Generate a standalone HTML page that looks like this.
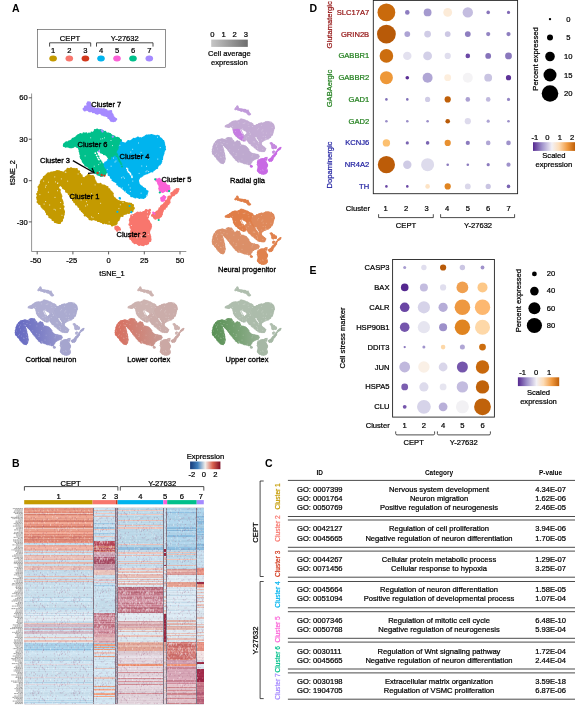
<!DOCTYPE html>
<html lang="en"><head><meta charset="utf-8"><title>Figure</title>
<style>html,body{margin:0;padding:0;background:#fff}svg{display:block}text{font-family:'Liberation Sans', Arial, Helvetica, sans-serif}</style>
</head><body>
<svg width="575" height="712" viewBox="0 0 575 712">
<rect width="575" height="712" fill="#fff"/>
<defs>
<g id="k1"><path d="M37.0 199.8L37.6 192.8L39.0 185.9L41.1 180.3L44.6 176.1L48.8 173.3L53.6 171.7L58.5 170.8L62.7 172.6L65.5 170.6L68.2 168.5L71.7 168.1L75.9 168.5L78.7 171.3L80.8 174.7L83.5 178.2L85.6 176.1L89.1 174.7L92.6 176.1L94.7 178.9L95.4 182.4L99.5 183.8L105.3 185.7L109.5 189.2L112.3 193.4L114.3 197.6L117.8 200.3L123.4 201.7L128.9 203.1L133.1 205.2L134.5 208.7L131.7 212.2L127.6 213.5L123.4 214.9L119.9 217.0L117.8 221.2L116.4 224.7L112.9 225.4L108.1 224.0L103.9 223.3L98.3 221.2L94.2 219.8L90.0 219.1L87.0 217.2L82.9 213.0L78.7 207.4L74.5 201.9L70.3 196.3L65.5 190.7L61.3 185.9L58.5 185.2L59.5 190.0L60.9 195.6L62.7 201.2L63.4 206.7L64.1 212.3L63.4 218.5L61.3 222.0L58.5 223.4L54.3 221.3L50.9 218.5L47.4 214.4L43.9 209.5L40.4 205.3L37.6 202.6Z" stroke-width="0.3"/><path d="M37.6 198.8h.01M37.3 197.4h.01M37.9 195.8h.01M37.4 193.9h.01M38.4 191.9h.01M39.1 190.9h.01M39.0 188.9h.01M38.7 186.9h.01M39.7 185.4h.01M41.2 183.4h.01M41.0 182.0h.01M41.6 180.5h.01M43.7 179.0h.01M44.0 177.3h.01M45.2 176.6h.01M46.8 174.7h.01M47.9 173.7h.01M49.0 173.4h.01M51.2 172.8h.01M52.6 172.8h.01M53.9 172.5h.01M55.5 171.9h.01M57.1 171.2h.01M58.8 171.5h.01M60.0 172.0h.01M61.7 172.3h.01M63.3 173.1h.01M65.0 171.7h.01M66.6 170.6h.01M67.7 169.1h.01M69.1 169.4h.01M71.0 168.4h.01M72.0 169.3h.01M74.0 169.6h.01M76.6 169.2h.01M76.9 170.7h.01M78.9 171.5h.01M79.9 174.1h.01M81.4 175.6h.01M81.8 177.4h.01M83.6 178.3h.01M86.8 176.9h.01M88.4 175.0h.01M89.3 175.8h.01M91.1 176.4h.01M92.8 176.2h.01M93.8 177.5h.01M94.2 179.6h.01M95.1 181.2h.01M95.6 182.6h.01M98.1 184.7h.01M100.4 184.0h.01M100.6 185.4h.01M102.5 185.8h.01M104.0 185.8h.01M105.4 186.4h.01M107.3 187.2h.01M108.0 189.4h.01M109.2 189.6h.01M110.5 191.4h.01M111.4 192.2h.01M112.6 193.7h.01M112.4 196.0h.01M113.0 197.2h.01M114.7 198.4h.01M116.4 199.9h.01M118.7 201.6h.01M119.7 202.0h.01M122.1 202.4h.01M124.2 202.3h.01M126.0 203.5h.01M127.6 203.8h.01M129.4 203.8h.01M131.0 204.0h.01M131.8 205.1h.01M132.8 205.3h.01M133.4 207.9h.01M133.4 208.2h.01M132.3 210.9h.01M130.7 211.8h.01M128.8 212.7h.01M126.1 213.2h.01M124.3 213.6h.01M122.4 215.7h.01M120.5 215.6h.01M119.4 217.1h.01M119.1 218.4h.01M118.4 220.1h.01M116.6 221.0h.01M116.4 223.3h.01M115.3 224.2h.01M113.5 224.5h.01M112.1 225.2h.01M111.0 223.8h.01M110.0 223.3h.01M108.0 223.4h.01M105.9 223.1h.01M103.2 223.1h.01M101.2 221.8h.01M99.9 221.0h.01M98.0 220.8h.01M95.6 219.6h.01M94.0 218.9h.01M91.7 219.6h.01M89.7 219.1h.01M88.9 217.3h.01M87.5 216.0h.01M84.9 215.2h.01M84.3 212.7h.01M83.7 212.2h.01M82.0 210.9h.01M80.3 209.3h.01M80.4 207.7h.01M78.6 206.5h.01M77.8 204.6h.01M76.2 204.2h.01M75.5 202.4h.01M74.3 201.8h.01M73.1 200.0h.01M72.8 198.2h.01M71.2 197.2h.01M70.2 195.5h.01M69.0 193.9h.01M68.1 191.9h.01M66.3 191.4h.01M66.3 189.9h.01M64.5 188.5h.01M63.3 187.9h.01M62.4 186.2h.01M60.5 184.9h.01M58.6 185.9h.01M57.6 187.3h.01M58.2 189.5h.01M59.6 190.1h.01M59.6 192.3h.01M60.6 194.4h.01M61.2 196.2h.01M60.7 197.8h.01M61.6 200.2h.01M62.2 201.6h.01M62.6 203.3h.01M62.2 205.8h.01M63.4 206.8h.01M63.0 209.6h.01M63.8 211.3h.01M63.8 212.7h.01M63.5 214.6h.01M62.4 215.9h.01M62.9 217.2h.01M61.9 218.7h.01M61.8 220.5h.01M60.7 221.1h.01M59.9 222.8h.01M58.3 222.7h.01M56.7 222.2h.01M55.0 221.8h.01M54.6 220.5h.01M52.7 219.7h.01M51.0 217.4h.01M49.5 216.9h.01M49.0 214.9h.01M47.1 214.0h.01M46.3 211.7h.01M45.4 209.5h.01M43.6 208.5h.01M42.4 207.3h.01M41.7 206.2h.01M40.5 203.7h.01M39.1 203.5h.01M37.8 201.9h.01" fill="none" stroke-linecap="round" stroke-width="2.5"/></g>
<g id="k2"><path d="M130.9 215.5L134.3 214.1L137.8 212.0L141.3 212.7L144.1 211.3L146.9 209.9L149.6 209.9L150.6 212.7L148.9 215.5L147.6 218.2L148.9 221.0L151.0 223.8L151.7 226.6L150.3 229.4L149.6 232.2L150.6 235.6L151.0 239.1L149.6 241.9L146.9 244.3L143.4 245.4L139.9 245.1L136.4 244.0L132.9 241.9L130.2 239.1L129.5 235.6L130.9 232.2L130.9 228.7L129.5 225.2L129.5 221.0L130.2 217.6ZM114.9 227.3L117.6 225.9L119.7 227.3L120.0 229.4L117.6 230.8L115.3 230.1ZM151.7 214.8L154.5 212.7L158.0 209.9L160.8 207.1L162.9 204.3L164.9 202.3L166.3 200.2L168.4 199.5L169.8 200.9L169.1 203.6L167.0 206.4L164.9 208.5L163.5 210.6L162.2 214.1L161.5 216.9L158.7 218.2L155.9 218.9L153.1 217.6ZM167.7 197.4L169.8 196.0L171.2 197.4L170.1 199.5L168.1 199.5ZM170.5 193.9L172.6 191.8L175.4 189.7L178.2 189.0L178.8 191.1L176.8 193.2L174.0 195.0L171.9 196.0Z" stroke-width="0.3"/><path d="M131.4 215.7h.01M133.0 215.3h.01M135.5 214.1h.01M137.3 213.1h.01M137.8 212.9h.01M140.4 212.7h.01M141.6 213.2h.01M143.4 212.3h.01M145.2 211.6h.01M146.1 210.2h.01M147.8 210.9h.01M149.8 210.0h.01M149.3 212.7h.01M149.1 213.8h.01M148.1 215.2h.01M147.8 217.3h.01M146.8 218.9h.01M147.6 220.5h.01M148.9 221.5h.01M149.9 223.7h.01M150.6 224.8h.01M150.7 226.8h.01M150.3 228.6h.01M149.2 230.6h.01M148.9 233.3h.01M149.3 235.1h.01M150.0 236.7h.01M150.0 238.0h.01M150.3 239.6h.01M150.1 240.8h.01M148.2 241.4h.01M147.9 243.3h.01M146.5 243.9h.01M144.4 243.7h.01M143.3 245.1h.01M141.6 244.5h.01M139.1 244.8h.01M138.2 244.0h.01M136.4 242.6h.01M134.6 242.9h.01M132.9 241.6h.01M132.0 239.7h.01M130.2 238.5h.01M130.0 237.1h.01M130.4 235.8h.01M130.9 233.8h.01M131.4 231.3h.01M132.0 230.1h.01M130.8 227.6h.01M131.1 225.9h.01M129.6 224.6h.01M130.7 223.1h.01M130.0 220.3h.01M130.5 218.9h.01M131.5 217.6h.01M115.5 227.2h.01M116.5 227.0h.01M117.6 227.0h.01M119.2 228.3h.01M119.8 229.5h.01M117.2 230.4h.01M115.6 228.5h.01M153.0 215.4h.01M153.7 214.0h.01M155.3 213.3h.01M156.9 212.1h.01M159.4 209.9h.01M159.6 208.6h.01M161.2 206.5h.01M162.5 205.6h.01M164.5 203.6h.01M165.9 201.3h.01M167.5 200.2h.01M169.2 200.2h.01M169.4 202.2h.01M168.3 203.7h.01M167.1 204.5h.01M166.4 206.6h.01M164.7 208.5h.01M162.5 210.8h.01M161.9 212.4h.01M161.7 214.2h.01M160.5 215.9h.01M159.0 217.2h.01M158.6 217.9h.01M155.4 218.5h.01M154.3 217.6h.01M154.3 217.0h.01M152.2 215.4h.01M168.6 197.1h.01M169.7 196.7h.01M170.7 197.6h.01M169.6 198.7h.01M168.2 199.1h.01M171.6 193.2h.01M173.8 191.7h.01M174.8 190.6h.01M176.7 189.3h.01M178.3 189.2h.01M177.4 191.4h.01M176.4 193.0h.01M174.3 194.0h.01M173.8 194.9h.01M171.7 195.8h.01" fill="none" stroke-linecap="round" stroke-width="2.5"/></g>
<g id="k4"><path d="M120.4 140.9L121.1 142.3L125.3 142.9L129.5 140.9L133.6 138.8L137.8 137.4L142.0 137.8L146.2 135.3L150.3 134.6L154.5 135.0L158.7 136.4L162.2 138.8L164.5 142.3L165.4 146.4L164.9 150.6L163.5 154.8L162.6 158.9L160.8 162.4L158.7 165.9L156.6 168.7L153.1 170.8L149.6 172.2L146.2 173.5L142.7 174.9L139.9 177.0L138.5 179.8L139.2 183.3L141.3 186.1L144.8 188.2L146.3 189.9L147.7 192.7L147.3 195.5L144.2 197.6L140.1 198.2L135.9 197.6L131.7 196.2L128.2 194.1L124.8 191.3L121.3 187.8L117.8 184.3L114.3 181.6L110.9 178.1L108.1 173.9L105.3 169.7L102.5 165.6L103.4 164.5L105.9 161.7L109.4 158.9L111.5 156.4L114.2 155.5L116.3 152.7L117.3 149.2L117.7 145.7L119.1 142.9L120.8 140.2Z" stroke-width="0.3"/><path d="M120.7 141.2h.01M122.2 142.9h.01M123.7 143.5h.01M126.4 143.6h.01M127.1 142.4h.01M128.3 141.2h.01M130.2 141.5h.01M132.1 140.6h.01M133.1 139.8h.01M133.8 139.0h.01M136.4 138.7h.01M137.9 137.8h.01M140.4 138.6h.01M143.0 138.0h.01M144.0 137.7h.01M145.8 136.2h.01M146.7 135.8h.01M148.6 135.8h.01M151.5 135.3h.01M153.2 135.9h.01M154.4 136.3h.01M157.3 136.1h.01M158.7 136.6h.01M160.5 138.7h.01M161.4 139.8h.01M163.2 141.2h.01M163.3 142.7h.01M163.8 144.7h.01M164.6 147.0h.01M164.9 149.2h.01M163.3 151.3h.01M163.2 153.5h.01M162.5 154.7h.01M161.9 157.0h.01M161.9 158.9h.01M161.1 161.5h.01M160.5 163.0h.01M159.6 164.2h.01M157.1 166.0h.01M157.0 167.7h.01M155.4 168.3h.01M154.1 169.4h.01M152.3 171.3h.01M151.0 171.1h.01M149.3 171.9h.01M147.3 173.0h.01M145.5 173.6h.01M143.7 174.2h.01M142.2 175.5h.01M140.7 176.4h.01M138.9 177.5h.01M138.6 178.6h.01M137.8 180.6h.01M138.1 182.5h.01M138.5 184.5h.01M139.9 186.0h.01M141.5 186.7h.01M143.0 188.5h.01M144.8 189.1h.01M145.5 190.8h.01M147.3 191.5h.01M146.4 193.7h.01M146.2 195.3h.01M144.9 196.8h.01M143.5 197.8h.01M141.9 197.5h.01M139.5 197.8h.01M138.1 197.1h.01M135.3 197.2h.01M133.6 196.4h.01M131.4 196.1h.01M129.7 193.5h.01M128.2 192.7h.01M126.7 191.5h.01M125.3 190.5h.01M124.0 188.9h.01M123.1 188.2h.01M121.6 187.3h.01M119.3 186.1h.01M119.0 185.2h.01M117.4 184.2h.01M115.8 181.4h.01M114.3 181.0h.01M112.7 180.1h.01M112.8 178.4h.01M111.1 177.5h.01M110.5 175.2h.01M108.8 174.8h.01M108.9 173.0h.01M106.7 171.7h.01M106.0 170.2h.01M105.1 169.3h.01M105.0 166.9h.01M104.0 166.4h.01M103.5 166.2h.01M103.4 164.4h.01M105.4 162.7h.01M107.5 161.8h.01M108.4 159.7h.01M110.7 159.2h.01M110.6 157.3h.01M111.9 156.6h.01M114.8 154.9h.01M115.5 154.0h.01M117.5 152.3h.01M117.7 150.8h.01M118.1 148.4h.01M117.8 147.3h.01M118.8 145.3h.01M119.2 144.4h.01M120.2 143.5h.01M120.7 141.5h.01M120.8 140.4h.01" fill="none" stroke-linecap="round" stroke-width="2.5"/></g>
<g id="k5"><path d="M155.9 179.3L159.4 178.9L162.9 182.1L167.0 184.5L169.8 187.0L170.1 189.7L168.4 191.8L165.6 191.1L163.5 192.5L160.8 191.8L159.4 189.0L158.7 185.6L157.3 182.1ZM160.8 197.4L163.5 196.0L165.6 197.4L164.9 200.2L162.9 201.6L160.8 200.6Z" stroke-width="0.3"/><path d="M156.5 179.5h.01M158.0 180.1h.01M159.3 179.1h.01M160.9 180.6h.01M161.5 181.7h.01M162.4 183.2h.01M165.1 183.2h.01M165.6 184.7h.01M166.5 185.6h.01M168.8 186.1h.01M169.1 188.0h.01M169.1 189.7h.01M167.2 190.9h.01M164.4 190.7h.01M162.5 191.7h.01M160.4 191.0h.01M159.8 189.8h.01M159.4 188.4h.01M159.9 186.7h.01M159.3 184.4h.01M158.4 183.4h.01M157.8 181.6h.01M156.3 180.3h.01M161.7 197.9h.01M163.1 197.4h.01M163.8 196.2h.01M165.1 197.3h.01M164.1 200.1h.01M162.9 200.5h.01M161.9 200.5h.01M161.4 198.4h.01" fill="none" stroke-linecap="round" stroke-width="2.5"/></g>
<g id="k6"><path d="M63.5 144.8L66.3 142.3L69.7 140.9L73.9 137.8L79.5 134.6L84.3 133.2L89.9 133.9L92.7 132.2L94.8 130.0L98.2 129.5L101.7 130.4L105.9 132.5L109.4 133.2L112.9 135.3L115.6 137.4L119.1 138.1L120.8 140.2L119.1 142.9L117.7 145.7L117.3 149.2L116.3 152.7L114.2 155.5L111.5 156.4L109.4 158.9L107.3 157.3L104.8 154.1L101.0 152.3L97.8 149.9L95.9 150.9L96.4 153.4L98.2 156.4L100.3 160.3L102.4 164.5L104.8 168.7L106.6 172.6L105.6 175.1L101.7 175.9L97.6 174.5L93.4 171.7L89.5 168.7L86.1 165.6L82.5 161.7L80.4 156.9L79.5 151.7L77.8 147.5L75.0 146.7L72.2 147.8L68.3 147.3L64.9 146.7Z" stroke-width="0.3"/><path d="M64.2 144.3h.01M65.2 143.6h.01M66.4 142.5h.01M68.9 141.8h.01M70.4 141.3h.01M71.8 140.6h.01M72.8 138.9h.01M74.5 138.5h.01M76.5 137.5h.01M76.9 136.5h.01M78.4 135.3h.01M80.4 134.2h.01M81.8 134.9h.01M83.7 133.4h.01M84.7 134.2h.01M86.2 133.6h.01M89.0 133.8h.01M90.4 133.9h.01M91.6 132.8h.01M93.6 133.1h.01M94.9 131.2h.01M95.0 130.2h.01M97.1 129.8h.01M98.4 130.7h.01M100.3 130.3h.01M102.2 131.5h.01M103.0 131.5h.01M105.1 132.0h.01M106.1 133.4h.01M108.4 133.7h.01M110.0 134.2h.01M111.0 135.4h.01M112.6 136.3h.01M114.2 136.7h.01M115.7 138.0h.01M117.5 137.9h.01M118.9 138.7h.01M120.2 140.2h.01M118.7 142.0h.01M118.7 143.6h.01M118.3 144.7h.01M117.3 146.4h.01M117.6 147.8h.01M117.1 149.3h.01M115.6 151.0h.01M115.7 153.2h.01M115.0 154.4h.01M112.6 155.7h.01M110.3 156.4h.01M110.0 158.5h.01M109.2 158.3h.01M108.1 156.5h.01M106.5 154.8h.01M104.1 153.9h.01M102.5 152.8h.01M101.0 152.2h.01M98.8 150.8h.01M97.3 149.7h.01M96.1 151.7h.01M96.7 154.1h.01M97.0 156.0h.01M98.2 156.7h.01M98.7 159.1h.01M100.2 160.8h.01M101.3 162.5h.01M101.6 163.5h.01M102.6 164.6h.01M102.6 166.3h.01M103.4 168.3h.01M105.1 169.9h.01M105.0 171.9h.01M105.7 172.6h.01M104.6 174.0h.01M102.6 175.6h.01M100.9 175.7h.01M99.2 174.7h.01M97.7 174.2h.01M96.2 173.0h.01M94.6 172.5h.01M93.4 171.1h.01M92.4 170.0h.01M90.6 169.6h.01M89.6 168.2h.01M88.7 167.1h.01M87.2 165.7h.01M85.5 165.2h.01M84.9 163.8h.01M84.0 162.7h.01M83.0 161.5h.01M82.1 159.3h.01M81.2 158.1h.01M80.8 156.8h.01M80.6 154.1h.01M80.5 153.0h.01M79.8 151.3h.01M79.5 148.4h.01M77.4 146.7h.01M73.1 146.4h.01M71.6 147.0h.01M69.9 147.1h.01M68.2 146.2h.01M65.7 146.5h.01M64.0 145.7h.01" fill="none" stroke-linecap="round" stroke-width="2.5"/></g>
<g id="k7"><path d="M83.2 108.8L84.6 106.7L86.7 105.3L87.8 102.5L89.5 101.8L90.6 103.9L91.6 107.4L95.7 108.1L100.6 108.8L104.8 108.8L108.2 110.9L111.0 110.9L112.4 114.3L113.8 117.8L115.9 119.2L115.2 121.3L111.7 121.7L109.6 119.9L108.2 117.1L105.5 115.7L102.7 115.0L99.9 113.6L96.4 113.9L92.9 112.3L89.5 110.9L86.0 110.6L83.9 110.2Z" stroke-width="0.3"/><path d="M83.8 108.9h.01M85.2 106.7h.01M87.4 103.7h.01M88.1 102.6h.01M89.8 102.7h.01M90.0 104.1h.01M91.0 106.1h.01M92.0 108.3h.01M94.2 108.6h.01M96.1 109.2h.01M98.3 108.7h.01M99.2 109.7h.01M101.0 109.6h.01M103.6 109.6h.01M105.2 110.3h.01M106.3 110.5h.01M109.1 111.5h.01M111.0 111.3h.01M111.5 113.6h.01M112.4 114.7h.01M113.2 116.4h.01M114.5 118.2h.01M116.0 119.3h.01M115.0 120.5h.01M113.3 121.0h.01M111.1 120.5h.01M110.6 119.3h.01M108.5 117.8h.01M108.3 116.5h.01M106.4 115.7h.01M104.3 115.3h.01M102.2 114.5h.01M101.4 113.4h.01M98.9 112.7h.01M97.5 113.4h.01M96.0 112.9h.01M94.3 111.8h.01M93.0 111.9h.01M90.6 111.1h.01M89.3 111.0h.01M87.2 109.5h.01M84.8 110.3h.01M84.0 109.4h.01" fill="none" stroke-linecap="round" stroke-width="2.5"/></g>
<g id="kw" fill="none" stroke-linecap="round"><path d="M81.1 200.1h.01M86.5 201.7h.01M55.0 197.4h.01M98.4 213.5h.01M46.1 185.4h.01M100.7 203.3h.01M55.5 181.9h.01M39.9 194.6h.01M87.6 204.8h.01M85.7 206.0h.01M81.6 184.0h.01M118.9 208.6h.01M67.7 181.2h.01M65.2 172.1h.01M44.1 204.1h.01M45.5 187.1h.01M131.0 211.5h.01M48.5 182.2h.01M91.5 193.7h.01M55.6 210.0h.01M49.7 205.0h.01M48.3 192.2h.01M57.7 183.5h.01M57.5 190.7h.01M120.3 204.8h.01M57.8 182.9h.01M65.9 172.3h.01M45.7 201.5h.01M60.7 202.5h.01M73.2 194.0h.01M93.0 217.7h.01M54.8 176.9h.01M61.3 178.9h.01M109.1 222.0h.01M123.0 202.6h.01M78.1 174.0h.01M60.2 208.4h.01M62.0 215.3h.01M95.1 184.9h.01M54.1 209.3h.01M43.7 181.1h.01M91.5 216.9h.01M141.1 152.4h.01M160.2 147.6h.01M113.6 158.1h.01M138.5 143.0h.01M125.3 191.3h.01M146.0 171.8h.01M146.6 195.9h.01M132.8 181.1h.01M107.2 169.4h.01M124.6 178.2h.01M128.7 184.9h.01M141.8 158.9h.01M139.1 173.4h.01M148.3 159.3h.01M148.7 171.6h.01M130.2 188.0h.01M132.7 149.3h.01M146.4 166.3h.01M141.1 193.2h.01M121.4 177.8h.01M130.3 191.4h.01M123.1 177.0h.01M115.0 162.0h.01M157.8 159.1h.01M139.2 154.7h.01M111.1 166.2h.01M147.2 195.1h.01M119.9 145.4h.01M130.8 152.1h.01M116.0 161.0h.01M141.8 166.0h.01M122.3 188.0h.01M157.4 137.2h.01M147.0 170.9h.01M111.0 140.5h.01M99.5 150.2h.01M99.6 159.9h.01M102.7 138.7h.01M90.7 137.8h.01M104.4 137.8h.01M79.1 145.5h.01M98.7 164.6h.01M99.3 171.7h.01M85.1 155.9h.01M100.8 139.0h.01M100.2 162.8h.01M94.2 166.2h.01M112.5 145.6h.01M131.3 225.5h.01M141.7 237.1h.01M147.5 212.2h.01M147.3 216.0h.01M136.9 237.8h.01M132.6 215.2h.01M141.0 235.6h.01M148.2 234.4h.01" stroke="#fff"/><path d="M126.8 168.3h.01M127.6 169.0h.01M127.6 170.5h.01M128.4 171.8h.01M129.5 172.6h.01M130.4 173.7h.01M130.6 174.6h.01M131.9 176.2h.01M132.0 177.3h.01M95.3 153.2h.01M96.6 155.4h.01M97.6 157.6h.01M98.6 159.4h.01" stroke="#fff" stroke-width="1.7" stroke-opacity="1"/></g>
<path id="k6c" d="M117.0 154.3h.01M121.3 164.0h.01M118.3 158.0h.01M119.5 161.0h.01M122.0 166.5h.01M116.5 156.0h.01M120.5 162.5h.01M117.6 156.3h.01M118.9 159.6h.01" fill="none" stroke-linecap="round" stroke-width="2.2"/>
<path id="k6b" d="M79.5 151.7L80.4 156.9L82.5 161.7L86.1 165.6L89.5 168.7L93.4 171.7L96.4 173.5L99.6 172.9L101.7 168.0L100.3 161.7L98.2 156.4L96.4 153.4L93.4 151.3L89.9 150.3L84.3 150.6Z"/>
<g id="k3"><circle cx="97.6" cy="172.9" r="1.0"/><circle cx="101.7" cy="175" r="1.0"/><circle cx="104.5" cy="175.6" r="0.9"/></g>
<linearGradient id="gGrey" x1="0" x2="1" y1="0" y2="0"><stop offset="0" stop-color="#c6c6c6"/><stop offset="1" stop-color="#6e6e6e"/></linearGradient>
<linearGradient id="gPO" x1="0" x2="1" y1="0" y2="0"><stop offset="0" stop-color="#54278f"/><stop offset="0.22" stop-color="#a194cc"/><stop offset="0.45" stop-color="#f3f1f6"/><stop offset="0.62" stop-color="#fddcb6"/><stop offset="0.82" stop-color="#f09a40"/><stop offset="1" stop-color="#bf5f08"/></linearGradient>
<linearGradient id="gRB" x1="0" x2="1" y1="0" y2="0"><stop offset="0" stop-color="#163a78"/><stop offset="0.25" stop-color="#3f7fbd"/><stop offset="0.5" stop-color="#f2eeea"/><stop offset="0.75" stop-color="#d9614e"/><stop offset="1" stop-color="#7d0e24"/></linearGradient>
<linearGradient id="gCort" x1="0" x2="1" y1="0" y2="0"><stop offset="0" stop-color="#6468c2"/><stop offset="0.5" stop-color="#7c7ec6"/><stop offset="1" stop-color="#9a9acd"/></linearGradient>
<linearGradient id="gLow" x1="0" x2="1" y1="0" y2="0"><stop offset="0" stop-color="#d96e5e"/><stop offset="0.5" stop-color="#cf8478"/><stop offset="1" stop-color="#c79b95"/></linearGradient>
<linearGradient id="gUp" x1="0" x2="1" y1="0" y2="0"><stop offset="0" stop-color="#589054"/><stop offset="0.5" stop-color="#74a070"/><stop offset="1" stop-color="#96b094"/></linearGradient>
</defs>
<text x="12.0" y="11.8" font-size="10.5" text-anchor="start" fill="#000" font-weight="bold">A</text>
<rect x="37.3" y="29.5" width="128.3" height="37.8" fill="none" stroke="#444" stroke-width="0.6"/>
<text x="70.0" y="40.6" font-size="7.6" text-anchor="middle" fill="#000" stroke="#000" stroke-width="0.22">CEPT</text>
<text x="124.8" y="40.6" font-size="7.6" text-anchor="middle" fill="#000" stroke="#000" stroke-width="0.22">Y-27632</text>
<path d="M49.6 46.6V42.8H90.7V46.6M96.5 46.6V42.8H153V46.6" fill="none" stroke="#111" stroke-width="0.75"/>
<text x="53.1" y="53.2" font-size="7.6" text-anchor="middle" fill="#000" stroke="#000" stroke-width="0.22">1</text>
<ellipse cx="53.1" cy="58.4" rx="3.8" ry="3" fill="#C49A00"/>
<text x="69.3" y="53.2" font-size="7.6" text-anchor="middle" fill="#000" stroke="#000" stroke-width="0.22">2</text>
<ellipse cx="69.3" cy="58.4" rx="3.8" ry="3" fill="#F8766D"/>
<text x="85.4" y="53.2" font-size="7.6" text-anchor="middle" fill="#000" stroke="#000" stroke-width="0.22">3</text>
<ellipse cx="85.4" cy="58.4" rx="3.8" ry="3" fill="#D2381C"/>
<text x="101.0" y="53.2" font-size="7.6" text-anchor="middle" fill="#000" stroke="#000" stroke-width="0.22">4</text>
<ellipse cx="101" cy="58.4" rx="3.8" ry="3" fill="#00B4EE"/>
<text x="117.0" y="53.2" font-size="7.6" text-anchor="middle" fill="#000" stroke="#000" stroke-width="0.22">5</text>
<ellipse cx="117" cy="58.4" rx="3.8" ry="3" fill="#FB61D7"/>
<text x="133.0" y="53.2" font-size="7.6" text-anchor="middle" fill="#000" stroke="#000" stroke-width="0.22">6</text>
<ellipse cx="133" cy="58.4" rx="3.8" ry="3" fill="#00C08B"/>
<text x="149.3" y="53.2" font-size="7.6" text-anchor="middle" fill="#000" stroke="#000" stroke-width="0.22">7</text>
<ellipse cx="149.3" cy="58.4" rx="3.8" ry="3" fill="#A58AFF"/>
<text x="212.3" y="36.9" font-size="7.6" text-anchor="middle" fill="#000" stroke="#000" stroke-width="0.22">0</text>
<text x="223.6" y="36.9" font-size="7.6" text-anchor="middle" fill="#000" stroke="#000" stroke-width="0.22">1</text>
<text x="234.7" y="36.9" font-size="7.6" text-anchor="middle" fill="#000" stroke="#000" stroke-width="0.22">2</text>
<text x="245.8" y="36.9" font-size="7.6" text-anchor="middle" fill="#000" stroke="#000" stroke-width="0.22">3</text>
<rect x="211.2" y="39.6" width="36.6" height="7.3" fill="url(#gGrey)"/>
<text x="229.4" y="55.9" font-size="7.6" text-anchor="middle" fill="#000" stroke="#000" stroke-width="0.22">Cell average</text>
<text x="229.4" y="64.7" font-size="7.6" text-anchor="middle" fill="#000" stroke="#000" stroke-width="0.22">expression</text>
<path d="M31.6 93.5V251.5H186.3" fill="none" stroke="#7a7a7a" stroke-width="0.8"/>
<path d="M28.8 97.8H31.6" stroke="#333" stroke-width="0.8"/>
<text x="27.8" y="100.4" font-size="7.6" text-anchor="end" fill="#000" stroke="#000" stroke-width="0.22">60</text>
<path d="M28.8 139.2H31.6" stroke="#333" stroke-width="0.8"/>
<text x="27.8" y="141.8" font-size="7.6" text-anchor="end" fill="#000" stroke="#000" stroke-width="0.22">30</text>
<path d="M28.8 180.7H31.6" stroke="#333" stroke-width="0.8"/>
<text x="27.8" y="183.3" font-size="7.6" text-anchor="end" fill="#000" stroke="#000" stroke-width="0.22">0</text>
<path d="M28.8 221.9H31.6" stroke="#333" stroke-width="0.8"/>
<text x="27.8" y="224.5" font-size="7.6" text-anchor="end" fill="#000" stroke="#000" stroke-width="0.22">-30</text>
<path d="M37.2 251.5V254.4" stroke="#333" stroke-width="0.8"/>
<text x="35.7" y="262.8" font-size="7.6" text-anchor="middle" fill="#000" stroke="#000" stroke-width="0.22">-50</text>
<path d="M72.9 251.5V254.4" stroke="#333" stroke-width="0.8"/>
<text x="71.7" y="262.8" font-size="7.6" text-anchor="middle" fill="#000" stroke="#000" stroke-width="0.22">-25</text>
<path d="M108.6 251.5V254.4" stroke="#333" stroke-width="0.8"/>
<text x="108.6" y="262.8" font-size="7.6" text-anchor="middle" fill="#000" stroke="#000" stroke-width="0.22">0</text>
<path d="M144.3 251.5V254.4" stroke="#333" stroke-width="0.8"/>
<text x="144.3" y="262.8" font-size="7.6" text-anchor="middle" fill="#000" stroke="#000" stroke-width="0.22">25</text>
<path d="M180 251.5V254.4" stroke="#333" stroke-width="0.8"/>
<text x="180.0" y="262.8" font-size="7.6" text-anchor="middle" fill="#000" stroke="#000" stroke-width="0.22">50</text>
<text x="112.0" y="276.4" font-size="7.4" text-anchor="middle" fill="#000" stroke="#000" stroke-width="0.22">tSNE_1</text>
<text x="15.2" y="172.5" font-size="7.2" text-anchor="middle" fill="#000" stroke="#000" stroke-width="0.22" transform="rotate(-90 15.2 172.5)">tSNE_2</text>
<g>
<use href="#k1" fill="#C49A00" stroke="#C49A00"/>
<use href="#k4" fill="#00B4EE" stroke="#00B4EE"/>
<use href="#k6" fill="#00C08B" stroke="#00C08B"/>
<use href="#k2" fill="#F8766D" stroke="#F8766D"/>
<use href="#k5" fill="#FB61D7" stroke="#FB61D7"/>
<use href="#k7" fill="#A58AFF" stroke="#A58AFF"/>
<use href="#k3" fill="#D2381C" stroke="#D2381C" stroke-width="0.5"/>
<use href="#k6c" stroke="#00C08B"/>
<use href="#kw" stroke-width="0.9"/>
</g>
<circle cx="120" cy="198.6" r="1.1" fill="#00B4EE"/>
<circle cx="117.4" cy="211.8" r="1.1" fill="#00B4EE"/>
<circle cx="129.6" cy="206" r="1.1" fill="#00B4EE"/>
<circle cx="131.3" cy="212.2" r="1.1" fill="#00B4EE"/>
<circle cx="119.6" cy="198" r="1.1" fill="#00B4EE"/>
<circle cx="155.2" cy="179.3" r="1.1" fill="#00C08B"/>
<circle cx="158.7" cy="220" r="1.1" fill="#00C08B"/>
<circle cx="159.8" cy="192.5" r="1.1" fill="#00C08B"/>
<circle cx="169.1" cy="191.1" r="1.1" fill="#00C08B"/>
<circle cx="101.7" cy="130" r="1.1" fill="#A58AFF"/>
<circle cx="112.8" cy="136.7" r="1.1" fill="#A58AFF"/>
<circle cx="99" cy="151.3" r="1.1" fill="#A58AFF"/>
<circle cx="102.5" cy="131.5" r="1.1" fill="#A58AFF"/>
<circle cx="153.2" cy="212.7" r="1.1" fill="#FB61D7"/>
<circle cx="154.5" cy="213.8" r="1.1" fill="#FB61D7"/>
<text x="106.3" y="107.3" font-size="7.5" text-anchor="middle" fill="#000" stroke="#000" stroke-width="0.34">Cluster 7</text>
<text x="92.5" y="146.5" font-size="7.5" text-anchor="middle" fill="#000" stroke="#000" stroke-width="0.34">Cluster 6</text>
<text x="134.5" y="159.0" font-size="7.5" text-anchor="middle" fill="#000" stroke="#000" stroke-width="0.34">Cluster 4</text>
<text x="55.0" y="163.2" font-size="7.5" text-anchor="middle" fill="#000" stroke="#000" stroke-width="0.34">Cluster 3</text>
<text x="176.5" y="181.5" font-size="7.5" text-anchor="middle" fill="#000" stroke="#000" stroke-width="0.34">Cluster 5</text>
<text x="84.5" y="198.8" font-size="7.5" text-anchor="middle" fill="#000" stroke="#000" stroke-width="0.34">Cluster 1</text>
<text x="131.5" y="236.8" font-size="7.5" text-anchor="middle" fill="#000" stroke="#000" stroke-width="0.34">Cluster 2</text>
<path d="M72.9 160.6L93.6 172.5" stroke="#000" stroke-width="1.25" fill="none"/>
<path d="M88 173.3L94.1 172.8L92 168.1" stroke="#000" stroke-width="1.2" fill="none" stroke-linejoin="miter"/>
<g transform="translate(194.09 56.84) scale(0.487 0.479)">
<use href="#k1" fill="#BEA9CF" stroke="#BEA9CF"/>
<use href="#k4" fill="#C3ABD3" stroke="#C3ABD3"/>
<use href="#k6" fill="#C3ABD3" stroke="#C3ABD3"/>
<use href="#k6b" fill="#C67CE2"/>
<use href="#k2" fill="#C86AE4" stroke="#C86AE4"/>
<use href="#k5" fill="#C58ADE" stroke="#C58ADE"/>
<use href="#k7" fill="#C19BDA" stroke="#C19BDA"/>
<use href="#k3" fill="#C86AE4" stroke="#C86AE4" stroke-width="0.5"/>
<use href="#k6c" stroke="#C3ABD3"/>
<use href="#kw" stroke-width="1.3" stroke-opacity="0.45"/>
</g>
<text x="247.5" y="182.7" font-size="7.5" text-anchor="middle" fill="#000" stroke="#000" stroke-width="0.3">Radial glia</text>
<g transform="translate(194.09 147.04) scale(0.487 0.479)">
<use href="#k1" fill="#DB8F68" stroke="#DB8F68"/>
<use href="#k4" fill="#DF8859" stroke="#DF8859"/>
<use href="#k6" fill="#E07E48" stroke="#E07E48"/>
<use href="#k2" fill="#E0824E" stroke="#E0824E"/>
<use href="#k5" fill="#E0824E" stroke="#E0824E"/>
<use href="#k7" fill="#E07E48" stroke="#E07E48"/>
<use href="#k3" fill="#E0824E" stroke="#E0824E" stroke-width="0.5"/>
<use href="#k6c" stroke="#E07E48"/>
<use href="#kw" stroke-width="1.3" stroke-opacity="0.45"/>
</g>
<text x="247.0" y="272.0" font-size="7.5" text-anchor="middle" fill="#000" stroke="#000" stroke-width="0.3">Neural progenitor</text>
<g transform="translate(-2.91 237.84) scale(0.487 0.479)">
<use href="#k1" fill="url(#gCort)" stroke="url(#gCort)"/>
<use href="#k4" fill="#ABABD0" stroke="#ABABD0"/>
<use href="#k6" fill="#AFAED2" stroke="#AFAED2"/>
<use href="#k2" fill="#A5A5CE" stroke="#A5A5CE"/>
<use href="#k5" fill="#B0AFD3" stroke="#B0AFD3"/>
<use href="#k7" fill="#AFAED2" stroke="#AFAED2"/>
<use href="#k3" fill="#A5A5CE" stroke="#A5A5CE" stroke-width="0.5"/>
<use href="#k6c" stroke="#AFAED2"/>
<use href="#kw" stroke-width="1.3" stroke-opacity="0.45"/>
</g>
<text x="50.9" y="361.7" font-size="7.5" text-anchor="middle" fill="#000" stroke="#000" stroke-width="0.3">Cortical neuron</text>
<g transform="translate(96.99 237.84) scale(0.487 0.479)">
<use href="#k1" fill="url(#gLow)" stroke="url(#gLow)"/>
<use href="#k4" fill="#CBADAA" stroke="#CBADAA"/>
<use href="#k6" fill="#CDB3B0" stroke="#CDB3B0"/>
<use href="#k2" fill="#CBA8A4" stroke="#CBA8A4"/>
<use href="#k5" fill="#CEB3B0" stroke="#CEB3B0"/>
<use href="#k7" fill="#CDB3B0" stroke="#CDB3B0"/>
<use href="#k3" fill="#CBA8A4" stroke="#CBA8A4" stroke-width="0.5"/>
<use href="#k6c" stroke="#CDB3B0"/>
<use href="#kw" stroke-width="1.3" stroke-opacity="0.45"/>
</g>
<text x="148.8" y="361.7" font-size="7.5" text-anchor="middle" fill="#000" stroke="#000" stroke-width="0.3">Lower cortex</text>
<g transform="translate(194.09 237.84) scale(0.487 0.479)">
<use href="#k1" fill="url(#gUp)" stroke="url(#gUp)"/>
<use href="#k4" fill="#ACBCAB" stroke="#ACBCAB"/>
<use href="#k6" fill="#AFBEAE" stroke="#AFBEAE"/>
<use href="#k2" fill="#A6B8A5" stroke="#A6B8A5"/>
<use href="#k5" fill="#B0BFAF" stroke="#B0BFAF"/>
<use href="#k7" fill="#AFBEAE" stroke="#AFBEAE"/>
<use href="#k3" fill="#A6B8A5" stroke="#A6B8A5" stroke-width="0.5"/>
<use href="#k6c" stroke="#AFBEAE"/>
<use href="#kw" stroke-width="1.3" stroke-opacity="0.45"/>
</g>
<text x="247.0" y="361.7" font-size="7.5" text-anchor="middle" fill="#000" stroke="#000" stroke-width="0.3">Upper cortex</text>
<text x="309.4" y="11.8" font-size="10.5" text-anchor="start" fill="#000" font-weight="bold">D</text>
<rect x="373.3" y="0.4" width="144.3" height="193.3" fill="none" stroke="#222" stroke-width="0.9"/>
<text x="369.2" y="14.9" font-size="7.6" text-anchor="end" fill="#931212" stroke="#931212" stroke-width="0.22">SLC17A7</text>
<circle cx="386.4" cy="12.4" r="8.9" fill="#C96A0C"/>
<circle cx="407.3" cy="12.4" r="2.3" fill="#8D7CC0"/>
<circle cx="427.6" cy="12.4" r="3.9" fill="#A59ACF"/>
<circle cx="447.7" cy="12.4" r="4.4" fill="#FCEBD8"/>
<circle cx="467.8" cy="12.4" r="5.2" fill="#C4BDE0"/>
<circle cx="488.2" cy="12.4" r="1.8" fill="#8875BB"/>
<circle cx="508.5" cy="12.4" r="1.6" fill="#8068B5"/>
<text x="369.2" y="36.6" font-size="7.6" text-anchor="end" fill="#931212" stroke="#931212" stroke-width="0.22">GRIN2B</text>
<circle cx="386.4" cy="34.1" r="9.4" fill="#B85A08"/>
<circle cx="407.3" cy="34.1" r="2.9" fill="#ADA3D4"/>
<circle cx="427.6" cy="34.1" r="3.4" fill="#D0CCE6"/>
<circle cx="447.7" cy="34.1" r="2.9" fill="#CDC8E4"/>
<circle cx="467.8" cy="34.1" r="2.9" fill="#8E7EC0"/>
<circle cx="488.2" cy="34.1" r="2.1" fill="#9384C3"/>
<circle cx="508.5" cy="34.1" r="2.1" fill="#8D7DBF"/>
<text x="369.2" y="58.4" font-size="7.6" text-anchor="end" fill="#23801F" stroke="#23801F" stroke-width="0.22">GABBR1</text>
<circle cx="386.4" cy="55.9" r="6.8" fill="#CC6D0E"/>
<circle cx="407.3" cy="55.9" r="4.2" fill="#E3E1EF"/>
<circle cx="427.6" cy="55.9" r="4.4" fill="#D3D0E8"/>
<circle cx="447.7" cy="55.9" r="3.1" fill="#E0DEEE"/>
<circle cx="467.8" cy="55.9" r="2.3" fill="#6B48A5"/>
<circle cx="488.2" cy="55.9" r="2.9" fill="#8673BA"/>
<circle cx="508.5" cy="55.9" r="3.4" fill="#8A78BD"/>
<text x="369.2" y="80.2" font-size="7.6" text-anchor="end" fill="#23801F" stroke="#23801F" stroke-width="0.22">GABBR2</text>
<circle cx="386.4" cy="77.7" r="6.5" fill="#EE9838"/>
<circle cx="407.3" cy="77.7" r="1.8" fill="#5A2D94"/>
<circle cx="427.6" cy="77.7" r="5.0" fill="#B0A6D5"/>
<circle cx="447.7" cy="77.7" r="3.4" fill="#FDEEDD"/>
<circle cx="467.8" cy="77.7" r="5.0" fill="#F4F3F5"/>
<circle cx="488.2" cy="77.7" r="3.9" fill="#C9C4E2"/>
<circle cx="508.5" cy="77.7" r="2.6" fill="#5E3398"/>
<text x="369.2" y="101.9" font-size="7.6" text-anchor="end" fill="#23801F" stroke="#23801F" stroke-width="0.22">GAD1</text>
<circle cx="386.4" cy="99.4" r="1.3" fill="#8070B8"/>
<circle cx="407.3" cy="99.4" r="1.3" fill="#8070B8"/>
<circle cx="427.6" cy="99.4" r="2.6" fill="#D0CCE6"/>
<circle cx="447.7" cy="99.4" r="3.1" fill="#BF5F08"/>
<circle cx="467.8" cy="99.4" r="2.3" fill="#ABA0D2"/>
<circle cx="488.2" cy="99.4" r="2.3" fill="#C0B9DE"/>
<circle cx="508.5" cy="99.4" r="1.6" fill="#9385C3"/>
<text x="369.2" y="123.7" font-size="7.6" text-anchor="end" fill="#23801F" stroke="#23801F" stroke-width="0.22">GAD2</text>
<circle cx="386.4" cy="121.2" r="1.3" fill="#9A8DC8"/>
<circle cx="407.3" cy="121.2" r="1.3" fill="#9A8DC8"/>
<circle cx="427.6" cy="121.2" r="1.3" fill="#9A8DC8"/>
<circle cx="447.7" cy="121.2" r="2.3" fill="#B85A08"/>
<circle cx="467.8" cy="121.2" r="3.1" fill="#DDDAEC"/>
<circle cx="488.2" cy="121.2" r="1.6" fill="#ADA3D4"/>
<circle cx="508.5" cy="121.2" r="1.3" fill="#9A8DC8"/>
<text x="369.2" y="145.4" font-size="7.6" text-anchor="end" fill="#1E1EA0" stroke="#1E1EA0" stroke-width="0.22">KCNJ6</text>
<circle cx="386.4" cy="142.9" r="3.7" fill="#FCC070"/>
<circle cx="407.3" cy="142.9" r="1.6" fill="#7A64B2"/>
<circle cx="427.6" cy="142.9" r="1.8" fill="#7A64B2"/>
<circle cx="447.7" cy="142.9" r="3.1" fill="#E89030"/>
<circle cx="467.8" cy="142.9" r="2.1" fill="#8B7ABE"/>
<circle cx="488.2" cy="142.9" r="2.3" fill="#B0A6D5"/>
<circle cx="508.5" cy="142.9" r="2.3" fill="#9F92CB"/>
<text x="369.2" y="167.2" font-size="7.6" text-anchor="end" fill="#1E1EA0" stroke="#1E1EA0" stroke-width="0.22">NR4A2</text>
<circle cx="386.4" cy="164.7" r="8.6" fill="#BC5C08"/>
<circle cx="407.3" cy="164.7" r="4.2" fill="#CFCBE5"/>
<circle cx="427.6" cy="164.7" r="6.5" fill="#DDDBEC"/>
<circle cx="447.7" cy="164.7" r="1.3" fill="#8B7ABE"/>
<circle cx="467.8" cy="164.7" r="1.3" fill="#8B7ABE"/>
<circle cx="488.2" cy="164.7" r="1.6" fill="#8B7ABE"/>
<circle cx="508.5" cy="164.7" r="2.1" fill="#9F92CB"/>
<text x="369.2" y="188.9" font-size="7.6" text-anchor="end" fill="#1E1EA0" stroke="#1E1EA0" stroke-width="0.22">TH</text>
<circle cx="386.4" cy="186.4" r="1.3" fill="#6B48A5"/>
<circle cx="407.3" cy="186.4" r="1.3" fill="#6B48A5"/>
<circle cx="427.6" cy="186.4" r="2.3" fill="#FDE3C5"/>
<circle cx="447.7" cy="186.4" r="3.1" fill="#E08420"/>
<circle cx="467.8" cy="186.4" r="2.9" fill="#DAD7EA"/>
<circle cx="488.2" cy="186.4" r="2.6" fill="#C9C4E2"/>
<circle cx="508.5" cy="186.4" r="1.8" fill="#7A64B2"/>
<text x="331.8" y="24.8" font-size="7.6" text-anchor="middle" fill="#931212" stroke="#931212" stroke-width="0.22" transform="rotate(-90 331.8 24.8)">Glutamatergic</text>
<text x="331.8" y="88.5" font-size="7.6" text-anchor="middle" fill="#23801F" stroke="#23801F" stroke-width="0.22" transform="rotate(-90 331.8 88.5)">GABAergic</text>
<text x="331.8" y="165.0" font-size="7.6" text-anchor="middle" fill="#1E1EA0" stroke="#1E1EA0" stroke-width="0.22" transform="rotate(-90 331.8 165.0)">Dopaminergic</text>
<text x="357.9" y="211.0" font-size="7.6" text-anchor="middle" fill="#000" stroke="#000" stroke-width="0.22">Cluster</text>
<text x="385.5" y="211.0" font-size="7.6" text-anchor="middle" fill="#000" stroke="#000" stroke-width="0.22">1</text>
<text x="406.2" y="211.0" font-size="7.6" text-anchor="middle" fill="#000" stroke="#000" stroke-width="0.22">2</text>
<text x="426.7" y="211.0" font-size="7.6" text-anchor="middle" fill="#000" stroke="#000" stroke-width="0.22">3</text>
<text x="447.1" y="211.0" font-size="7.6" text-anchor="middle" fill="#000" stroke="#000" stroke-width="0.22">4</text>
<text x="467.9" y="211.0" font-size="7.6" text-anchor="middle" fill="#000" stroke="#000" stroke-width="0.22">5</text>
<text x="488.0" y="211.0" font-size="7.6" text-anchor="middle" fill="#000" stroke="#000" stroke-width="0.22">6</text>
<text x="508.6" y="211.0" font-size="7.6" text-anchor="middle" fill="#000" stroke="#000" stroke-width="0.22">7</text>
<path d="M378.6 214.2V217.6H433.3V214.2M440.6 214.2V217.6H514.6V214.2" fill="none" stroke="#111" stroke-width="0.75"/>
<text x="406.0" y="227.8" font-size="7.6" text-anchor="middle" fill="#000" stroke="#000" stroke-width="0.22">CEPT</text>
<text x="478.1" y="227.8" font-size="7.6" text-anchor="middle" fill="#000" stroke="#000" stroke-width="0.22">Y-27632</text>
<circle cx="550" cy="19.1" r="1.2" fill="#000"/>
<text x="568.3" y="21.6" font-size="7.6" text-anchor="middle" fill="#000" stroke="#000" stroke-width="0.22">0</text>
<circle cx="550" cy="37.6" r="3.0" fill="#000"/>
<text x="568.3" y="40.1" font-size="7.6" text-anchor="middle" fill="#000" stroke="#000" stroke-width="0.22">5</text>
<circle cx="550" cy="56.5" r="4.8" fill="#000"/>
<text x="568.3" y="59.0" font-size="7.6" text-anchor="middle" fill="#000" stroke="#000" stroke-width="0.22">10</text>
<circle cx="550" cy="75" r="6.5" fill="#000"/>
<text x="568.3" y="77.5" font-size="7.6" text-anchor="middle" fill="#000" stroke="#000" stroke-width="0.22">15</text>
<circle cx="550" cy="93.5" r="8.3" fill="#000"/>
<text x="568.3" y="96.0" font-size="7.6" text-anchor="middle" fill="#000" stroke="#000" stroke-width="0.22">20</text>
<text x="537.6" y="59.0" font-size="7.6" text-anchor="middle" fill="#000" stroke="#000" stroke-width="0.22" transform="rotate(-90 537.6 59.0)">Percent expressed</text>
<text x="534.8" y="139.7" font-size="7.6" text-anchor="middle" fill="#000" stroke="#000" stroke-width="0.22">-1</text>
<text x="547.4" y="139.7" font-size="7.6" text-anchor="middle" fill="#000" stroke="#000" stroke-width="0.22">0</text>
<text x="559.8" y="139.7" font-size="7.6" text-anchor="middle" fill="#000" stroke="#000" stroke-width="0.22">1</text>
<text x="572.2" y="139.7" font-size="7.6" text-anchor="middle" fill="#000" stroke="#000" stroke-width="0.22">2</text>
<rect x="533" y="142.2" width="42" height="8.7" fill="url(#gPO)"/>
<text x="553.9" y="157.8" font-size="7.6" text-anchor="middle" fill="#000" stroke="#000" stroke-width="0.22">Scaled</text>
<text x="553.9" y="167.2" font-size="7.6" text-anchor="middle" fill="#000" stroke="#000" stroke-width="0.22">expression</text>
<text x="309.6" y="274.0" font-size="10.5" text-anchor="start" fill="#000" font-weight="bold">E</text>
<rect x="392.6" y="259.5" width="101.8" height="157.6" fill="none" stroke="#222" stroke-width="0.9"/>
<text x="389.5" y="270.0" font-size="7.6" text-anchor="end" fill="#000" stroke="#000" stroke-width="0.22">CASP3</text>
<circle cx="404.7" cy="267.5" r="1.5" fill="#A79CD0"/>
<circle cx="423.9" cy="267.5" r="2.7" fill="#E0DEEE"/>
<circle cx="443.1" cy="267.5" r="3.1" fill="#B85A08"/>
<circle cx="462.4" cy="267.5" r="2.7" fill="#CBC6E3"/>
<circle cx="482.5" cy="267.5" r="1.9" fill="#A092CB"/>
<text x="389.5" y="289.9" font-size="7.6" text-anchor="end" fill="#000" stroke="#000" stroke-width="0.22">BAX</text>
<circle cx="404.7" cy="287.4" r="3.8" fill="#54278F"/>
<circle cx="423.9" cy="287.4" r="4.0" fill="#C3BCDF"/>
<circle cx="443.1" cy="287.4" r="3.1" fill="#E0DEEE"/>
<circle cx="462.4" cy="287.4" r="5.9" fill="#F0A050"/>
<circle cx="482.5" cy="287.4" r="5.0" fill="#FDC888"/>
<text x="389.5" y="309.8" font-size="7.6" text-anchor="end" fill="#000" stroke="#000" stroke-width="0.22">CALR</text>
<circle cx="404.7" cy="307.3" r="4.8" fill="#6A46A4"/>
<circle cx="423.9" cy="307.3" r="6.1" fill="#D6D3E9"/>
<circle cx="443.1" cy="307.3" r="4.6" fill="#B6ADD8"/>
<circle cx="462.4" cy="307.3" r="7.8" fill="#EE9840"/>
<circle cx="482.5" cy="307.3" r="7.7" fill="#FDB870"/>
<text x="389.5" y="329.7" font-size="7.6" text-anchor="end" fill="#000" stroke="#000" stroke-width="0.22">HSP90B1</text>
<circle cx="404.7" cy="327.2" r="4.8" fill="#7556AC"/>
<circle cx="423.9" cy="327.2" r="6.1" fill="#E6E5F0"/>
<circle cx="443.1" cy="327.2" r="4.0" fill="#9D90CA"/>
<circle cx="462.4" cy="327.2" r="7.7" fill="#E08420"/>
<circle cx="482.5" cy="327.2" r="7.5" fill="#FED8A8"/>
<text x="389.5" y="349.6" font-size="7.6" text-anchor="end" fill="#000" stroke="#000" stroke-width="0.22">DDIT3</text>
<circle cx="404.7" cy="347.1" r="1.15" fill="#8875BB"/>
<circle cx="423.9" cy="347.1" r="1.5" fill="#A094CC"/>
<circle cx="443.1" cy="347.1" r="2.3" fill="#FDD8A8"/>
<circle cx="462.4" cy="347.1" r="2.5" fill="#B0A6D5"/>
<circle cx="482.5" cy="347.1" r="3.4" fill="#CC6D0E"/>
<text x="389.5" y="369.5" font-size="7.6" text-anchor="end" fill="#000" stroke="#000" stroke-width="0.22">JUN</text>
<circle cx="404.7" cy="367.0" r="5.4" fill="#C0B8DD"/>
<circle cx="423.9" cy="367.0" r="5.7" fill="#FAF0E6"/>
<circle cx="443.1" cy="367.0" r="4.4" fill="#D9D6EA"/>
<circle cx="462.4" cy="367.0" r="5.5" fill="#7556AC"/>
<circle cx="482.5" cy="367.0" r="6.7" fill="#C8680C"/>
<text x="389.5" y="389.4" font-size="7.6" text-anchor="end" fill="#000" stroke="#000" stroke-width="0.22">HSPA5</text>
<circle cx="404.7" cy="386.9" r="3.4" fill="#7B5EB0"/>
<circle cx="423.9" cy="386.9" r="4.6" fill="#DDDBEC"/>
<circle cx="443.1" cy="386.9" r="3.4" fill="#E6E5F0"/>
<circle cx="462.4" cy="386.9" r="5.7" fill="#C3BCDF"/>
<circle cx="482.5" cy="386.9" r="6.7" fill="#C0620A"/>
<text x="389.5" y="409.3" font-size="7.6" text-anchor="end" fill="#000" stroke="#000" stroke-width="0.22">CLU</text>
<circle cx="404.7" cy="406.8" r="1.9" fill="#7556AC"/>
<circle cx="423.9" cy="406.8" r="6.9" fill="#D6D3E9"/>
<circle cx="443.1" cy="406.8" r="4.4" fill="#B9B0D9"/>
<circle cx="462.4" cy="406.8" r="6.5" fill="#F2F1F4"/>
<circle cx="482.5" cy="406.8" r="8.4" fill="#C0620A"/>
<text x="345.3" y="338.0" font-size="7.6" text-anchor="middle" fill="#000" stroke="#000" stroke-width="0.22" transform="rotate(-90 345.3 338.0)">Cell stress marker</text>
<text x="377.7" y="427.6" font-size="7.6" text-anchor="middle" fill="#000" stroke="#000" stroke-width="0.22">Cluster</text>
<text x="404.7" y="427.6" font-size="7.6" text-anchor="middle" fill="#000" stroke="#000" stroke-width="0.22">1</text>
<text x="423.9" y="427.6" font-size="7.6" text-anchor="middle" fill="#000" stroke="#000" stroke-width="0.22">2</text>
<text x="443.1" y="427.6" font-size="7.6" text-anchor="middle" fill="#000" stroke="#000" stroke-width="0.22">4</text>
<text x="462.4" y="427.6" font-size="7.6" text-anchor="middle" fill="#000" stroke="#000" stroke-width="0.22">5</text>
<text x="482.5" y="427.6" font-size="7.6" text-anchor="middle" fill="#000" stroke="#000" stroke-width="0.22">6</text>
<path d="M395.7 431.4V433.6Q395.7 434.9 397 434.9H433.3Q434.6 434.9 434.6 433.6V431.4M437.4 431.4V433.6Q437.4 434.9 438.7 434.9H489.1Q490.4 434.9 490.4 433.6V431.4" fill="none" stroke="#111" stroke-width="0.75"/>
<text x="413.7" y="444.7" font-size="7.6" text-anchor="middle" fill="#000" stroke="#000" stroke-width="0.22">CEPT</text>
<text x="463.8" y="444.7" font-size="7.6" text-anchor="middle" fill="#000" stroke="#000" stroke-width="0.22">Y-27632</text>
<circle cx="534.4" cy="273.9" r="2.4" fill="#000"/>
<text x="551.1" y="276.1" font-size="7.6" text-anchor="middle" fill="#000" stroke="#000" stroke-width="0.22">20</text>
<circle cx="534.4" cy="291.1" r="4.3" fill="#000"/>
<text x="551.1" y="293.3" font-size="7.6" text-anchor="middle" fill="#000" stroke="#000" stroke-width="0.22">40</text>
<circle cx="534.4" cy="308.3" r="6.0" fill="#000"/>
<text x="551.1" y="310.5" font-size="7.6" text-anchor="middle" fill="#000" stroke="#000" stroke-width="0.22">60</text>
<circle cx="534.4" cy="325.5" r="7.6" fill="#000"/>
<text x="551.1" y="327.7" font-size="7.6" text-anchor="middle" fill="#000" stroke="#000" stroke-width="0.22">80</text>
<text x="521.2" y="300.7" font-size="7.6" text-anchor="middle" fill="#000" stroke="#000" stroke-width="0.22" transform="rotate(-90 521.2 300.7)">Percent expressed</text>
<text x="522.7" y="375.4" font-size="7.6" text-anchor="middle" fill="#000" stroke="#000" stroke-width="0.22">-1</text>
<text x="536.1" y="375.4" font-size="7.6" text-anchor="middle" fill="#000" stroke="#000" stroke-width="0.22">0</text>
<text x="549.0" y="375.4" font-size="7.6" text-anchor="middle" fill="#000" stroke="#000" stroke-width="0.22">1</text>
<rect x="517.9" y="377.3" width="41.3" height="8.8" fill="url(#gPO)"/>
<text x="538.5" y="395.0" font-size="7.6" text-anchor="middle" fill="#000" stroke="#000" stroke-width="0.22">Scaled</text>
<text x="538.5" y="403.5" font-size="7.6" text-anchor="middle" fill="#000" stroke="#000" stroke-width="0.22">expression</text>
<text x="12.0" y="466.8" font-size="10.5" text-anchor="start" fill="#000" font-weight="bold">B</text>
<text x="205.5" y="458.8" font-size="7.6" text-anchor="middle" fill="#000" stroke="#000" stroke-width="0.22">Expression</text>
<rect x="190.1" y="461.5" width="30.3" height="7.7" fill="url(#gRB)"/>
<text x="191.9" y="476.8" font-size="7.6" text-anchor="middle" fill="#000" stroke="#000" stroke-width="0.22">-2</text>
<text x="203.8" y="476.8" font-size="7.6" text-anchor="middle" fill="#000" stroke="#000" stroke-width="0.22">0</text>
<text x="215.4" y="476.8" font-size="7.6" text-anchor="middle" fill="#000" stroke="#000" stroke-width="0.22">2</text>
<text x="70.6" y="485.6" font-size="7.6" text-anchor="middle" fill="#000" stroke="#000" stroke-width="0.22">CEPT</text>
<text x="162.2" y="485.6" font-size="7.6" text-anchor="middle" fill="#000" stroke="#000" stroke-width="0.22">Y-27632</text>
<path d="M24.4 490.6V486.6H117.9V490.6M120.3 490.6V486.6H203.8V490.6" fill="none" stroke="#111" stroke-width="0.75"/>
<text x="58.5" y="498.7" font-size="7.6" text-anchor="middle" fill="#000" stroke="#000" stroke-width="0.22">1</text>
<text x="104.0" y="498.7" font-size="7.6" text-anchor="middle" fill="#000" stroke="#000" stroke-width="0.22">2</text>
<text x="116.0" y="498.7" font-size="7.6" text-anchor="middle" fill="#000" stroke="#000" stroke-width="0.22">3</text>
<text x="140.3" y="498.7" font-size="7.6" text-anchor="middle" fill="#000" stroke="#000" stroke-width="0.22">4</text>
<text x="165.1" y="498.7" font-size="7.6" text-anchor="middle" fill="#000" stroke="#000" stroke-width="0.22">5</text>
<text x="181.8" y="498.7" font-size="7.6" text-anchor="middle" fill="#000" stroke="#000" stroke-width="0.22">6</text>
<text x="200.8" y="498.7" font-size="7.6" text-anchor="middle" fill="#000" stroke="#000" stroke-width="0.22">7</text>
<rect x="24.2" y="500.1" width="68.4" height="4.2" fill="#C49A00"/>
<rect x="92.6" y="500.1" width="23.2" height="4.2" fill="#F8766D"/>
<rect x="115.8" y="500.1" width="1.8" height="4.2" fill="#D2381C"/>
<rect x="117.6" y="500.1" width="45.7" height="4.2" fill="#00B4EE"/>
<rect x="163.3" y="500.1" width="3.9" height="4.2" fill="#FB61D7"/>
<rect x="167.2" y="500.1" width="29.5" height="4.2" fill="#00C08B"/>
<rect x="196.7" y="500.1" width="7.1" height="4.2" fill="#A58AFF"/>
<rect x="24.4" y="507.8" width="179.5" height="196.4" fill="#7e7684"/>
<g shape-rendering="crispEdges">
<rect x="24.4" y="507.8" width="68.9" height="1.05" fill="#e4907c"/>
<rect x="24.4" y="508.8" width="68.9" height="1.05" fill="#e5917d"/>
<rect x="24.4" y="509.8" width="68.9" height="1.05" fill="#e59d89"/>
<rect x="24.4" y="510.8" width="68.9" height="1.05" fill="#e89480"/>
<rect x="24.4" y="511.8" width="68.9" height="1.05" fill="#e08c78"/>
<rect x="24.4" y="512.8" width="68.9" height="1.05" fill="#eac3bb"/>
<rect x="24.4" y="513.8" width="68.9" height="1.05" fill="#d87f6d"/>
<rect x="24.4" y="514.8" width="68.9" height="1.05" fill="#e79f8b"/>
<rect x="24.4" y="515.8" width="68.9" height="1.05" fill="#f1a995"/>
<rect x="24.4" y="516.8" width="68.9" height="1.05" fill="#efa793"/>
<rect x="24.4" y="517.8" width="68.9" height="1.05" fill="#e59d89"/>
<rect x="24.4" y="518.8" width="68.9" height="1.05" fill="#eda591"/>
<rect x="24.4" y="519.8" width="68.9" height="1.05" fill="#dd8975"/>
<rect x="24.4" y="520.8" width="68.9" height="1.05" fill="#d87f6d"/>
<rect x="24.4" y="521.8" width="68.9" height="1.05" fill="#f1a995"/>
<rect x="24.4" y="522.8" width="68.9" height="1.05" fill="#f1a995"/>
<rect x="24.4" y="523.8" width="68.9" height="1.05" fill="#e89480"/>
<rect x="24.4" y="524.8" width="68.9" height="1.05" fill="#ea9682"/>
<rect x="24.4" y="525.8" width="68.9" height="1.05" fill="#d37a68"/>
<rect x="24.4" y="526.8" width="68.9" height="1.05" fill="#e08c78"/>
<rect x="24.4" y="527.8" width="68.9" height="1.05" fill="#eac3bb"/>
<rect x="24.4" y="528.8" width="68.9" height="1.05" fill="#e9a18d"/>
<rect x="24.4" y="529.8" width="68.9" height="1.05" fill="#eaa28e"/>
<rect x="24.4" y="530.8" width="68.9" height="1.05" fill="#e5917d"/>
<rect x="24.4" y="531.8" width="68.9" height="1.05" fill="#f1a995"/>
<rect x="24.4" y="532.8" width="68.9" height="1.05" fill="#f2aa96"/>
<rect x="24.4" y="533.8" width="68.9" height="1.05" fill="#df8674"/>
<rect x="24.4" y="534.8" width="68.9" height="1.05" fill="#e79f8b"/>
<rect x="24.4" y="535.8" width="68.9" height="1.05" fill="#df8674"/>
<rect x="24.4" y="536.8" width="68.9" height="1.05" fill="#d9806e"/>
<rect x="24.4" y="537.8" width="68.9" height="1.05" fill="#e79f8b"/>
<rect x="24.4" y="538.8" width="68.9" height="1.05" fill="#da816f"/>
<rect x="24.4" y="539.8" width="68.9" height="1.05" fill="#dd8975"/>
<rect x="24.4" y="540.8" width="68.9" height="1.05" fill="#df8674"/>
<rect x="24.4" y="541.8" width="68.9" height="0.85" fill="#e89480"/>
<rect x="24.4" y="542.6" width="68.9" height="1.05" fill="#c1d8e7"/>
<rect x="24.4" y="543.6" width="68.9" height="1.05" fill="#c9e0ef"/>
<rect x="24.4" y="544.6" width="68.9" height="0.45" fill="#bfd6e5"/>
<rect x="24.4" y="545.0" width="68.9" height="1.05" fill="#e6a899"/>
<rect x="24.4" y="546.0" width="68.9" height="1.05" fill="#eaac9d"/>
<rect x="24.4" y="547.0" width="68.9" height="1.05" fill="#f3b5a6"/>
<rect x="24.4" y="548.0" width="68.9" height="1.05" fill="#f3b5a6"/>
<rect x="24.4" y="549.0" width="68.9" height="0.65" fill="#e7a99a"/>
<rect x="24.4" y="549.6" width="68.9" height="1.05" fill="#e1bbb3"/>
<rect x="24.4" y="550.6" width="68.9" height="1.05" fill="#c4dbea"/>
<rect x="24.4" y="551.6" width="68.9" height="1.05" fill="#e3bdb5"/>
<rect x="24.4" y="552.6" width="68.9" height="1.05" fill="#cbe2f1"/>
<rect x="24.4" y="553.6" width="68.9" height="1.05" fill="#cce3f2"/>
<rect x="24.4" y="554.6" width="68.9" height="1.05" fill="#e4b2a6"/>
<rect x="24.4" y="555.6" width="68.9" height="1.05" fill="#e8c2ba"/>
<rect x="24.4" y="556.6" width="68.9" height="1.05" fill="#e9c3bb"/>
<rect x="24.4" y="557.6" width="68.9" height="1.05" fill="#e9c3bb"/>
<rect x="24.4" y="558.6" width="68.9" height="1.05" fill="#e6b4a8"/>
<rect x="24.4" y="559.6" width="68.9" height="1.05" fill="#c9e0ef"/>
<rect x="24.4" y="560.6" width="68.9" height="1.05" fill="#c3dae9"/>
<rect x="24.4" y="561.6" width="68.9" height="1.05" fill="#e6b4a8"/>
<rect x="24.4" y="562.6" width="68.9" height="1.05" fill="#e1bbb3"/>
<rect x="24.4" y="563.6" width="68.9" height="1.05" fill="#c7deed"/>
<rect x="24.4" y="564.6" width="68.9" height="1.05" fill="#c7deed"/>
<rect x="24.4" y="565.6" width="68.9" height="1.05" fill="#e1bbb3"/>
<rect x="24.4" y="566.6" width="68.9" height="1.05" fill="#e7c1b9"/>
<rect x="24.4" y="567.6" width="68.9" height="1.05" fill="#e5bfb7"/>
<rect x="24.4" y="568.6" width="68.9" height="1.05" fill="#ebc5bd"/>
<rect x="24.4" y="569.6" width="68.9" height="1.05" fill="#bfd6e5"/>
<rect x="24.4" y="570.6" width="68.9" height="0.45" fill="#eec8c0"/>
<rect x="24.4" y="571.0" width="68.9" height="1.05" fill="#c5dceb"/>
<rect x="24.4" y="572.0" width="68.9" height="1.05" fill="#c3dae9"/>
<rect x="24.4" y="573.0" width="68.9" height="1.05" fill="#c3dae9"/>
<rect x="24.4" y="574.0" width="68.9" height="1.05" fill="#c7deed"/>
<rect x="24.4" y="575.0" width="68.9" height="1.05" fill="#c4dbea"/>
<rect x="24.4" y="576.0" width="68.9" height="1.05" fill="#e1bbb3"/>
<rect x="24.4" y="577.0" width="68.9" height="1.05" fill="#c9e0ef"/>
<rect x="24.4" y="578.0" width="68.9" height="1.05" fill="#c2d9e8"/>
<rect x="24.4" y="579.0" width="68.9" height="1.05" fill="#e4beb6"/>
<rect x="24.4" y="580.0" width="68.9" height="1.05" fill="#c5dceb"/>
<rect x="24.4" y="581.0" width="68.9" height="1.05" fill="#e2bcb4"/>
<rect x="24.4" y="582.0" width="68.9" height="1.05" fill="#c3dae9"/>
<rect x="24.4" y="583.0" width="68.9" height="1.05" fill="#cae0ed"/>
<rect x="24.4" y="584.0" width="68.9" height="1.05" fill="#c6dce9"/>
<rect x="24.4" y="585.0" width="68.9" height="1.05" fill="#cde3f0"/>
<rect x="24.4" y="586.0" width="68.9" height="1.05" fill="#cae0ed"/>
<rect x="24.4" y="587.0" width="68.9" height="1.05" fill="#c5dbe8"/>
<rect x="24.4" y="588.0" width="68.9" height="1.05" fill="#c6dce9"/>
<rect x="24.4" y="589.0" width="68.9" height="1.05" fill="#cfe5f2"/>
<rect x="24.4" y="590.0" width="68.9" height="1.05" fill="#c7ddea"/>
<rect x="24.4" y="591.0" width="68.9" height="1.05" fill="#cce2ef"/>
<rect x="24.4" y="592.0" width="68.9" height="1.05" fill="#c8deeb"/>
<rect x="24.4" y="593.0" width="68.9" height="1.05" fill="#c8deeb"/>
<rect x="24.4" y="594.0" width="68.9" height="1.05" fill="#c7ddea"/>
<rect x="24.4" y="595.0" width="68.9" height="1.05" fill="#c9dfec"/>
<rect x="24.4" y="596.0" width="68.9" height="1.05" fill="#c9dfec"/>
<rect x="24.4" y="597.0" width="68.9" height="1.05" fill="#b3d3e5"/>
<rect x="24.4" y="598.0" width="68.9" height="1.05" fill="#d1e7f4"/>
<rect x="24.4" y="599.0" width="68.9" height="1.05" fill="#d1e7f4"/>
<rect x="24.4" y="600.0" width="68.9" height="1.05" fill="#d1e7f4"/>
<rect x="24.4" y="601.0" width="68.9" height="1.05" fill="#b4d4e6"/>
<rect x="24.4" y="602.0" width="68.9" height="1.05" fill="#cfe5f2"/>
<rect x="24.4" y="603.0" width="68.9" height="1.05" fill="#cbe1ee"/>
<rect x="24.4" y="604.0" width="68.9" height="1.05" fill="#c8deeb"/>
<rect x="24.4" y="605.0" width="68.9" height="1.05" fill="#c4dae7"/>
<rect x="24.4" y="606.0" width="68.9" height="1.05" fill="#c8deeb"/>
<rect x="24.4" y="607.0" width="68.9" height="1.05" fill="#c4dae7"/>
<rect x="24.4" y="608.0" width="68.9" height="1.05" fill="#badaec"/>
<rect x="24.4" y="609.0" width="68.9" height="1.05" fill="#bdddef"/>
<rect x="24.4" y="610.0" width="68.9" height="1.05" fill="#cce2ef"/>
<rect x="24.4" y="611.0" width="68.9" height="1.05" fill="#cee4f1"/>
<rect x="24.4" y="612.0" width="68.9" height="1.05" fill="#d9e5ed"/>
<rect x="24.4" y="613.0" width="68.9" height="1.05" fill="#c6ddec"/>
<rect x="24.4" y="614.0" width="68.9" height="1.05" fill="#e2eef6"/>
<rect x="24.4" y="615.0" width="68.9" height="1.05" fill="#c3dae9"/>
<rect x="24.4" y="616.0" width="68.9" height="1.05" fill="#e1edf5"/>
<rect x="24.4" y="617.0" width="68.9" height="1.05" fill="#dfebf3"/>
<rect x="24.4" y="618.0" width="68.9" height="1.05" fill="#d7e3eb"/>
<rect x="24.4" y="619.0" width="68.9" height="1.05" fill="#e0ecf4"/>
<rect x="24.4" y="620.0" width="68.9" height="1.05" fill="#e0ecf4"/>
<rect x="24.4" y="621.0" width="68.9" height="1.05" fill="#cae1f0"/>
<rect x="24.4" y="622.0" width="68.9" height="1.05" fill="#bfd6e5"/>
<rect x="24.4" y="623.0" width="68.9" height="1.05" fill="#edc7bf"/>
<rect x="24.4" y="624.0" width="68.9" height="1.05" fill="#ceb6c2"/>
<rect x="24.4" y="625.0" width="68.9" height="1.05" fill="#d2bac6"/>
<rect x="24.4" y="626.0" width="68.9" height="1.05" fill="#d1b9c5"/>
<rect x="24.4" y="627.0" width="68.9" height="1.05" fill="#bfd6e5"/>
<rect x="24.4" y="628.0" width="68.9" height="1.05" fill="#ccb4c0"/>
<rect x="24.4" y="629.0" width="68.9" height="1.05" fill="#cbb3bf"/>
<rect x="24.4" y="630.0" width="68.9" height="1.05" fill="#cae1f0"/>
<rect x="24.4" y="631.0" width="68.9" height="1.05" fill="#d2bac6"/>
<rect x="24.4" y="632.0" width="68.9" height="1.05" fill="#cfb7c3"/>
<rect x="24.4" y="633.0" width="68.9" height="1.05" fill="#d4bcc8"/>
<rect x="24.4" y="634.0" width="68.9" height="1.05" fill="#dae6ee"/>
<rect x="24.4" y="635.0" width="68.9" height="1.05" fill="#d9e5ed"/>
<rect x="24.4" y="636.0" width="68.9" height="1.05" fill="#dce8f0"/>
<rect x="24.4" y="637.0" width="68.9" height="1.05" fill="#e6c0b8"/>
<rect x="24.4" y="638.0" width="68.9" height="1.05" fill="#d7e3eb"/>
<rect x="24.4" y="639.0" width="68.9" height="1.05" fill="#dde9f1"/>
<rect x="24.4" y="640.0" width="68.9" height="1.05" fill="#e6c0b8"/>
<rect x="24.4" y="641.0" width="68.9" height="1.05" fill="#e9c3bb"/>
<rect x="24.4" y="642.0" width="68.9" height="1.05" fill="#dae6ee"/>
<rect x="24.4" y="643.0" width="68.9" height="1.05" fill="#aad2ea"/>
<rect x="24.4" y="644.0" width="68.9" height="1.05" fill="#aad2ea"/>
<rect x="24.4" y="645.0" width="68.9" height="1.05" fill="#a4cce4"/>
<rect x="24.4" y="646.0" width="68.9" height="1.05" fill="#aad2ea"/>
<rect x="24.4" y="647.0" width="68.9" height="1.05" fill="#a6cee6"/>
<rect x="24.4" y="648.0" width="68.9" height="1.05" fill="#add5ed"/>
<rect x="24.4" y="649.0" width="68.9" height="1.05" fill="#8ec2e2"/>
<rect x="24.4" y="650.0" width="68.9" height="1.05" fill="#b8daee"/>
<rect x="24.4" y="651.0" width="68.9" height="1.05" fill="#cae0ed"/>
<rect x="24.4" y="652.0" width="68.9" height="1.05" fill="#cfe5f2"/>
<rect x="24.4" y="653.0" width="68.9" height="1.05" fill="#d0e6f3"/>
<rect x="24.4" y="654.0" width="68.9" height="1.05" fill="#cde3f0"/>
<rect x="24.4" y="655.0" width="68.9" height="1.05" fill="#cbe1ee"/>
<rect x="24.4" y="656.0" width="68.9" height="1.05" fill="#cce2ef"/>
<rect x="24.4" y="657.0" width="68.9" height="1.05" fill="#c6dce9"/>
<rect x="24.4" y="658.0" width="68.9" height="1.05" fill="#c4dae7"/>
<rect x="24.4" y="659.0" width="68.9" height="1.05" fill="#c5dbe8"/>
<rect x="24.4" y="660.0" width="68.9" height="1.05" fill="#afd1e5"/>
<rect x="24.4" y="661.0" width="68.9" height="1.05" fill="#cfe5f2"/>
<rect x="24.4" y="662.0" width="68.9" height="1.05" fill="#cfe5f2"/>
<rect x="24.4" y="663.0" width="68.9" height="1.05" fill="#cfe5f2"/>
<rect x="24.4" y="664.0" width="68.9" height="1.05" fill="#ddd7df"/>
<rect x="24.4" y="665.0" width="68.9" height="1.05" fill="#c4dae7"/>
<rect x="24.4" y="666.0" width="68.9" height="1.05" fill="#cbe1ee"/>
<rect x="24.4" y="667.0" width="68.9" height="1.05" fill="#c5dbe8"/>
<rect x="24.4" y="668.0" width="68.9" height="1.05" fill="#d1e7f4"/>
<rect x="24.4" y="669.0" width="68.9" height="1.05" fill="#c8deeb"/>
<rect x="24.4" y="670.0" width="68.9" height="1.05" fill="#cfe5f2"/>
<rect x="24.4" y="671.0" width="68.9" height="1.05" fill="#c6dce9"/>
<rect x="24.4" y="672.0" width="68.9" height="1.05" fill="#cce2ef"/>
<rect x="24.4" y="673.0" width="68.9" height="1.05" fill="#c9dfec"/>
<rect x="24.4" y="674.0" width="68.9" height="1.05" fill="#c9dfec"/>
<rect x="24.4" y="675.0" width="68.9" height="1.05" fill="#c9dfec"/>
<rect x="24.4" y="676.0" width="68.9" height="1.05" fill="#cbe1ee"/>
<rect x="24.4" y="677.0" width="68.9" height="1.05" fill="#dad4dc"/>
<rect x="24.4" y="678.0" width="68.9" height="1.05" fill="#c6dce9"/>
<rect x="24.4" y="679.0" width="68.9" height="1.05" fill="#cee4f1"/>
<rect x="24.4" y="680.0" width="68.9" height="1.05" fill="#cbe1ee"/>
<rect x="24.4" y="681.0" width="68.9" height="1.05" fill="#cde3f0"/>
<rect x="24.4" y="682.0" width="68.9" height="1.05" fill="#afd1e5"/>
<rect x="24.4" y="683.0" width="68.9" height="1.05" fill="#cee4f1"/>
<rect x="24.4" y="684.0" width="68.9" height="1.05" fill="#dcd6de"/>
<rect x="24.4" y="685.0" width="68.9" height="1.05" fill="#cee4f1"/>
<rect x="24.4" y="686.0" width="68.9" height="1.05" fill="#c7ddea"/>
<rect x="24.4" y="687.0" width="68.9" height="1.05" fill="#cce2ef"/>
<rect x="24.4" y="688.0" width="68.9" height="1.05" fill="#c7ddea"/>
<rect x="24.4" y="689.0" width="68.9" height="1.05" fill="#d1e7f4"/>
<rect x="24.4" y="690.0" width="68.9" height="1.05" fill="#cde3f0"/>
<rect x="24.4" y="691.0" width="68.9" height="1.05" fill="#cfe5f2"/>
<rect x="24.4" y="692.0" width="68.9" height="1.05" fill="#c7ddea"/>
<rect x="24.4" y="693.0" width="68.9" height="1.05" fill="#c4dae7"/>
<rect x="24.4" y="694.0" width="68.9" height="1.05" fill="#c9dfec"/>
<rect x="24.4" y="695.0" width="68.9" height="1.05" fill="#c9dfec"/>
<rect x="24.4" y="696.0" width="68.9" height="1.05" fill="#cee4f1"/>
<rect x="24.4" y="697.0" width="68.9" height="1.05" fill="#d1e7f4"/>
<rect x="24.4" y="698.0" width="68.9" height="1.05" fill="#cce2ef"/>
<rect x="24.4" y="699.0" width="68.9" height="1.05" fill="#cfe5f2"/>
<rect x="24.4" y="700.0" width="68.9" height="1.05" fill="#b4d6ea"/>
<rect x="24.4" y="701.0" width="68.9" height="1.05" fill="#cee4f1"/>
<rect x="24.4" y="702.0" width="68.9" height="1.05" fill="#b2d4e8"/>
<rect x="24.4" y="703.0" width="68.9" height="1.05" fill="#d1e7f4"/>
<rect x="24.4" y="704.0" width="68.9" height="0.25" fill="#c7ddea"/>
<rect x="93.9" y="507.8" width="21.4" height="1.05" fill="#c9e0ef"/>
<rect x="93.9" y="508.8" width="21.4" height="1.05" fill="#cce3f2"/>
<rect x="93.9" y="509.8" width="21.4" height="1.05" fill="#e4beb6"/>
<rect x="93.9" y="510.8" width="21.4" height="1.05" fill="#c2d9e8"/>
<rect x="93.9" y="511.8" width="21.4" height="1.05" fill="#c8dfee"/>
<rect x="93.9" y="512.8" width="21.4" height="1.05" fill="#edc7bf"/>
<rect x="93.9" y="513.8" width="21.4" height="1.05" fill="#cbe2f1"/>
<rect x="93.9" y="514.8" width="21.4" height="1.05" fill="#c4dbea"/>
<rect x="93.9" y="515.8" width="21.4" height="1.05" fill="#e2bcb4"/>
<rect x="93.9" y="516.8" width="21.4" height="1.05" fill="#cae1f0"/>
<rect x="93.9" y="517.8" width="21.4" height="1.05" fill="#c3dae9"/>
<rect x="93.9" y="518.8" width="21.4" height="1.05" fill="#c8dfee"/>
<rect x="93.9" y="519.8" width="21.4" height="1.05" fill="#c3dae9"/>
<rect x="93.9" y="520.8" width="21.4" height="1.05" fill="#c5dceb"/>
<rect x="93.9" y="521.8" width="21.4" height="1.05" fill="#c7deed"/>
<rect x="93.9" y="522.8" width="21.4" height="1.05" fill="#9ac6e2"/>
<rect x="93.9" y="523.8" width="21.4" height="1.05" fill="#c0d7e6"/>
<rect x="93.9" y="524.8" width="21.4" height="1.05" fill="#c8dfee"/>
<rect x="93.9" y="525.8" width="21.4" height="1.05" fill="#cbe2f1"/>
<rect x="93.9" y="526.8" width="21.4" height="1.05" fill="#96c2de"/>
<rect x="93.9" y="527.8" width="21.4" height="1.05" fill="#9ac6e2"/>
<rect x="93.9" y="528.8" width="21.4" height="1.05" fill="#ebc5bd"/>
<rect x="93.9" y="529.8" width="21.4" height="1.05" fill="#c8dfee"/>
<rect x="93.9" y="530.8" width="21.4" height="1.05" fill="#cae1f0"/>
<rect x="93.9" y="531.8" width="21.4" height="1.05" fill="#c9e0ef"/>
<rect x="93.9" y="532.8" width="21.4" height="1.05" fill="#9ecae6"/>
<rect x="93.9" y="533.8" width="21.4" height="1.05" fill="#c0d7e6"/>
<rect x="93.9" y="534.8" width="21.4" height="1.05" fill="#c3dae9"/>
<rect x="93.9" y="535.8" width="21.4" height="1.05" fill="#eac4bc"/>
<rect x="93.9" y="536.8" width="21.4" height="1.05" fill="#c1d8e7"/>
<rect x="93.9" y="537.8" width="21.4" height="1.05" fill="#c7deed"/>
<rect x="93.9" y="538.8" width="21.4" height="1.05" fill="#cbe2f1"/>
<rect x="93.9" y="539.8" width="21.4" height="1.05" fill="#c0d7e6"/>
<rect x="93.9" y="540.8" width="21.4" height="0.15" fill="#96c2de"/>
<rect x="93.9" y="540.9" width="21.4" height="1.05" fill="#bb4b5b"/>
<rect x="93.9" y="541.9" width="21.4" height="1.05" fill="#b84858"/>
<rect x="93.9" y="542.9" width="21.4" height="1.05" fill="#b74757"/>
<rect x="93.9" y="543.9" width="21.4" height="1.05" fill="#b34353"/>
<rect x="93.9" y="544.9" width="21.4" height="1.05" fill="#bb4b5b"/>
<rect x="93.9" y="545.9" width="21.4" height="1.05" fill="#d07868"/>
<rect x="93.9" y="546.9" width="21.4" height="1.05" fill="#ce7666"/>
<rect x="93.9" y="547.9" width="21.4" height="1.05" fill="#b64656"/>
<rect x="93.9" y="548.9" width="21.4" height="1.05" fill="#c97161"/>
<rect x="93.9" y="549.9" width="21.4" height="1.05" fill="#b44454"/>
<rect x="93.9" y="550.9" width="21.4" height="1.05" fill="#cd7565"/>
<rect x="93.9" y="551.9" width="21.4" height="0.15" fill="#b64656"/>
<rect x="93.9" y="552.0" width="21.4" height="1.05" fill="#cfa3b3"/>
<rect x="93.9" y="553.0" width="21.4" height="1.05" fill="#d0a4b4"/>
<rect x="93.9" y="554.0" width="21.4" height="1.05" fill="#c89cac"/>
<rect x="93.9" y="555.0" width="21.4" height="1.05" fill="#c69aaa"/>
<rect x="93.9" y="556.0" width="21.4" height="1.05" fill="#cfa3b3"/>
<rect x="93.9" y="557.0" width="21.4" height="0.45" fill="#c79bab"/>
<rect x="93.9" y="557.4" width="21.4" height="1.05" fill="#ab4f67"/>
<rect x="93.9" y="558.4" width="21.4" height="1.05" fill="#bb6377"/>
<rect x="93.9" y="559.4" width="21.4" height="1.05" fill="#a3475f"/>
<rect x="93.9" y="560.4" width="21.4" height="1.05" fill="#a3475f"/>
<rect x="93.9" y="561.4" width="21.4" height="1.05" fill="#a84c64"/>
<rect x="93.9" y="562.4" width="21.4" height="1.05" fill="#a44860"/>
<rect x="93.9" y="563.4" width="21.4" height="0.15" fill="#a1455d"/>
<rect x="93.9" y="563.5" width="21.4" height="1.05" fill="#c999a9"/>
<rect x="93.9" y="564.5" width="21.4" height="1.05" fill="#c292a2"/>
<rect x="93.9" y="565.5" width="21.4" height="1.05" fill="#c595a5"/>
<rect x="93.9" y="566.5" width="21.4" height="1.05" fill="#ca9aaa"/>
<rect x="93.9" y="567.5" width="21.4" height="1.05" fill="#c191a1"/>
<rect x="93.9" y="568.5" width="21.4" height="1.05" fill="#c393a3"/>
<rect x="93.9" y="569.5" width="21.4" height="1.05" fill="#ebc5bd"/>
<rect x="93.9" y="570.5" width="21.4" height="1.05" fill="#ebc5bd"/>
<rect x="93.9" y="571.5" width="21.4" height="1.05" fill="#e7c1b9"/>
<rect x="93.9" y="572.5" width="21.4" height="1.05" fill="#e7c1b9"/>
<rect x="93.9" y="573.5" width="21.4" height="1.05" fill="#e8c2ba"/>
<rect x="93.9" y="574.5" width="21.4" height="0.55" fill="#e8c2ba"/>
<rect x="93.9" y="575.0" width="21.4" height="1.05" fill="#c5dceb"/>
<rect x="93.9" y="576.0" width="21.4" height="1.05" fill="#cce3f2"/>
<rect x="93.9" y="577.0" width="21.4" height="1.05" fill="#c0d7e6"/>
<rect x="93.9" y="578.0" width="21.4" height="1.05" fill="#c7deed"/>
<rect x="93.9" y="579.0" width="21.4" height="1.05" fill="#dec6ca"/>
<rect x="93.9" y="580.0" width="21.4" height="1.05" fill="#dac2c6"/>
<rect x="93.9" y="581.0" width="21.4" height="1.05" fill="#cce3f2"/>
<rect x="93.9" y="582.0" width="21.4" height="1.05" fill="#e5cdd1"/>
<rect x="93.9" y="583.0" width="21.4" height="1.05" fill="#c2dae8"/>
<rect x="93.9" y="584.0" width="21.4" height="1.05" fill="#c9e1ef"/>
<rect x="93.9" y="585.0" width="21.4" height="1.05" fill="#9fcbe7"/>
<rect x="93.9" y="586.0" width="21.4" height="1.05" fill="#c5ddeb"/>
<rect x="93.9" y="587.0" width="21.4" height="1.05" fill="#cee6f4"/>
<rect x="93.9" y="588.0" width="21.4" height="1.05" fill="#c7dfed"/>
<rect x="93.9" y="589.0" width="21.4" height="1.05" fill="#c7dfed"/>
<rect x="93.9" y="590.0" width="21.4" height="1.05" fill="#c1d9e7"/>
<rect x="93.9" y="591.0" width="21.4" height="1.05" fill="#c3dbe9"/>
<rect x="93.9" y="592.0" width="21.4" height="1.05" fill="#c7dfed"/>
<rect x="93.9" y="593.0" width="21.4" height="1.05" fill="#c8e0ee"/>
<rect x="93.9" y="594.0" width="21.4" height="1.05" fill="#cae2f0"/>
<rect x="93.9" y="595.0" width="21.4" height="1.05" fill="#c7dfed"/>
<rect x="93.9" y="596.0" width="21.4" height="1.05" fill="#c6deec"/>
<rect x="93.9" y="597.0" width="21.4" height="1.05" fill="#cde5f3"/>
<rect x="93.9" y="598.0" width="21.4" height="1.05" fill="#c6deec"/>
<rect x="93.9" y="599.0" width="21.4" height="1.05" fill="#c8e0ee"/>
<rect x="93.9" y="600.0" width="21.4" height="1.05" fill="#c4dcea"/>
<rect x="93.9" y="601.0" width="21.4" height="1.05" fill="#c3dbe9"/>
<rect x="93.9" y="602.0" width="21.4" height="1.05" fill="#c3dbe9"/>
<rect x="93.9" y="603.0" width="21.4" height="1.05" fill="#c3dbe9"/>
<rect x="93.9" y="604.0" width="21.4" height="1.05" fill="#c3dbe9"/>
<rect x="93.9" y="605.0" width="21.4" height="1.05" fill="#c3dbe9"/>
<rect x="93.9" y="606.0" width="21.4" height="1.05" fill="#c2dae8"/>
<rect x="93.9" y="607.0" width="21.4" height="1.05" fill="#c7dfed"/>
<rect x="93.9" y="608.0" width="21.4" height="1.05" fill="#c1d9e7"/>
<rect x="93.9" y="609.0" width="21.4" height="1.05" fill="#c6deec"/>
<rect x="93.9" y="610.0" width="21.4" height="1.05" fill="#c1d9e7"/>
<rect x="93.9" y="611.0" width="21.4" height="1.05" fill="#c6deec"/>
<rect x="93.9" y="612.0" width="21.4" height="1.05" fill="#cee6f4"/>
<rect x="93.9" y="613.0" width="21.4" height="1.05" fill="#be6e7e"/>
<rect x="93.9" y="614.0" width="21.4" height="1.05" fill="#bf6f7f"/>
<rect x="93.9" y="615.0" width="21.4" height="1.05" fill="#cd8d9d"/>
<rect x="93.9" y="616.0" width="21.4" height="1.05" fill="#bd6d7d"/>
<rect x="93.9" y="617.0" width="21.4" height="1.05" fill="#cc8c9c"/>
<rect x="93.9" y="618.0" width="21.4" height="1.05" fill="#cf8f9f"/>
<rect x="93.9" y="619.0" width="21.4" height="1.05" fill="#cd8d9d"/>
<rect x="93.9" y="620.0" width="21.4" height="1.05" fill="#c07080"/>
<rect x="93.9" y="621.0" width="21.4" height="1.05" fill="#d191a1"/>
<rect x="93.9" y="622.0" width="21.4" height="1.05" fill="#be6e7e"/>
<rect x="93.9" y="623.0" width="21.4" height="1.05" fill="#d696a6"/>
<rect x="93.9" y="624.0" width="21.4" height="1.05" fill="#bd6d7d"/>
<rect x="93.9" y="625.0" width="21.4" height="1.05" fill="#be6e7e"/>
<rect x="93.9" y="626.0" width="21.4" height="1.05" fill="#bd6d7d"/>
<rect x="93.9" y="627.0" width="21.4" height="1.05" fill="#c67686"/>
<rect x="93.9" y="628.0" width="21.4" height="1.05" fill="#cb8b9b"/>
<rect x="93.9" y="629.0" width="21.4" height="1.05" fill="#cf8f9f"/>
<rect x="93.9" y="630.0" width="21.4" height="1.05" fill="#d595a5"/>
<rect x="93.9" y="631.0" width="21.4" height="1.05" fill="#c98999"/>
<rect x="93.9" y="632.0" width="21.4" height="1.05" fill="#c57585"/>
<rect x="93.9" y="633.0" width="21.4" height="1.05" fill="#ca8a9a"/>
<rect x="93.9" y="634.0" width="21.4" height="1.05" fill="#dca4ac"/>
<rect x="93.9" y="635.0" width="21.4" height="1.05" fill="#d69ea6"/>
<rect x="93.9" y="636.0" width="21.4" height="1.05" fill="#daa2aa"/>
<rect x="93.9" y="637.0" width="21.4" height="1.05" fill="#dbb3b7"/>
<rect x="93.9" y="638.0" width="21.4" height="1.05" fill="#e3bbbf"/>
<rect x="93.9" y="639.0" width="21.4" height="1.05" fill="#e0b8bc"/>
<rect x="93.9" y="640.0" width="21.4" height="1.05" fill="#deb6ba"/>
<rect x="93.9" y="641.0" width="21.4" height="1.05" fill="#d49ca4"/>
<rect x="93.9" y="642.0" width="21.4" height="1.05" fill="#dfb7bb"/>
<rect x="93.9" y="643.0" width="21.4" height="1.05" fill="#a3cbe3"/>
<rect x="93.9" y="644.0" width="21.4" height="1.05" fill="#f1a181"/>
<rect x="93.9" y="645.0" width="21.4" height="1.05" fill="#ee9e7e"/>
<rect x="93.9" y="646.0" width="21.4" height="1.05" fill="#a3cbe3"/>
<rect x="93.9" y="647.0" width="21.4" height="1.05" fill="#e99979"/>
<rect x="93.9" y="648.0" width="21.4" height="1.05" fill="#abd3eb"/>
<rect x="93.9" y="649.0" width="21.4" height="1.05" fill="#ea9a7a"/>
<rect x="93.9" y="650.0" width="21.4" height="1.05" fill="#d4e8f4"/>
<rect x="93.9" y="651.0" width="21.4" height="1.05" fill="#d5e9f5"/>
<rect x="93.9" y="652.0" width="21.4" height="1.05" fill="#e7c1b9"/>
<rect x="93.9" y="653.0" width="21.4" height="1.05" fill="#ebc5bd"/>
<rect x="93.9" y="654.0" width="21.4" height="1.05" fill="#cee2ee"/>
<rect x="93.9" y="655.0" width="21.4" height="1.05" fill="#cee2ee"/>
<rect x="93.9" y="656.0" width="21.4" height="1.05" fill="#ea9a7a"/>
<rect x="93.9" y="657.0" width="21.4" height="1.05" fill="#cadeea"/>
<rect x="93.9" y="658.0" width="21.4" height="1.05" fill="#d2e6f2"/>
<rect x="93.9" y="659.0" width="21.4" height="1.05" fill="#c9dde9"/>
<rect x="93.9" y="660.0" width="21.4" height="1.05" fill="#d2e6f2"/>
<rect x="93.9" y="661.0" width="21.4" height="1.05" fill="#c9dde9"/>
<rect x="93.9" y="662.0" width="21.4" height="1.05" fill="#d6eaf6"/>
<rect x="93.9" y="663.0" width="21.4" height="1.05" fill="#d0e4f0"/>
<rect x="93.9" y="664.0" width="21.4" height="1.05" fill="#d3e7f3"/>
<rect x="93.9" y="665.0" width="21.4" height="1.05" fill="#d4e8f4"/>
<rect x="93.9" y="666.0" width="21.4" height="1.05" fill="#cbdfeb"/>
<rect x="93.9" y="667.0" width="21.4" height="1.05" fill="#cadeea"/>
<rect x="93.9" y="668.0" width="21.4" height="1.05" fill="#e2bcb4"/>
<rect x="93.9" y="669.0" width="21.4" height="1.05" fill="#d6eaf6"/>
<rect x="93.9" y="670.0" width="21.4" height="1.05" fill="#d5e9f5"/>
<rect x="93.9" y="671.0" width="21.4" height="1.05" fill="#cfe3ef"/>
<rect x="93.9" y="672.0" width="21.4" height="1.05" fill="#d4e8f4"/>
<rect x="93.9" y="673.0" width="21.4" height="1.05" fill="#d1e5f1"/>
<rect x="93.9" y="674.0" width="21.4" height="1.05" fill="#d5e9f5"/>
<rect x="93.9" y="675.0" width="21.4" height="1.05" fill="#d1e5f1"/>
<rect x="93.9" y="676.0" width="21.4" height="1.05" fill="#cadeea"/>
<rect x="93.9" y="677.0" width="21.4" height="1.05" fill="#e9c3bb"/>
<rect x="93.9" y="678.0" width="21.4" height="1.05" fill="#e3bdb5"/>
<rect x="93.9" y="679.0" width="21.4" height="1.05" fill="#cfe3ef"/>
<rect x="93.9" y="680.0" width="21.4" height="1.05" fill="#cadeea"/>
<rect x="93.9" y="681.0" width="21.4" height="1.05" fill="#cfe3ef"/>
<rect x="93.9" y="682.0" width="21.4" height="1.05" fill="#d0e4f0"/>
<rect x="93.9" y="683.0" width="21.4" height="1.05" fill="#cee2ee"/>
<rect x="93.9" y="684.0" width="21.4" height="1.05" fill="#d1e5f1"/>
<rect x="93.9" y="685.0" width="21.4" height="1.05" fill="#cde1ed"/>
<rect x="93.9" y="686.0" width="21.4" height="1.05" fill="#ed9d7d"/>
<rect x="93.9" y="687.0" width="21.4" height="1.05" fill="#cadeea"/>
<rect x="93.9" y="688.0" width="21.4" height="1.05" fill="#cbdfeb"/>
<rect x="93.9" y="689.0" width="21.4" height="1.05" fill="#f3a383"/>
<rect x="93.9" y="690.0" width="21.4" height="1.05" fill="#eec8c0"/>
<rect x="93.9" y="691.0" width="21.4" height="1.05" fill="#d6eaf6"/>
<rect x="93.9" y="692.0" width="21.4" height="1.05" fill="#cee2ee"/>
<rect x="93.9" y="693.0" width="21.4" height="1.05" fill="#f5a585"/>
<rect x="93.9" y="694.0" width="21.4" height="1.05" fill="#ef9f7f"/>
<rect x="93.9" y="695.0" width="21.4" height="1.05" fill="#cee2ee"/>
<rect x="93.9" y="696.0" width="21.4" height="1.05" fill="#f5a585"/>
<rect x="93.9" y="697.0" width="21.4" height="1.05" fill="#d6eaf6"/>
<rect x="93.9" y="698.0" width="21.4" height="1.05" fill="#cadeea"/>
<rect x="93.9" y="699.0" width="21.4" height="1.05" fill="#cde1ed"/>
<rect x="93.9" y="700.0" width="21.4" height="1.05" fill="#d1e5f1"/>
<rect x="93.9" y="701.0" width="21.4" height="1.05" fill="#d3e7f3"/>
<rect x="93.9" y="702.0" width="21.4" height="1.05" fill="#cfe3ef"/>
<rect x="93.9" y="703.0" width="21.4" height="1.05" fill="#d3e7f3"/>
<rect x="93.9" y="704.0" width="21.4" height="0.25" fill="#cde1ed"/>
<rect x="115.6" y="507.8" width="1.6" height="1.05" fill="#b597a5"/>
<rect x="115.6" y="508.8" width="1.6" height="1.05" fill="#b294a2"/>
<rect x="115.6" y="509.8" width="1.6" height="1.05" fill="#bb9dab"/>
<rect x="115.6" y="510.8" width="1.6" height="1.05" fill="#babaca"/>
<rect x="115.6" y="511.8" width="1.6" height="1.05" fill="#b9b9c9"/>
<rect x="115.6" y="512.8" width="1.6" height="1.05" fill="#b395a3"/>
<rect x="115.6" y="513.8" width="1.6" height="1.05" fill="#b799a7"/>
<rect x="115.6" y="514.8" width="1.6" height="1.05" fill="#b4b4c4"/>
<rect x="115.6" y="515.8" width="1.6" height="1.05" fill="#bc9eac"/>
<rect x="115.6" y="516.8" width="1.6" height="1.05" fill="#b799a7"/>
<rect x="115.6" y="517.8" width="1.6" height="1.05" fill="#b8b8c8"/>
<rect x="115.6" y="518.8" width="1.6" height="1.05" fill="#b496a4"/>
<rect x="115.6" y="519.8" width="1.6" height="1.05" fill="#adadbd"/>
<rect x="115.6" y="520.8" width="1.6" height="1.05" fill="#b89aa8"/>
<rect x="115.6" y="521.8" width="1.6" height="1.05" fill="#afafbf"/>
<rect x="115.6" y="522.8" width="1.6" height="1.05" fill="#b395a3"/>
<rect x="115.6" y="523.8" width="1.6" height="1.05" fill="#b3b3c3"/>
<rect x="115.6" y="524.8" width="1.6" height="1.05" fill="#b7b7c7"/>
<rect x="115.6" y="525.8" width="1.6" height="1.05" fill="#adadbd"/>
<rect x="115.6" y="526.8" width="1.6" height="1.05" fill="#b193a1"/>
<rect x="115.6" y="527.8" width="1.6" height="1.05" fill="#b597a5"/>
<rect x="115.6" y="528.8" width="1.6" height="1.05" fill="#b89aa8"/>
<rect x="115.6" y="529.8" width="1.6" height="1.05" fill="#b597a5"/>
<rect x="115.6" y="530.8" width="1.6" height="1.05" fill="#bc9eac"/>
<rect x="115.6" y="531.8" width="1.6" height="1.05" fill="#b496a4"/>
<rect x="115.6" y="532.8" width="1.6" height="1.05" fill="#b799a7"/>
<rect x="115.6" y="533.8" width="1.6" height="1.05" fill="#b6b6c6"/>
<rect x="115.6" y="534.8" width="1.6" height="1.05" fill="#b8b8c8"/>
<rect x="115.6" y="535.8" width="1.6" height="1.05" fill="#b294a2"/>
<rect x="115.6" y="536.8" width="1.6" height="1.05" fill="#b8b8c8"/>
<rect x="115.6" y="537.8" width="1.6" height="1.05" fill="#b8b8c8"/>
<rect x="115.6" y="538.8" width="1.6" height="1.05" fill="#b0b0c0"/>
<rect x="115.6" y="539.8" width="1.6" height="1.05" fill="#b193a1"/>
<rect x="115.6" y="540.8" width="1.6" height="1.05" fill="#b9b9c9"/>
<rect x="115.6" y="541.8" width="1.6" height="1.05" fill="#b3b3c3"/>
<rect x="115.6" y="542.8" width="1.6" height="1.05" fill="#babaca"/>
<rect x="115.6" y="543.8" width="1.6" height="1.05" fill="#b5b5c5"/>
<rect x="115.6" y="544.8" width="1.6" height="1.05" fill="#b89aa8"/>
<rect x="115.6" y="545.8" width="1.6" height="1.05" fill="#b395a3"/>
<rect x="115.6" y="546.8" width="1.6" height="1.05" fill="#babaca"/>
<rect x="115.6" y="547.8" width="1.6" height="1.05" fill="#b2b2c2"/>
<rect x="115.6" y="548.8" width="1.6" height="1.05" fill="#b799a7"/>
<rect x="115.6" y="549.8" width="1.6" height="1.05" fill="#b3b3c3"/>
<rect x="115.6" y="550.8" width="1.6" height="1.05" fill="#afafbf"/>
<rect x="115.6" y="551.8" width="1.6" height="1.05" fill="#b89aa8"/>
<rect x="115.6" y="552.8" width="1.6" height="1.05" fill="#bc9eac"/>
<rect x="115.6" y="553.8" width="1.6" height="1.05" fill="#babaca"/>
<rect x="115.6" y="554.8" width="1.6" height="1.05" fill="#adadbd"/>
<rect x="115.6" y="555.8" width="1.6" height="1.05" fill="#b4b4c4"/>
<rect x="115.6" y="556.8" width="1.6" height="1.05" fill="#b496a4"/>
<rect x="115.6" y="557.8" width="1.6" height="1.05" fill="#b9b9c9"/>
<rect x="115.6" y="558.8" width="1.6" height="1.05" fill="#ba9caa"/>
<rect x="115.6" y="559.8" width="1.6" height="1.05" fill="#b89aa8"/>
<rect x="115.6" y="560.8" width="1.6" height="1.05" fill="#babaca"/>
<rect x="115.6" y="561.8" width="1.6" height="1.05" fill="#afafbf"/>
<rect x="115.6" y="562.8" width="1.6" height="1.05" fill="#afafbf"/>
<rect x="115.6" y="563.8" width="1.6" height="1.05" fill="#bc9eac"/>
<rect x="115.6" y="564.8" width="1.6" height="1.05" fill="#b496a4"/>
<rect x="115.6" y="565.8" width="1.6" height="1.05" fill="#babaca"/>
<rect x="115.6" y="566.8" width="1.6" height="1.05" fill="#b698a6"/>
<rect x="115.6" y="567.8" width="1.6" height="1.05" fill="#b294a2"/>
<rect x="115.6" y="568.8" width="1.6" height="1.05" fill="#bea0ae"/>
<rect x="115.6" y="569.8" width="1.6" height="1.05" fill="#b496a4"/>
<rect x="115.6" y="570.8" width="1.6" height="1.05" fill="#b294a2"/>
<rect x="115.6" y="571.8" width="1.6" height="1.05" fill="#b7b7c7"/>
<rect x="115.6" y="572.8" width="1.6" height="1.05" fill="#b5b5c5"/>
<rect x="115.6" y="573.8" width="1.6" height="1.05" fill="#adadbd"/>
<rect x="115.6" y="574.8" width="1.6" height="1.05" fill="#bea0ae"/>
<rect x="115.6" y="575.8" width="1.6" height="1.05" fill="#b496a4"/>
<rect x="115.6" y="576.8" width="1.6" height="1.05" fill="#b496a4"/>
<rect x="115.6" y="577.8" width="1.6" height="1.05" fill="#adadbd"/>
<rect x="115.6" y="578.8" width="1.6" height="1.05" fill="#bea0ae"/>
<rect x="115.6" y="579.8" width="1.6" height="1.05" fill="#bd9fad"/>
<rect x="115.6" y="580.8" width="1.6" height="1.05" fill="#bea0ae"/>
<rect x="115.6" y="581.8" width="1.6" height="1.05" fill="#b6b6c6"/>
<rect x="115.6" y="582.8" width="1.6" height="1.05" fill="#b193a1"/>
<rect x="115.6" y="583.8" width="1.6" height="1.05" fill="#afafbf"/>
<rect x="115.6" y="584.8" width="1.6" height="1.05" fill="#bc9eac"/>
<rect x="115.6" y="585.8" width="1.6" height="1.05" fill="#adadbd"/>
<rect x="115.6" y="586.8" width="1.6" height="1.05" fill="#b4b4c4"/>
<rect x="115.6" y="587.8" width="1.6" height="1.05" fill="#b294a2"/>
<rect x="115.6" y="588.8" width="1.6" height="1.05" fill="#bea0ae"/>
<rect x="115.6" y="589.8" width="1.6" height="1.05" fill="#b294a2"/>
<rect x="115.6" y="590.8" width="1.6" height="1.05" fill="#b294a2"/>
<rect x="115.6" y="591.8" width="1.6" height="1.05" fill="#bd9fad"/>
<rect x="115.6" y="592.8" width="1.6" height="1.05" fill="#b395a3"/>
<rect x="115.6" y="593.8" width="1.6" height="1.05" fill="#babaca"/>
<rect x="115.6" y="594.8" width="1.6" height="1.05" fill="#b0b0c0"/>
<rect x="115.6" y="595.8" width="1.6" height="1.05" fill="#bea0ae"/>
<rect x="115.6" y="596.8" width="1.6" height="1.05" fill="#ba9caa"/>
<rect x="115.6" y="597.8" width="1.6" height="1.05" fill="#b193a1"/>
<rect x="115.6" y="598.8" width="1.6" height="1.05" fill="#bb9dab"/>
<rect x="115.6" y="599.8" width="1.6" height="1.05" fill="#b4b4c4"/>
<rect x="115.6" y="600.8" width="1.6" height="1.05" fill="#b89aa8"/>
<rect x="115.6" y="601.8" width="1.6" height="1.05" fill="#b89aa8"/>
<rect x="115.6" y="602.8" width="1.6" height="1.05" fill="#afafbf"/>
<rect x="115.6" y="603.8" width="1.6" height="1.05" fill="#babaca"/>
<rect x="115.6" y="604.8" width="1.6" height="1.05" fill="#afafbf"/>
<rect x="115.6" y="605.8" width="1.6" height="1.05" fill="#b8b8c8"/>
<rect x="115.6" y="606.8" width="1.6" height="1.05" fill="#b496a4"/>
<rect x="115.6" y="607.8" width="1.6" height="1.05" fill="#b193a1"/>
<rect x="115.6" y="608.8" width="1.6" height="1.05" fill="#b2b2c2"/>
<rect x="115.6" y="609.8" width="1.6" height="1.05" fill="#aeaebe"/>
<rect x="115.6" y="610.8" width="1.6" height="1.05" fill="#bd9fad"/>
<rect x="115.6" y="611.8" width="1.6" height="1.05" fill="#babaca"/>
<rect x="115.6" y="612.8" width="1.6" height="1.05" fill="#b4b4c4"/>
<rect x="115.6" y="613.8" width="1.6" height="1.05" fill="#aeaebe"/>
<rect x="115.6" y="614.8" width="1.6" height="1.05" fill="#b3b3c3"/>
<rect x="115.6" y="615.8" width="1.6" height="1.05" fill="#b99ba9"/>
<rect x="115.6" y="616.8" width="1.6" height="1.05" fill="#b89aa8"/>
<rect x="115.6" y="617.8" width="1.6" height="1.05" fill="#b597a5"/>
<rect x="115.6" y="618.8" width="1.6" height="1.05" fill="#b99ba9"/>
<rect x="115.6" y="619.8" width="1.6" height="1.05" fill="#babaca"/>
<rect x="115.6" y="620.8" width="1.6" height="1.05" fill="#b8b8c8"/>
<rect x="115.6" y="621.8" width="1.6" height="1.05" fill="#bea0ae"/>
<rect x="115.6" y="622.8" width="1.6" height="1.05" fill="#b294a2"/>
<rect x="115.6" y="623.8" width="1.6" height="1.05" fill="#b7b7c7"/>
<rect x="115.6" y="624.8" width="1.6" height="1.05" fill="#ba9caa"/>
<rect x="115.6" y="625.8" width="1.6" height="1.05" fill="#bea0ae"/>
<rect x="115.6" y="626.8" width="1.6" height="1.05" fill="#b799a7"/>
<rect x="115.6" y="627.8" width="1.6" height="1.05" fill="#b9b9c9"/>
<rect x="115.6" y="628.8" width="1.6" height="1.05" fill="#b4b4c4"/>
<rect x="115.6" y="629.8" width="1.6" height="1.05" fill="#b99ba9"/>
<rect x="115.6" y="630.8" width="1.6" height="1.05" fill="#b698a6"/>
<rect x="115.6" y="631.8" width="1.6" height="1.05" fill="#b7b7c7"/>
<rect x="115.6" y="632.8" width="1.6" height="1.05" fill="#bc9eac"/>
<rect x="115.6" y="633.8" width="1.6" height="1.05" fill="#bea0ae"/>
<rect x="115.6" y="634.8" width="1.6" height="1.05" fill="#b496a4"/>
<rect x="115.6" y="635.8" width="1.6" height="1.05" fill="#b9b9c9"/>
<rect x="115.6" y="636.8" width="1.6" height="1.05" fill="#bd9fad"/>
<rect x="115.6" y="637.8" width="1.6" height="1.05" fill="#b2b2c2"/>
<rect x="115.6" y="638.8" width="1.6" height="1.05" fill="#b89aa8"/>
<rect x="115.6" y="639.8" width="1.6" height="1.05" fill="#b698a6"/>
<rect x="115.6" y="640.8" width="1.6" height="1.05" fill="#b9b9c9"/>
<rect x="115.6" y="641.8" width="1.6" height="1.05" fill="#afafbf"/>
<rect x="115.6" y="642.8" width="1.6" height="1.05" fill="#b698a6"/>
<rect x="115.6" y="643.8" width="1.6" height="1.05" fill="#aeaebe"/>
<rect x="115.6" y="644.8" width="1.6" height="1.05" fill="#b597a5"/>
<rect x="115.6" y="645.8" width="1.6" height="1.05" fill="#b193a1"/>
<rect x="115.6" y="646.8" width="1.6" height="1.05" fill="#b9b9c9"/>
<rect x="115.6" y="647.8" width="1.6" height="1.05" fill="#b7b7c7"/>
<rect x="115.6" y="648.8" width="1.6" height="1.05" fill="#b8b8c8"/>
<rect x="115.6" y="649.8" width="1.6" height="1.05" fill="#b3b3c3"/>
<rect x="115.6" y="650.8" width="1.6" height="1.05" fill="#aeaebe"/>
<rect x="115.6" y="651.8" width="1.6" height="1.05" fill="#b2b2c2"/>
<rect x="115.6" y="652.8" width="1.6" height="1.05" fill="#bd9fad"/>
<rect x="115.6" y="653.8" width="1.6" height="1.05" fill="#b395a3"/>
<rect x="115.6" y="654.8" width="1.6" height="1.05" fill="#b5b5c5"/>
<rect x="115.6" y="655.8" width="1.6" height="1.05" fill="#b193a1"/>
<rect x="115.6" y="656.8" width="1.6" height="1.05" fill="#b193a1"/>
<rect x="115.6" y="657.8" width="1.6" height="1.05" fill="#afafbf"/>
<rect x="115.6" y="658.8" width="1.6" height="1.05" fill="#b698a6"/>
<rect x="115.6" y="659.8" width="1.6" height="1.05" fill="#b3b3c3"/>
<rect x="115.6" y="660.8" width="1.6" height="1.05" fill="#b6b6c6"/>
<rect x="115.6" y="661.8" width="1.6" height="1.05" fill="#b294a2"/>
<rect x="115.6" y="662.8" width="1.6" height="1.05" fill="#b6b6c6"/>
<rect x="115.6" y="663.8" width="1.6" height="1.05" fill="#b799a7"/>
<rect x="115.6" y="664.8" width="1.6" height="1.05" fill="#babaca"/>
<rect x="115.6" y="665.8" width="1.6" height="1.05" fill="#b193a1"/>
<rect x="115.6" y="666.8" width="1.6" height="1.05" fill="#b698a6"/>
<rect x="115.6" y="667.8" width="1.6" height="1.05" fill="#b8b8c8"/>
<rect x="115.6" y="668.8" width="1.6" height="1.05" fill="#b698a6"/>
<rect x="115.6" y="669.8" width="1.6" height="1.05" fill="#b9b9c9"/>
<rect x="115.6" y="670.8" width="1.6" height="1.05" fill="#b698a6"/>
<rect x="115.6" y="671.8" width="1.6" height="1.05" fill="#b99ba9"/>
<rect x="115.6" y="672.8" width="1.6" height="1.05" fill="#bea0ae"/>
<rect x="115.6" y="673.8" width="1.6" height="1.05" fill="#b5b5c5"/>
<rect x="115.6" y="674.8" width="1.6" height="1.05" fill="#b496a4"/>
<rect x="115.6" y="675.8" width="1.6" height="1.05" fill="#bd9fad"/>
<rect x="115.6" y="676.8" width="1.6" height="1.05" fill="#b0b0c0"/>
<rect x="115.6" y="677.8" width="1.6" height="1.05" fill="#b6b6c6"/>
<rect x="115.6" y="678.8" width="1.6" height="1.05" fill="#afafbf"/>
<rect x="115.6" y="679.8" width="1.6" height="1.05" fill="#bd9fad"/>
<rect x="115.6" y="680.8" width="1.6" height="1.05" fill="#b89aa8"/>
<rect x="115.6" y="681.8" width="1.6" height="1.05" fill="#b1b1c1"/>
<rect x="115.6" y="682.8" width="1.6" height="1.05" fill="#b9b9c9"/>
<rect x="115.6" y="683.8" width="1.6" height="1.05" fill="#b7b7c7"/>
<rect x="115.6" y="684.8" width="1.6" height="1.05" fill="#b193a1"/>
<rect x="115.6" y="685.8" width="1.6" height="1.05" fill="#b597a5"/>
<rect x="115.6" y="686.8" width="1.6" height="1.05" fill="#bd9fad"/>
<rect x="115.6" y="687.8" width="1.6" height="1.05" fill="#bc9eac"/>
<rect x="115.6" y="688.8" width="1.6" height="1.05" fill="#aeaebe"/>
<rect x="115.6" y="689.8" width="1.6" height="1.05" fill="#b2b2c2"/>
<rect x="115.6" y="690.8" width="1.6" height="1.05" fill="#b395a3"/>
<rect x="115.6" y="691.8" width="1.6" height="1.05" fill="#b799a7"/>
<rect x="115.6" y="692.8" width="1.6" height="1.05" fill="#bc9eac"/>
<rect x="115.6" y="693.8" width="1.6" height="1.05" fill="#adadbd"/>
<rect x="115.6" y="694.8" width="1.6" height="1.05" fill="#b698a6"/>
<rect x="115.6" y="695.8" width="1.6" height="1.05" fill="#b496a4"/>
<rect x="115.6" y="696.8" width="1.6" height="1.05" fill="#ba9caa"/>
<rect x="115.6" y="697.8" width="1.6" height="1.05" fill="#b294a2"/>
<rect x="115.6" y="698.8" width="1.6" height="1.05" fill="#b799a7"/>
<rect x="115.6" y="699.8" width="1.6" height="1.05" fill="#b0b0c0"/>
<rect x="115.6" y="700.8" width="1.6" height="1.05" fill="#b0b0c0"/>
<rect x="115.6" y="701.8" width="1.6" height="1.05" fill="#b5b5c5"/>
<rect x="115.6" y="702.8" width="1.6" height="1.05" fill="#bb9dab"/>
<rect x="115.6" y="703.8" width="1.6" height="0.45" fill="#b89aa8"/>
<rect x="117.7" y="507.8" width="45.6" height="1.05" fill="#bdd9e9"/>
<rect x="117.7" y="508.8" width="45.6" height="1.05" fill="#b5d1e1"/>
<rect x="117.7" y="509.8" width="45.6" height="1.05" fill="#edc7bf"/>
<rect x="117.7" y="510.8" width="45.6" height="1.05" fill="#bdd9e9"/>
<rect x="117.7" y="511.8" width="45.6" height="1.05" fill="#c1dded"/>
<rect x="117.7" y="512.8" width="45.6" height="1.05" fill="#b8d4e4"/>
<rect x="117.7" y="513.8" width="45.6" height="1.05" fill="#eec8c0"/>
<rect x="117.7" y="514.8" width="45.6" height="1.05" fill="#c2deee"/>
<rect x="117.7" y="515.8" width="45.6" height="1.05" fill="#b7d3e3"/>
<rect x="117.7" y="516.8" width="45.6" height="1.05" fill="#b9d5e5"/>
<rect x="117.7" y="517.8" width="45.6" height="1.05" fill="#bdd9e9"/>
<rect x="117.7" y="518.8" width="45.6" height="1.05" fill="#bcd8e8"/>
<rect x="117.7" y="519.8" width="45.6" height="1.05" fill="#e7c1b9"/>
<rect x="117.7" y="520.8" width="45.6" height="1.05" fill="#c1dded"/>
<rect x="117.7" y="521.8" width="45.6" height="1.05" fill="#bbd7e7"/>
<rect x="117.7" y="522.8" width="45.6" height="1.05" fill="#c0dcec"/>
<rect x="117.7" y="523.8" width="45.6" height="1.05" fill="#b6d2e2"/>
<rect x="117.7" y="524.8" width="45.6" height="1.05" fill="#e8c2ba"/>
<rect x="117.7" y="525.8" width="45.6" height="1.05" fill="#c1dded"/>
<rect x="117.7" y="526.8" width="45.6" height="1.05" fill="#e8c2ba"/>
<rect x="117.7" y="527.8" width="45.6" height="1.05" fill="#ecc6be"/>
<rect x="117.7" y="528.8" width="45.6" height="1.05" fill="#b9d5e5"/>
<rect x="117.7" y="529.8" width="45.6" height="1.05" fill="#bedaea"/>
<rect x="117.7" y="530.8" width="45.6" height="1.05" fill="#b9d5e5"/>
<rect x="117.7" y="531.8" width="45.6" height="1.05" fill="#bcd8e8"/>
<rect x="117.7" y="532.8" width="45.6" height="1.05" fill="#bedaea"/>
<rect x="117.7" y="533.8" width="45.6" height="1.05" fill="#bad6e6"/>
<rect x="117.7" y="534.8" width="45.6" height="1.05" fill="#bcd8e8"/>
<rect x="117.7" y="535.8" width="45.6" height="1.05" fill="#bfdbeb"/>
<rect x="117.7" y="536.8" width="45.6" height="1.05" fill="#bad6e6"/>
<rect x="117.7" y="537.8" width="45.6" height="1.05" fill="#bad6e6"/>
<rect x="117.7" y="538.8" width="45.6" height="1.05" fill="#b6d2e2"/>
<rect x="117.7" y="539.8" width="45.6" height="1.05" fill="#bbd7e7"/>
<rect x="117.7" y="540.8" width="45.6" height="1.05" fill="#bcd8e8"/>
<rect x="117.7" y="541.8" width="45.6" height="1.05" fill="#b6d2e2"/>
<rect x="117.7" y="542.8" width="45.6" height="1.05" fill="#c1dded"/>
<rect x="117.7" y="543.8" width="45.6" height="1.05" fill="#e8c2ba"/>
<rect x="117.7" y="544.8" width="45.6" height="1.05" fill="#b5d1e1"/>
<rect x="117.7" y="545.8" width="45.6" height="1.05" fill="#b9d5e5"/>
<rect x="117.7" y="546.8" width="45.6" height="0.25" fill="#e2bcb4"/>
<rect x="117.7" y="547.0" width="45.6" height="1.05" fill="#93c1e1"/>
<rect x="117.7" y="548.0" width="45.6" height="1.05" fill="#90bede"/>
<rect x="117.7" y="549.0" width="45.6" height="1.05" fill="#8fbddd"/>
<rect x="117.7" y="550.0" width="45.6" height="1.05" fill="#c6ddec"/>
<rect x="117.7" y="551.0" width="45.6" height="1.05" fill="#c2d9e8"/>
<rect x="117.7" y="552.0" width="45.6" height="1.05" fill="#ecc6be"/>
<rect x="117.7" y="553.0" width="45.6" height="1.05" fill="#edc7bf"/>
<rect x="117.7" y="554.0" width="45.6" height="1.05" fill="#c8dfee"/>
<rect x="117.7" y="555.0" width="45.6" height="1.05" fill="#e4beb6"/>
<rect x="117.7" y="556.0" width="45.6" height="1.05" fill="#cce3f2"/>
<rect x="117.7" y="557.0" width="45.6" height="1.05" fill="#c9e0ef"/>
<rect x="117.7" y="558.0" width="45.6" height="1.05" fill="#c8dfee"/>
<rect x="117.7" y="559.0" width="45.6" height="1.05" fill="#c6ddec"/>
<rect x="117.7" y="560.0" width="45.6" height="1.05" fill="#cbe2f1"/>
<rect x="117.7" y="561.0" width="45.6" height="1.05" fill="#e8c2ba"/>
<rect x="117.7" y="562.0" width="45.6" height="1.05" fill="#c4dbea"/>
<rect x="117.7" y="563.0" width="45.6" height="1.05" fill="#e4beb6"/>
<rect x="117.7" y="564.0" width="45.6" height="1.05" fill="#c7deed"/>
<rect x="117.7" y="565.0" width="45.6" height="1.05" fill="#bfd6e5"/>
<rect x="117.7" y="566.0" width="45.6" height="1.05" fill="#c7deed"/>
<rect x="117.7" y="567.0" width="45.6" height="1.05" fill="#c9e0ef"/>
<rect x="117.7" y="568.0" width="45.6" height="1.05" fill="#eec4bc"/>
<rect x="117.7" y="569.0" width="45.6" height="1.05" fill="#ebc1b9"/>
<rect x="117.7" y="570.0" width="45.6" height="1.05" fill="#d5e1e9"/>
<rect x="117.7" y="571.0" width="45.6" height="1.05" fill="#ebc1b9"/>
<rect x="117.7" y="572.0" width="45.6" height="1.05" fill="#e3b9b1"/>
<rect x="117.7" y="573.0" width="45.6" height="1.05" fill="#e2eef6"/>
<rect x="117.7" y="574.0" width="45.6" height="1.05" fill="#e7bdb5"/>
<rect x="117.7" y="575.0" width="45.6" height="1.05" fill="#e3b9b1"/>
<rect x="117.7" y="576.0" width="45.6" height="1.05" fill="#eac0b8"/>
<rect x="117.7" y="577.0" width="45.6" height="1.05" fill="#e3b9b1"/>
<rect x="117.7" y="578.0" width="45.6" height="1.05" fill="#dde9f1"/>
<rect x="117.7" y="579.0" width="45.6" height="1.05" fill="#e2b8b0"/>
<rect x="117.7" y="580.0" width="45.6" height="1.05" fill="#d6e2ea"/>
<rect x="117.7" y="581.0" width="45.6" height="1.05" fill="#e6bcb4"/>
<rect x="117.7" y="582.0" width="45.6" height="1.05" fill="#e2eef6"/>
<rect x="117.7" y="583.0" width="45.6" height="1.05" fill="#e4bab2"/>
<rect x="117.7" y="584.0" width="45.6" height="1.05" fill="#e1b7af"/>
<rect x="117.7" y="585.0" width="45.6" height="1.05" fill="#deeaf2"/>
<rect x="117.7" y="586.0" width="45.6" height="1.05" fill="#d5e1e9"/>
<rect x="117.7" y="587.0" width="45.6" height="0.45" fill="#e5bbb3"/>
<rect x="117.7" y="587.4" width="45.6" height="1.05" fill="#b26272"/>
<rect x="117.7" y="588.4" width="45.6" height="1.05" fill="#b66676"/>
<rect x="117.7" y="589.4" width="45.6" height="1.05" fill="#b76777"/>
<rect x="117.7" y="590.4" width="45.6" height="1.05" fill="#cd8d9d"/>
<rect x="117.7" y="591.4" width="45.6" height="1.05" fill="#c37787"/>
<rect x="117.7" y="592.4" width="45.6" height="1.05" fill="#b56575"/>
<rect x="117.7" y="593.4" width="45.6" height="1.05" fill="#c27686"/>
<rect x="117.7" y="594.4" width="45.6" height="1.05" fill="#c17585"/>
<rect x="117.7" y="595.4" width="45.6" height="1.05" fill="#d090a0"/>
<rect x="117.7" y="596.4" width="45.6" height="1.05" fill="#cd8d9d"/>
<rect x="117.7" y="597.4" width="45.6" height="1.05" fill="#bd7181"/>
<rect x="117.7" y="598.4" width="45.6" height="1.05" fill="#bf7383"/>
<rect x="117.7" y="599.4" width="45.6" height="1.05" fill="#cc8c9c"/>
<rect x="117.7" y="600.4" width="45.6" height="1.05" fill="#d191a1"/>
<rect x="117.7" y="601.4" width="45.6" height="1.05" fill="#d393a3"/>
<rect x="117.7" y="602.4" width="45.6" height="1.05" fill="#ce8e9e"/>
<rect x="117.7" y="603.4" width="45.6" height="1.05" fill="#bd7181"/>
<rect x="117.7" y="604.4" width="45.6" height="1.05" fill="#d090a0"/>
<rect x="117.7" y="605.4" width="45.6" height="1.05" fill="#c97d8d"/>
<rect x="117.7" y="606.4" width="45.6" height="1.05" fill="#d191a1"/>
<rect x="117.7" y="607.4" width="45.6" height="1.05" fill="#be7282"/>
<rect x="117.7" y="608.4" width="45.6" height="1.05" fill="#b36373"/>
<rect x="117.7" y="609.4" width="45.6" height="1.05" fill="#ca7e8e"/>
<rect x="117.7" y="610.4" width="45.6" height="1.05" fill="#c37787"/>
<rect x="117.7" y="611.4" width="45.6" height="1.05" fill="#c07484"/>
<rect x="117.7" y="612.4" width="45.6" height="0.25" fill="#b66676"/>
<rect x="117.7" y="612.6" width="45.6" height="1.05" fill="#dfe7ef"/>
<rect x="117.7" y="613.6" width="45.6" height="1.05" fill="#e2eaf2"/>
<rect x="117.7" y="614.6" width="45.6" height="1.05" fill="#e5edf5"/>
<rect x="117.7" y="615.6" width="45.6" height="1.05" fill="#e2eaf2"/>
<rect x="117.7" y="616.6" width="45.6" height="1.05" fill="#dfe7ef"/>
<rect x="117.7" y="617.6" width="45.6" height="1.05" fill="#dde5ed"/>
<rect x="117.7" y="618.6" width="45.6" height="1.05" fill="#e1e9f1"/>
<rect x="117.7" y="619.6" width="45.6" height="1.05" fill="#e6eef6"/>
<rect x="117.7" y="620.6" width="45.6" height="0.75" fill="#e6eef6"/>
<rect x="117.7" y="621.3" width="45.6" height="1.05" fill="#d29ea2"/>
<rect x="117.7" y="622.3" width="45.6" height="1.05" fill="#e0c0c4"/>
<rect x="117.7" y="623.3" width="45.6" height="1.05" fill="#e0c0c4"/>
<rect x="117.7" y="624.3" width="45.6" height="1.05" fill="#d29ea2"/>
<rect x="117.7" y="625.3" width="45.6" height="1.05" fill="#d8a4a8"/>
<rect x="117.7" y="626.3" width="45.6" height="1.05" fill="#d9b9bd"/>
<rect x="117.7" y="627.3" width="45.6" height="0.75" fill="#daa6aa"/>
<rect x="117.7" y="628.0" width="45.6" height="1.05" fill="#e6c0b8"/>
<rect x="117.7" y="629.0" width="45.6" height="1.05" fill="#e8c2ba"/>
<rect x="117.7" y="630.0" width="45.6" height="1.05" fill="#dbe7ef"/>
<rect x="117.7" y="631.0" width="45.6" height="1.05" fill="#e1bbb3"/>
<rect x="117.7" y="632.0" width="45.6" height="1.05" fill="#dfebf3"/>
<rect x="117.7" y="633.0" width="45.6" height="1.05" fill="#dbe7ef"/>
<rect x="117.7" y="634.0" width="45.6" height="1.05" fill="#dae6ee"/>
<rect x="117.7" y="635.0" width="45.6" height="1.05" fill="#ebc5bd"/>
<rect x="117.7" y="636.0" width="45.6" height="1.05" fill="#e7c1b9"/>
<rect x="117.7" y="637.0" width="45.6" height="1.05" fill="#d9e5ed"/>
<rect x="117.7" y="638.0" width="45.6" height="1.05" fill="#d8e4ec"/>
<rect x="117.7" y="639.0" width="45.6" height="1.05" fill="#dde9f1"/>
<rect x="117.7" y="640.0" width="45.6" height="1.05" fill="#d7e3eb"/>
<rect x="117.7" y="641.0" width="45.6" height="1.05" fill="#d7e3eb"/>
<rect x="117.7" y="642.0" width="45.6" height="0.45" fill="#d8e4ec"/>
<rect x="117.7" y="642.4" width="45.6" height="1.05" fill="#e8bcb0"/>
<rect x="117.7" y="643.4" width="45.6" height="1.05" fill="#dfa393"/>
<rect x="117.7" y="644.4" width="45.6" height="1.05" fill="#e3a797"/>
<rect x="117.7" y="645.4" width="45.6" height="1.05" fill="#e6baae"/>
<rect x="117.7" y="646.4" width="45.6" height="1.05" fill="#e4b8ac"/>
<rect x="117.7" y="647.4" width="45.6" height="1.05" fill="#dca090"/>
<rect x="117.7" y="648.4" width="45.6" height="1.05" fill="#e1a595"/>
<rect x="117.7" y="649.4" width="45.6" height="1.05" fill="#e3a797"/>
<rect x="117.7" y="650.4" width="45.6" height="0.65" fill="#e3a797"/>
<rect x="117.7" y="651.0" width="45.6" height="1.05" fill="#dacad2"/>
<rect x="117.7" y="652.0" width="45.6" height="1.05" fill="#dbcbd3"/>
<rect x="117.7" y="653.0" width="45.6" height="1.05" fill="#dacad2"/>
<rect x="117.7" y="654.0" width="45.6" height="1.05" fill="#dfcfd7"/>
<rect x="117.7" y="655.0" width="45.6" height="1.05" fill="#dfd7df"/>
<rect x="117.7" y="656.0" width="45.6" height="1.05" fill="#e8e0e8"/>
<rect x="117.7" y="657.0" width="45.6" height="1.05" fill="#eae2ea"/>
<rect x="117.7" y="658.0" width="45.6" height="1.05" fill="#dfcfd7"/>
<rect x="117.7" y="659.0" width="45.6" height="1.05" fill="#ded6de"/>
<rect x="117.7" y="660.0" width="45.6" height="1.05" fill="#e2d2da"/>
<rect x="117.7" y="661.0" width="45.6" height="1.05" fill="#e0d0d8"/>
<rect x="117.7" y="662.0" width="45.6" height="1.05" fill="#e3dbe3"/>
<rect x="117.7" y="663.0" width="45.6" height="1.05" fill="#d8c8d0"/>
<rect x="117.7" y="664.0" width="45.6" height="0.25" fill="#e2dae2"/>
<rect x="117.7" y="664.2" width="45.6" height="1.05" fill="#ef9373"/>
<rect x="117.7" y="665.2" width="45.6" height="0.85" fill="#ec9070"/>
<rect x="117.7" y="666.0" width="45.6" height="1.05" fill="#e6d8e0"/>
<rect x="117.7" y="667.0" width="45.6" height="1.05" fill="#ded0d8"/>
<rect x="117.7" y="668.0" width="45.6" height="1.05" fill="#e4dce4"/>
<rect x="117.7" y="669.0" width="45.6" height="1.05" fill="#e5d7df"/>
<rect x="117.7" y="670.0" width="45.6" height="1.05" fill="#dcced6"/>
<rect x="117.7" y="671.0" width="45.6" height="1.05" fill="#e4dce4"/>
<rect x="117.7" y="672.0" width="45.6" height="1.05" fill="#d18d95"/>
<rect x="117.7" y="673.0" width="45.6" height="1.05" fill="#dcced6"/>
<rect x="117.7" y="674.0" width="45.6" height="1.05" fill="#e0d2da"/>
<rect x="117.7" y="675.0" width="45.6" height="1.05" fill="#e0d2da"/>
<rect x="117.7" y="676.0" width="45.6" height="1.05" fill="#e4d6de"/>
<rect x="117.7" y="677.0" width="45.6" height="1.05" fill="#ebe3eb"/>
<rect x="117.7" y="678.0" width="45.6" height="1.05" fill="#cd8991"/>
<rect x="117.7" y="679.0" width="45.6" height="1.05" fill="#dbcdd5"/>
<rect x="117.7" y="680.0" width="45.6" height="1.05" fill="#e6d8e0"/>
<rect x="117.7" y="681.0" width="45.6" height="1.05" fill="#d9959d"/>
<rect x="117.7" y="682.0" width="45.6" height="1.05" fill="#daccd4"/>
<rect x="117.7" y="683.0" width="45.6" height="1.05" fill="#d9cbd3"/>
<rect x="117.7" y="684.0" width="45.6" height="1.05" fill="#d08c94"/>
<rect x="117.7" y="685.0" width="45.6" height="1.05" fill="#e6d8e0"/>
<rect x="117.7" y="686.0" width="45.6" height="1.05" fill="#e5d7df"/>
<rect x="117.7" y="687.0" width="45.6" height="1.05" fill="#e2d4dc"/>
<rect x="117.7" y="688.0" width="45.6" height="1.05" fill="#e5d7df"/>
<rect x="117.7" y="689.0" width="45.6" height="1.05" fill="#ddcfd7"/>
<rect x="117.7" y="690.0" width="45.6" height="1.05" fill="#e1d3db"/>
<rect x="117.7" y="691.0" width="45.6" height="1.05" fill="#daccd4"/>
<rect x="117.7" y="692.0" width="45.6" height="1.05" fill="#d9cbd3"/>
<rect x="117.7" y="693.0" width="45.6" height="1.05" fill="#d18d95"/>
<rect x="117.7" y="694.0" width="45.6" height="1.05" fill="#ddcfd7"/>
<rect x="117.7" y="695.0" width="45.6" height="1.05" fill="#ddcfd7"/>
<rect x="117.7" y="696.0" width="45.6" height="1.05" fill="#ded0d8"/>
<rect x="117.7" y="697.0" width="45.6" height="1.05" fill="#ddcfd7"/>
<rect x="117.7" y="698.0" width="45.6" height="1.05" fill="#e3d5dd"/>
<rect x="117.7" y="699.0" width="45.6" height="1.05" fill="#e3d5dd"/>
<rect x="117.7" y="700.0" width="45.6" height="1.05" fill="#daccd4"/>
<rect x="117.7" y="701.0" width="45.6" height="1.05" fill="#e4d6de"/>
<rect x="117.7" y="702.0" width="45.6" height="1.05" fill="#ded0d8"/>
<rect x="117.7" y="703.0" width="45.6" height="1.05" fill="#e4d6de"/>
<rect x="117.7" y="704.0" width="45.6" height="0.25" fill="#ded0d8"/>
<rect x="163.7" y="507.8" width="2.7" height="1.05" fill="#bfd6e5"/>
<rect x="163.7" y="508.8" width="2.7" height="1.05" fill="#c5dceb"/>
<rect x="163.7" y="509.8" width="2.7" height="1.05" fill="#c5dceb"/>
<rect x="163.7" y="510.8" width="2.7" height="1.05" fill="#c9e0ef"/>
<rect x="163.7" y="511.8" width="2.7" height="1.05" fill="#cce3f2"/>
<rect x="163.7" y="512.8" width="2.7" height="1.05" fill="#cbe2f1"/>
<rect x="163.7" y="513.8" width="2.7" height="1.05" fill="#cae1f0"/>
<rect x="163.7" y="514.8" width="2.7" height="1.05" fill="#c0d7e6"/>
<rect x="163.7" y="515.8" width="2.7" height="1.05" fill="#cae1f0"/>
<rect x="163.7" y="516.8" width="2.7" height="1.05" fill="#cbe2f1"/>
<rect x="163.7" y="517.8" width="2.7" height="1.05" fill="#bfd6e5"/>
<rect x="163.7" y="518.8" width="2.7" height="1.05" fill="#c0d7e6"/>
<rect x="163.7" y="519.8" width="2.7" height="1.05" fill="#c5dceb"/>
<rect x="163.7" y="520.8" width="2.7" height="1.05" fill="#cae1f0"/>
<rect x="163.7" y="521.8" width="2.7" height="1.05" fill="#c8dfee"/>
<rect x="163.7" y="522.8" width="2.7" height="1.05" fill="#c6ddec"/>
<rect x="163.7" y="523.8" width="2.7" height="1.05" fill="#cbe2f1"/>
<rect x="163.7" y="524.8" width="2.7" height="1.05" fill="#c0d7e6"/>
<rect x="163.7" y="525.8" width="2.7" height="1.05" fill="#c2d9e8"/>
<rect x="163.7" y="526.8" width="2.7" height="1.05" fill="#bfd6e5"/>
<rect x="163.7" y="527.8" width="2.7" height="1.05" fill="#c9e0ef"/>
<rect x="163.7" y="528.8" width="2.7" height="1.05" fill="#c6ddec"/>
<rect x="163.7" y="529.8" width="2.7" height="1.05" fill="#c2d9e8"/>
<rect x="163.7" y="530.8" width="2.7" height="1.05" fill="#c9e0ef"/>
<rect x="163.7" y="531.8" width="2.7" height="1.05" fill="#c9e0ef"/>
<rect x="163.7" y="532.8" width="2.7" height="1.05" fill="#bfd6e5"/>
<rect x="163.7" y="533.8" width="2.7" height="1.05" fill="#c6ddec"/>
<rect x="163.7" y="534.8" width="2.7" height="1.05" fill="#c2d9e8"/>
<rect x="163.7" y="535.8" width="2.7" height="1.05" fill="#c0d7e6"/>
<rect x="163.7" y="536.8" width="2.7" height="1.05" fill="#c5dceb"/>
<rect x="163.7" y="537.8" width="2.7" height="1.05" fill="#c8dfee"/>
<rect x="163.7" y="538.8" width="2.7" height="1.05" fill="#c9e0ef"/>
<rect x="163.7" y="539.8" width="2.7" height="1.05" fill="#cbe2f1"/>
<rect x="163.7" y="540.8" width="2.7" height="1.05" fill="#c2d9e8"/>
<rect x="163.7" y="541.8" width="2.7" height="1.05" fill="#cbe2f1"/>
<rect x="163.7" y="542.8" width="2.7" height="1.05" fill="#c4dbea"/>
<rect x="163.7" y="543.8" width="2.7" height="1.05" fill="#c8dfee"/>
<rect x="163.7" y="544.8" width="2.7" height="1.05" fill="#c3dae9"/>
<rect x="163.7" y="545.8" width="2.7" height="1.05" fill="#c9e0ef"/>
<rect x="163.7" y="546.8" width="2.7" height="1.05" fill="#c0d7e6"/>
<rect x="163.7" y="547.8" width="2.7" height="1.05" fill="#c9e0ef"/>
<rect x="163.7" y="548.8" width="2.7" height="0.45" fill="#c4dbea"/>
<rect x="163.7" y="549.2" width="2.7" height="1.05" fill="#9d2b43"/>
<rect x="163.7" y="550.2" width="2.7" height="1.05" fill="#98263e"/>
<rect x="163.7" y="551.2" width="2.7" height="1.05" fill="#9f2d45"/>
<rect x="163.7" y="552.2" width="2.7" height="0.85" fill="#cce3f2"/>
<rect x="163.7" y="553.0" width="2.7" height="1.05" fill="#9d2b43"/>
<rect x="163.7" y="554.0" width="2.7" height="1.05" fill="#9f2d45"/>
<rect x="163.7" y="555.0" width="2.7" height="0.75" fill="#9d2b43"/>
<rect x="163.7" y="555.7" width="2.7" height="1.05" fill="#c5dceb"/>
<rect x="163.7" y="556.7" width="2.7" height="1.05" fill="#e3bdb5"/>
<rect x="163.7" y="557.7" width="2.7" height="1.05" fill="#e5bfb7"/>
<rect x="163.7" y="558.7" width="2.7" height="1.05" fill="#e2bcb4"/>
<rect x="163.7" y="559.7" width="2.7" height="1.05" fill="#c5dceb"/>
<rect x="163.7" y="560.7" width="2.7" height="1.05" fill="#e3bdb5"/>
<rect x="163.7" y="561.7" width="2.7" height="1.05" fill="#c0d7e6"/>
<rect x="163.7" y="562.7" width="2.7" height="1.05" fill="#c7deed"/>
<rect x="163.7" y="563.7" width="2.7" height="1.05" fill="#c1d8e7"/>
<rect x="163.7" y="564.7" width="2.7" height="1.05" fill="#a4324a"/>
<rect x="163.7" y="565.7" width="2.7" height="0.35" fill="#9e2c44"/>
<rect x="163.7" y="566.0" width="2.7" height="1.05" fill="#deeaf2"/>
<rect x="163.7" y="567.0" width="2.7" height="1.05" fill="#eac4bc"/>
<rect x="163.7" y="568.0" width="2.7" height="1.05" fill="#dbe7ef"/>
<rect x="163.7" y="569.0" width="2.7" height="1.05" fill="#d5e1e9"/>
<rect x="163.7" y="570.0" width="2.7" height="1.05" fill="#e5bfb7"/>
<rect x="163.7" y="571.0" width="2.7" height="1.05" fill="#dde9f1"/>
<rect x="163.7" y="572.0" width="2.7" height="1.05" fill="#dbe7ef"/>
<rect x="163.7" y="573.0" width="2.7" height="1.05" fill="#e8c2ba"/>
<rect x="163.7" y="574.0" width="2.7" height="1.05" fill="#d5e1e9"/>
<rect x="163.7" y="575.0" width="2.7" height="1.05" fill="#dae6ee"/>
<rect x="163.7" y="576.0" width="2.7" height="1.05" fill="#d9e5ed"/>
<rect x="163.7" y="577.0" width="2.7" height="1.05" fill="#d5e1e9"/>
<rect x="163.7" y="578.0" width="2.7" height="1.05" fill="#d6e2ea"/>
<rect x="163.7" y="579.0" width="2.7" height="1.05" fill="#e9c3bb"/>
<rect x="163.7" y="580.0" width="2.7" height="1.05" fill="#deeaf2"/>
<rect x="163.7" y="581.0" width="2.7" height="1.05" fill="#d5e1e9"/>
<rect x="163.7" y="582.0" width="2.7" height="1.05" fill="#e4beb6"/>
<rect x="163.7" y="583.0" width="2.7" height="1.05" fill="#e2bcb4"/>
<rect x="163.7" y="584.0" width="2.7" height="1.05" fill="#d8e4ec"/>
<rect x="163.7" y="585.0" width="2.7" height="1.05" fill="#ecc6be"/>
<rect x="163.7" y="586.0" width="2.7" height="1.05" fill="#d7e3eb"/>
<rect x="163.7" y="587.0" width="2.7" height="1.05" fill="#deeaf2"/>
<rect x="163.7" y="588.0" width="2.7" height="1.05" fill="#e1edf5"/>
<rect x="163.7" y="589.0" width="2.7" height="1.05" fill="#eec8c0"/>
<rect x="163.7" y="590.0" width="2.7" height="1.05" fill="#dde9f1"/>
<rect x="163.7" y="591.0" width="2.7" height="1.05" fill="#e4beb6"/>
<rect x="163.7" y="592.0" width="2.7" height="1.05" fill="#d6e2ea"/>
<rect x="163.7" y="593.0" width="2.7" height="1.05" fill="#e0ecf4"/>
<rect x="163.7" y="594.0" width="2.7" height="1.05" fill="#dfebf3"/>
<rect x="163.7" y="595.0" width="2.7" height="1.05" fill="#e1edf5"/>
<rect x="163.7" y="596.0" width="2.7" height="1.05" fill="#eac4bc"/>
<rect x="163.7" y="597.0" width="2.7" height="1.05" fill="#e1bbb3"/>
<rect x="163.7" y="598.0" width="2.7" height="1.05" fill="#dae6ee"/>
<rect x="163.7" y="599.0" width="2.7" height="1.05" fill="#deeaf2"/>
<rect x="163.7" y="600.0" width="2.7" height="1.05" fill="#ebc5bd"/>
<rect x="163.7" y="601.0" width="2.7" height="1.05" fill="#eac4bc"/>
<rect x="163.7" y="602.0" width="2.7" height="1.05" fill="#dce8f0"/>
<rect x="163.7" y="603.0" width="2.7" height="1.05" fill="#ecc6be"/>
<rect x="163.7" y="604.0" width="2.7" height="1.05" fill="#d9e5ed"/>
<rect x="163.7" y="605.0" width="2.7" height="1.05" fill="#d8e4ec"/>
<rect x="163.7" y="606.0" width="2.7" height="1.05" fill="#e1bbb3"/>
<rect x="163.7" y="607.0" width="2.7" height="1.05" fill="#dbe7ef"/>
<rect x="163.7" y="608.0" width="2.7" height="1.05" fill="#dce8f0"/>
<rect x="163.7" y="609.0" width="2.7" height="1.05" fill="#e2eef6"/>
<rect x="163.7" y="610.0" width="2.7" height="1.05" fill="#e9c3bb"/>
<rect x="163.7" y="611.0" width="2.7" height="1.05" fill="#edc7bf"/>
<rect x="163.7" y="612.0" width="2.7" height="1.05" fill="#e0ecf4"/>
<rect x="163.7" y="613.0" width="2.7" height="0.55" fill="#eec8c0"/>
<rect x="163.7" y="613.5" width="2.7" height="1.05" fill="#98263e"/>
<rect x="163.7" y="614.5" width="2.7" height="1.05" fill="#9c2a42"/>
<rect x="163.7" y="615.5" width="2.7" height="1.05" fill="#9d2b43"/>
<rect x="163.7" y="616.5" width="2.7" height="1.05" fill="#9e2c44"/>
<rect x="163.7" y="617.5" width="2.7" height="1.05" fill="#97253d"/>
<rect x="163.7" y="618.5" width="2.7" height="1.05" fill="#aa3a52"/>
<rect x="163.7" y="619.5" width="2.7" height="1.05" fill="#9a2840"/>
<rect x="163.7" y="620.5" width="2.7" height="1.05" fill="#9c2a42"/>
<rect x="163.7" y="621.5" width="2.7" height="1.05" fill="#96243c"/>
<rect x="163.7" y="622.5" width="2.7" height="1.05" fill="#ad3d55"/>
<rect x="163.7" y="623.5" width="2.7" height="1.05" fill="#96243c"/>
<rect x="163.7" y="624.5" width="2.7" height="1.05" fill="#9d2b43"/>
<rect x="163.7" y="625.5" width="2.7" height="1.05" fill="#aa3a52"/>
<rect x="163.7" y="626.5" width="2.7" height="1.05" fill="#9d2b43"/>
<rect x="163.7" y="627.5" width="2.7" height="1.05" fill="#98263e"/>
<rect x="163.7" y="628.5" width="2.7" height="1.05" fill="#99273f"/>
<rect x="163.7" y="629.5" width="2.7" height="1.05" fill="#9d2b43"/>
<rect x="163.7" y="630.5" width="2.7" height="1.05" fill="#a2324a"/>
<rect x="163.7" y="631.5" width="2.7" height="1.05" fill="#a02e46"/>
<rect x="163.7" y="632.5" width="2.7" height="1.05" fill="#9b2941"/>
<rect x="163.7" y="633.5" width="2.7" height="1.05" fill="#a13149"/>
<rect x="163.7" y="634.5" width="2.7" height="1.05" fill="#9b2941"/>
<rect x="163.7" y="635.5" width="2.7" height="1.05" fill="#97253d"/>
<rect x="163.7" y="636.5" width="2.7" height="1.05" fill="#94223a"/>
<rect x="163.7" y="637.5" width="2.7" height="1.05" fill="#96243c"/>
<rect x="163.7" y="638.5" width="2.7" height="1.05" fill="#ac3c54"/>
<rect x="163.7" y="639.5" width="2.7" height="1.05" fill="#9d2b43"/>
<rect x="163.7" y="640.5" width="2.7" height="1.05" fill="#9a2840"/>
<rect x="163.7" y="641.5" width="2.7" height="0.75" fill="#9f2d45"/>
<rect x="163.7" y="642.2" width="2.7" height="1.05" fill="#e3a797"/>
<rect x="163.7" y="643.2" width="2.7" height="1.05" fill="#e4a898"/>
<rect x="163.7" y="644.2" width="2.7" height="1.05" fill="#e0a494"/>
<rect x="163.7" y="645.2" width="2.7" height="1.05" fill="#d99d8d"/>
<rect x="163.7" y="646.2" width="2.7" height="1.05" fill="#e5a999"/>
<rect x="163.7" y="647.2" width="2.7" height="1.05" fill="#dda191"/>
<rect x="163.7" y="648.2" width="2.7" height="1.05" fill="#dda191"/>
<rect x="163.7" y="649.2" width="2.7" height="1.05" fill="#dea292"/>
<rect x="163.7" y="650.2" width="2.7" height="0.85" fill="#e6aa9a"/>
<rect x="163.7" y="651.0" width="2.7" height="1.05" fill="#dcccd4"/>
<rect x="163.7" y="652.0" width="2.7" height="1.05" fill="#e2bcb4"/>
<rect x="163.7" y="653.0" width="2.7" height="1.05" fill="#e5d5dd"/>
<rect x="163.7" y="654.0" width="2.7" height="1.05" fill="#ddcdd5"/>
<rect x="163.7" y="655.0" width="2.7" height="1.05" fill="#ecc6be"/>
<rect x="163.7" y="656.0" width="2.7" height="1.05" fill="#e1d1d9"/>
<rect x="163.7" y="657.0" width="2.7" height="1.05" fill="#deced6"/>
<rect x="163.7" y="658.0" width="2.7" height="1.05" fill="#eec8c0"/>
<rect x="163.7" y="659.0" width="2.7" height="1.05" fill="#dbcbd3"/>
<rect x="163.7" y="660.0" width="2.7" height="1.05" fill="#e4d4dc"/>
<rect x="163.7" y="661.0" width="2.7" height="1.05" fill="#dbcbd3"/>
<rect x="163.7" y="662.0" width="2.7" height="1.05" fill="#e3bdb5"/>
<rect x="163.7" y="663.0" width="2.7" height="1.05" fill="#e7c1b9"/>
<rect x="163.7" y="664.0" width="2.7" height="1.05" fill="#ecc6be"/>
<rect x="163.7" y="665.0" width="2.7" height="1.05" fill="#e3d3db"/>
<rect x="163.7" y="666.0" width="2.7" height="1.05" fill="#dcccd4"/>
<rect x="163.7" y="667.0" width="2.7" height="1.05" fill="#e2d2da"/>
<rect x="163.7" y="668.0" width="2.7" height="1.05" fill="#ddcdd5"/>
<rect x="163.7" y="669.0" width="2.7" height="1.05" fill="#e3bdb5"/>
<rect x="163.7" y="670.0" width="2.7" height="1.05" fill="#dacad2"/>
<rect x="163.7" y="671.0" width="2.7" height="1.05" fill="#e5d5dd"/>
<rect x="163.7" y="672.0" width="2.7" height="1.05" fill="#dbcbd3"/>
<rect x="163.7" y="673.0" width="2.7" height="1.05" fill="#e2d2da"/>
<rect x="163.7" y="674.0" width="2.7" height="1.05" fill="#e5d5dd"/>
<rect x="163.7" y="675.0" width="2.7" height="1.05" fill="#e5d5dd"/>
<rect x="163.7" y="676.0" width="2.7" height="1.05" fill="#e4d4dc"/>
<rect x="163.7" y="677.0" width="2.7" height="1.05" fill="#d9c9d1"/>
<rect x="163.7" y="678.0" width="2.7" height="1.05" fill="#e1d1d9"/>
<rect x="163.7" y="679.0" width="2.7" height="1.05" fill="#dacad2"/>
<rect x="163.7" y="680.0" width="2.7" height="1.05" fill="#edc7bf"/>
<rect x="163.7" y="681.0" width="2.7" height="1.05" fill="#ecc6be"/>
<rect x="163.7" y="682.0" width="2.7" height="1.05" fill="#e5d5dd"/>
<rect x="163.7" y="683.0" width="2.7" height="1.05" fill="#e0d0d8"/>
<rect x="163.7" y="684.0" width="2.7" height="1.05" fill="#d9c9d1"/>
<rect x="163.7" y="685.0" width="2.7" height="1.05" fill="#dcccd4"/>
<rect x="163.7" y="686.0" width="2.7" height="1.05" fill="#dacad2"/>
<rect x="163.7" y="687.0" width="2.7" height="1.05" fill="#e9c3bb"/>
<rect x="163.7" y="688.0" width="2.7" height="1.05" fill="#edc7bf"/>
<rect x="163.7" y="689.0" width="2.7" height="1.05" fill="#e5d5dd"/>
<rect x="163.7" y="690.0" width="2.7" height="1.05" fill="#e4beb6"/>
<rect x="163.7" y="691.0" width="2.7" height="1.05" fill="#e4d4dc"/>
<rect x="163.7" y="692.0" width="2.7" height="1.05" fill="#ecc6be"/>
<rect x="163.7" y="693.0" width="2.7" height="1.05" fill="#e1d1d9"/>
<rect x="163.7" y="694.0" width="2.7" height="1.05" fill="#dcccd4"/>
<rect x="163.7" y="695.0" width="2.7" height="1.05" fill="#e3d3db"/>
<rect x="163.7" y="696.0" width="2.7" height="1.05" fill="#e5d5dd"/>
<rect x="163.7" y="697.0" width="2.7" height="1.05" fill="#e6d6de"/>
<rect x="163.7" y="698.0" width="2.7" height="1.05" fill="#e4d4dc"/>
<rect x="163.7" y="699.0" width="2.7" height="1.05" fill="#eec8c0"/>
<rect x="163.7" y="700.0" width="2.7" height="1.05" fill="#e2d2da"/>
<rect x="163.7" y="701.0" width="2.7" height="1.05" fill="#e4d4dc"/>
<rect x="163.7" y="702.0" width="2.7" height="1.05" fill="#e5d5dd"/>
<rect x="163.7" y="703.0" width="2.7" height="1.05" fill="#d9c9d1"/>
<rect x="163.7" y="704.0" width="2.7" height="0.25" fill="#e5bfb7"/>
<rect x="166.8" y="507.8" width="29.5" height="1.05" fill="#aacee4"/>
<rect x="166.8" y="508.8" width="29.5" height="1.05" fill="#aacee4"/>
<rect x="166.8" y="509.8" width="29.5" height="1.05" fill="#b4d8ee"/>
<rect x="166.8" y="510.8" width="29.5" height="1.05" fill="#b2d6ec"/>
<rect x="166.8" y="511.8" width="29.5" height="1.05" fill="#8fc1e3"/>
<rect x="166.8" y="512.8" width="29.5" height="1.05" fill="#aacee4"/>
<rect x="166.8" y="513.8" width="29.5" height="1.05" fill="#aed2e8"/>
<rect x="166.8" y="514.8" width="29.5" height="1.05" fill="#b1d5eb"/>
<rect x="166.8" y="515.8" width="29.5" height="1.05" fill="#afd3e9"/>
<rect x="166.8" y="516.8" width="29.5" height="1.05" fill="#afd3e9"/>
<rect x="166.8" y="517.8" width="29.5" height="1.05" fill="#aacee4"/>
<rect x="166.8" y="518.8" width="29.5" height="1.05" fill="#a9cde3"/>
<rect x="166.8" y="519.8" width="29.5" height="1.05" fill="#b4d8ee"/>
<rect x="166.8" y="520.8" width="29.5" height="1.05" fill="#b4d8ee"/>
<rect x="166.8" y="521.8" width="29.5" height="1.05" fill="#b4d8ee"/>
<rect x="166.8" y="522.8" width="29.5" height="1.05" fill="#b1d5eb"/>
<rect x="166.8" y="523.8" width="29.5" height="1.05" fill="#a9cde3"/>
<rect x="166.8" y="524.8" width="29.5" height="1.05" fill="#afd3e9"/>
<rect x="166.8" y="525.8" width="29.5" height="1.05" fill="#b0d4ea"/>
<rect x="166.8" y="526.8" width="29.5" height="1.05" fill="#90c2e4"/>
<rect x="166.8" y="527.8" width="29.5" height="1.05" fill="#87b9db"/>
<rect x="166.8" y="528.8" width="29.5" height="1.05" fill="#afd3e9"/>
<rect x="166.8" y="529.8" width="29.5" height="1.05" fill="#85b7d9"/>
<rect x="166.8" y="530.8" width="29.5" height="1.05" fill="#b4d8ee"/>
<rect x="166.8" y="531.8" width="29.5" height="1.05" fill="#b0d4ea"/>
<rect x="166.8" y="532.8" width="29.5" height="1.05" fill="#acd0e6"/>
<rect x="166.8" y="533.8" width="29.5" height="1.05" fill="#aed2e8"/>
<rect x="166.8" y="534.8" width="29.5" height="1.05" fill="#8cbee0"/>
<rect x="166.8" y="535.8" width="29.5" height="1.05" fill="#89bbdd"/>
<rect x="166.8" y="536.8" width="29.5" height="1.05" fill="#afd3e9"/>
<rect x="166.8" y="537.8" width="29.5" height="1.05" fill="#b3d7ed"/>
<rect x="166.8" y="538.8" width="29.5" height="1.05" fill="#b4d8ee"/>
<rect x="166.8" y="539.8" width="29.5" height="1.05" fill="#aacee4"/>
<rect x="166.8" y="540.8" width="29.5" height="1.05" fill="#a8cce2"/>
<rect x="166.8" y="541.8" width="29.5" height="1.05" fill="#b2d6ec"/>
<rect x="166.8" y="542.8" width="29.5" height="1.05" fill="#b3d7ed"/>
<rect x="166.8" y="543.8" width="29.5" height="1.05" fill="#a8cce2"/>
<rect x="166.8" y="544.8" width="29.5" height="1.05" fill="#add1e7"/>
<rect x="166.8" y="545.8" width="29.5" height="1.05" fill="#abcfe5"/>
<rect x="166.8" y="546.8" width="29.5" height="0.25" fill="#afd3e9"/>
<rect x="166.8" y="547.0" width="29.5" height="1.05" fill="#90c2e4"/>
<rect x="166.8" y="548.0" width="29.5" height="1.05" fill="#8dbfe1"/>
<rect x="166.8" y="549.0" width="29.5" height="1.05" fill="#85b7d9"/>
<rect x="166.8" y="550.0" width="29.5" height="1.05" fill="#bcd8e8"/>
<rect x="166.8" y="551.0" width="29.5" height="1.05" fill="#bad6e6"/>
<rect x="166.8" y="552.0" width="29.5" height="1.05" fill="#ebc5bd"/>
<rect x="166.8" y="553.0" width="29.5" height="1.05" fill="#b5d1e1"/>
<rect x="166.8" y="554.0" width="29.5" height="1.05" fill="#e6c0b8"/>
<rect x="166.8" y="555.0" width="29.5" height="1.05" fill="#b7d3e3"/>
<rect x="166.8" y="556.0" width="29.5" height="1.05" fill="#b7d3e3"/>
<rect x="166.8" y="557.0" width="29.5" height="1.05" fill="#bedaea"/>
<rect x="166.8" y="558.0" width="29.5" height="1.05" fill="#bedaea"/>
<rect x="166.8" y="559.0" width="29.5" height="1.05" fill="#ecc6be"/>
<rect x="166.8" y="560.0" width="29.5" height="1.05" fill="#bdd9e9"/>
<rect x="166.8" y="561.0" width="29.5" height="1.05" fill="#bdd9e9"/>
<rect x="166.8" y="562.0" width="29.5" height="1.05" fill="#bdd9e9"/>
<rect x="166.8" y="563.0" width="29.5" height="1.05" fill="#bfdbeb"/>
<rect x="166.8" y="564.0" width="29.5" height="1.05" fill="#bedaea"/>
<rect x="166.8" y="565.0" width="29.5" height="1.05" fill="#e1bbb3"/>
<rect x="166.8" y="566.0" width="29.5" height="1.05" fill="#c2deee"/>
<rect x="166.8" y="567.0" width="29.5" height="1.05" fill="#c0dcec"/>
<rect x="166.8" y="568.0" width="29.5" height="0.75" fill="#b5d1e1"/>
<rect x="166.8" y="568.7" width="29.5" height="1.05" fill="#d59591"/>
<rect x="166.8" y="569.7" width="29.5" height="1.05" fill="#e1b1a9"/>
<rect x="166.8" y="570.7" width="29.5" height="1.05" fill="#e9b9b1"/>
<rect x="166.8" y="571.7" width="29.5" height="1.05" fill="#da9a96"/>
<rect x="166.8" y="572.7" width="29.5" height="1.05" fill="#df9f9b"/>
<rect x="166.8" y="573.7" width="29.5" height="1.05" fill="#d69692"/>
<rect x="166.8" y="574.7" width="29.5" height="0.35" fill="#e1a19d"/>
<rect x="166.8" y="575.0" width="29.5" height="1.05" fill="#d9e5ed"/>
<rect x="166.8" y="576.0" width="29.5" height="1.05" fill="#dce8f0"/>
<rect x="166.8" y="577.0" width="29.5" height="1.05" fill="#e2eef6"/>
<rect x="166.8" y="578.0" width="29.5" height="1.05" fill="#dbe7ef"/>
<rect x="166.8" y="579.0" width="29.5" height="1.05" fill="#d8e4ec"/>
<rect x="166.8" y="580.0" width="29.5" height="1.05" fill="#e0ecf4"/>
<rect x="166.8" y="581.0" width="29.5" height="1.05" fill="#e1edf5"/>
<rect x="166.8" y="582.0" width="29.5" height="1.05" fill="#e6a292"/>
<rect x="166.8" y="583.0" width="29.5" height="1.05" fill="#e29e8e"/>
<rect x="166.8" y="584.0" width="29.5" height="1.05" fill="#e7a393"/>
<rect x="166.8" y="585.0" width="29.5" height="1.05" fill="#e39f8f"/>
<rect x="166.8" y="586.0" width="29.5" height="1.05" fill="#eda999"/>
<rect x="166.8" y="587.0" width="29.5" height="0.45" fill="#e8a494"/>
<rect x="166.8" y="587.4" width="29.5" height="1.05" fill="#d8e6f0"/>
<rect x="166.8" y="588.4" width="29.5" height="1.05" fill="#d6e4ee"/>
<rect x="166.8" y="589.4" width="29.5" height="1.05" fill="#dceaf4"/>
<rect x="166.8" y="590.4" width="29.5" height="1.05" fill="#c6ddec"/>
<rect x="166.8" y="591.4" width="29.5" height="1.05" fill="#ddebf5"/>
<rect x="166.8" y="592.4" width="29.5" height="1.05" fill="#d3e1eb"/>
<rect x="166.8" y="593.4" width="29.5" height="1.05" fill="#dceaf4"/>
<rect x="166.8" y="594.4" width="29.5" height="1.05" fill="#d2e0ea"/>
<rect x="166.8" y="595.4" width="29.5" height="1.05" fill="#c1d8e7"/>
<rect x="166.8" y="596.4" width="29.5" height="1.05" fill="#deecf6"/>
<rect x="166.8" y="597.4" width="29.5" height="1.05" fill="#dbe9f3"/>
<rect x="166.8" y="598.4" width="29.5" height="1.05" fill="#dceaf4"/>
<rect x="166.8" y="599.4" width="29.5" height="1.05" fill="#d1dfe9"/>
<rect x="166.8" y="600.4" width="29.5" height="1.05" fill="#deecf6"/>
<rect x="166.8" y="601.4" width="29.5" height="1.05" fill="#d7e5ef"/>
<rect x="166.8" y="602.4" width="29.5" height="1.05" fill="#c3dae9"/>
<rect x="166.8" y="603.4" width="29.5" height="1.05" fill="#dbe9f3"/>
<rect x="166.8" y="604.4" width="29.5" height="1.05" fill="#deecf6"/>
<rect x="166.8" y="605.4" width="29.5" height="1.05" fill="#cbe2f1"/>
<rect x="166.8" y="606.4" width="29.5" height="1.05" fill="#d3e1eb"/>
<rect x="166.8" y="607.4" width="29.5" height="1.05" fill="#d9e7f1"/>
<rect x="166.8" y="608.4" width="29.5" height="1.05" fill="#d8e6f0"/>
<rect x="166.8" y="609.4" width="29.5" height="1.05" fill="#d3e1eb"/>
<rect x="166.8" y="610.4" width="29.5" height="1.05" fill="#c4dbea"/>
<rect x="166.8" y="611.4" width="29.5" height="1.05" fill="#deecf6"/>
<rect x="166.8" y="612.4" width="29.5" height="1.05" fill="#dae8f2"/>
<rect x="166.8" y="613.4" width="29.5" height="1.05" fill="#d3e1eb"/>
<rect x="166.8" y="614.4" width="29.5" height="1.05" fill="#dceaf4"/>
<rect x="166.8" y="615.4" width="29.5" height="1.05" fill="#ddebf5"/>
<rect x="166.8" y="616.4" width="29.5" height="1.05" fill="#ddebf5"/>
<rect x="166.8" y="617.4" width="29.5" height="1.05" fill="#d7e5ef"/>
<rect x="166.8" y="618.4" width="29.5" height="1.05" fill="#d3e1eb"/>
<rect x="166.8" y="619.4" width="29.5" height="0.65" fill="#d6e4ee"/>
<rect x="166.8" y="620.0" width="29.5" height="1.05" fill="#dcb0a8"/>
<rect x="166.8" y="621.0" width="29.5" height="1.05" fill="#ddb1a9"/>
<rect x="166.8" y="622.0" width="29.5" height="1.05" fill="#d6e2ea"/>
<rect x="166.8" y="623.0" width="29.5" height="1.05" fill="#e4b8b0"/>
<rect x="166.8" y="624.0" width="29.5" height="1.05" fill="#dcb0a8"/>
<rect x="166.8" y="625.0" width="29.5" height="1.05" fill="#d6e2ea"/>
<rect x="166.8" y="626.0" width="29.5" height="1.05" fill="#d9ada5"/>
<rect x="166.8" y="627.0" width="29.5" height="1.05" fill="#e5b9b1"/>
<rect x="166.8" y="628.0" width="29.5" height="1.05" fill="#dcb0a8"/>
<rect x="166.8" y="629.0" width="29.5" height="1.05" fill="#e2bcb4"/>
<rect x="166.8" y="630.0" width="29.5" height="1.05" fill="#deeaf2"/>
<rect x="166.8" y="631.0" width="29.5" height="1.05" fill="#dce8f0"/>
<rect x="166.8" y="632.0" width="29.5" height="1.05" fill="#dde9f1"/>
<rect x="166.8" y="633.0" width="29.5" height="1.05" fill="#e7c1b9"/>
<rect x="166.8" y="634.0" width="29.5" height="1.05" fill="#dde9f1"/>
<rect x="166.8" y="635.0" width="29.5" height="1.05" fill="#e1bbb3"/>
<rect x="166.8" y="636.0" width="29.5" height="1.05" fill="#dae6ee"/>
<rect x="166.8" y="637.0" width="29.5" height="1.05" fill="#d8e4ec"/>
<rect x="166.8" y="638.0" width="29.5" height="1.05" fill="#e4beb6"/>
<rect x="166.8" y="639.0" width="29.5" height="1.05" fill="#e5bfb7"/>
<rect x="166.8" y="640.0" width="29.5" height="1.05" fill="#d6e2ea"/>
<rect x="166.8" y="641.0" width="29.5" height="1.05" fill="#d8e4ec"/>
<rect x="166.8" y="642.0" width="29.5" height="0.45" fill="#e6c0b8"/>
<rect x="166.8" y="642.4" width="29.5" height="1.05" fill="#d2726e"/>
<rect x="166.8" y="643.4" width="29.5" height="1.05" fill="#db837b"/>
<rect x="166.8" y="644.4" width="29.5" height="1.05" fill="#c96965"/>
<rect x="166.8" y="645.4" width="29.5" height="1.05" fill="#c86864"/>
<rect x="166.8" y="646.4" width="29.5" height="1.05" fill="#c76763"/>
<rect x="166.8" y="647.4" width="29.5" height="1.05" fill="#cf6f6b"/>
<rect x="166.8" y="648.4" width="29.5" height="1.05" fill="#d77f77"/>
<rect x="166.8" y="649.4" width="29.5" height="1.05" fill="#cd6d69"/>
<rect x="166.8" y="650.4" width="29.5" height="1.05" fill="#d17971"/>
<rect x="166.8" y="651.4" width="29.5" height="1.05" fill="#d77f77"/>
<rect x="166.8" y="652.4" width="29.5" height="1.05" fill="#d2726e"/>
<rect x="166.8" y="653.4" width="29.5" height="1.05" fill="#d57d75"/>
<rect x="166.8" y="654.4" width="29.5" height="1.05" fill="#cb6b67"/>
<rect x="166.8" y="655.4" width="29.5" height="1.05" fill="#ca6a66"/>
<rect x="166.8" y="656.4" width="29.5" height="1.05" fill="#cd6d69"/>
<rect x="166.8" y="657.4" width="29.5" height="1.05" fill="#cf6f6b"/>
<rect x="166.8" y="658.4" width="29.5" height="1.05" fill="#c96965"/>
<rect x="166.8" y="659.4" width="29.5" height="0.65" fill="#d77f77"/>
<rect x="166.8" y="660.0" width="29.5" height="1.05" fill="#cc9cac"/>
<rect x="166.8" y="661.0" width="29.5" height="1.05" fill="#cf9faf"/>
<rect x="166.8" y="662.0" width="29.5" height="1.05" fill="#d6a6b6"/>
<rect x="166.8" y="663.0" width="29.5" height="1.05" fill="#cb9bab"/>
<rect x="166.8" y="664.0" width="29.5" height="0.25" fill="#cb9bab"/>
<rect x="166.8" y="664.2" width="29.5" height="1.05" fill="#f19575"/>
<rect x="166.8" y="665.2" width="29.5" height="0.85" fill="#ef9373"/>
<rect x="166.8" y="666.0" width="29.5" height="1.05" fill="#daaaba"/>
<rect x="166.8" y="667.0" width="29.5" height="1.05" fill="#ca8696"/>
<rect x="166.8" y="668.0" width="29.5" height="1.05" fill="#c88494"/>
<rect x="166.8" y="669.0" width="29.5" height="1.05" fill="#d9a9b9"/>
<rect x="166.8" y="670.0" width="29.5" height="1.05" fill="#d8a8b8"/>
<rect x="166.8" y="671.0" width="29.5" height="1.05" fill="#d3a3b3"/>
<rect x="166.8" y="672.0" width="29.5" height="1.05" fill="#dcacbc"/>
<rect x="166.8" y="673.0" width="29.5" height="1.05" fill="#d3a3b3"/>
<rect x="166.8" y="674.0" width="29.5" height="1.05" fill="#d8a8b8"/>
<rect x="166.8" y="675.0" width="29.5" height="1.05" fill="#d5a5b5"/>
<rect x="166.8" y="676.0" width="29.5" height="1.05" fill="#d4a4b4"/>
<rect x="166.8" y="677.0" width="29.5" height="1.05" fill="#d9a9b9"/>
<rect x="166.8" y="678.0" width="29.5" height="1.05" fill="#d9a9b9"/>
<rect x="166.8" y="679.0" width="29.5" height="1.05" fill="#deaebe"/>
<rect x="166.8" y="680.0" width="29.5" height="1.05" fill="#c68292"/>
<rect x="166.8" y="681.0" width="29.5" height="1.05" fill="#c98595"/>
<rect x="166.8" y="682.0" width="29.5" height="1.05" fill="#ddadbd"/>
<rect x="166.8" y="683.0" width="29.5" height="1.05" fill="#d08c9c"/>
<rect x="166.8" y="684.0" width="29.5" height="1.05" fill="#e6c6ce"/>
<rect x="166.8" y="685.0" width="29.5" height="1.05" fill="#e2c2ca"/>
<rect x="166.8" y="686.0" width="29.5" height="1.05" fill="#e5c5cd"/>
<rect x="166.8" y="687.0" width="29.5" height="1.05" fill="#cd858d"/>
<rect x="166.8" y="688.0" width="29.5" height="1.05" fill="#e0c0c8"/>
<rect x="166.8" y="689.0" width="29.5" height="1.05" fill="#ddbdc5"/>
<rect x="166.8" y="690.0" width="29.5" height="1.05" fill="#d48c94"/>
<rect x="166.8" y="691.0" width="29.5" height="1.05" fill="#e0c0c8"/>
<rect x="166.8" y="692.0" width="29.5" height="1.05" fill="#dbbbc3"/>
<rect x="166.8" y="693.0" width="29.5" height="1.05" fill="#ca828a"/>
<rect x="166.8" y="694.0" width="29.5" height="1.05" fill="#d18991"/>
<rect x="166.8" y="695.0" width="29.5" height="1.05" fill="#dbbbc3"/>
<rect x="166.8" y="696.0" width="29.5" height="1.05" fill="#dfbfc7"/>
<rect x="166.8" y="697.0" width="29.5" height="1.05" fill="#dabac2"/>
<rect x="166.8" y="698.0" width="29.5" height="1.05" fill="#cf878f"/>
<rect x="166.8" y="699.0" width="29.5" height="1.05" fill="#e3c3cb"/>
<rect x="166.8" y="700.0" width="29.5" height="1.05" fill="#dfbfc7"/>
<rect x="166.8" y="701.0" width="29.5" height="1.05" fill="#dfbfc7"/>
<rect x="166.8" y="702.0" width="29.5" height="1.05" fill="#dcbcc4"/>
<rect x="166.8" y="703.0" width="29.5" height="1.05" fill="#ca828a"/>
<rect x="166.8" y="704.0" width="29.5" height="0.25" fill="#e4c4cc"/>
<rect x="196.7" y="507.8" width="7.2" height="1.05" fill="#a8d0e8"/>
<rect x="196.7" y="508.8" width="7.2" height="1.05" fill="#abd3eb"/>
<rect x="196.7" y="509.8" width="7.2" height="1.05" fill="#abd3eb"/>
<rect x="196.7" y="510.8" width="7.2" height="1.05" fill="#acd4ec"/>
<rect x="196.7" y="511.8" width="7.2" height="1.05" fill="#a9d1e9"/>
<rect x="196.7" y="512.8" width="7.2" height="1.05" fill="#abd3eb"/>
<rect x="196.7" y="513.8" width="7.2" height="1.05" fill="#a9d1e9"/>
<rect x="196.7" y="514.8" width="7.2" height="1.05" fill="#acd4ec"/>
<rect x="196.7" y="515.8" width="7.2" height="1.05" fill="#87b9db"/>
<rect x="196.7" y="516.8" width="7.2" height="1.05" fill="#92c4e6"/>
<rect x="196.7" y="517.8" width="7.2" height="1.05" fill="#a3cbe3"/>
<rect x="196.7" y="518.8" width="7.2" height="1.05" fill="#92c4e6"/>
<rect x="196.7" y="519.8" width="7.2" height="1.05" fill="#abd3eb"/>
<rect x="196.7" y="520.8" width="7.2" height="1.05" fill="#88badc"/>
<rect x="196.7" y="521.8" width="7.2" height="1.05" fill="#89bbdd"/>
<rect x="196.7" y="522.8" width="7.2" height="1.05" fill="#8cbee0"/>
<rect x="196.7" y="523.8" width="7.2" height="1.05" fill="#a2cae2"/>
<rect x="196.7" y="524.8" width="7.2" height="1.05" fill="#aad2ea"/>
<rect x="196.7" y="525.8" width="7.2" height="1.05" fill="#a1c9e1"/>
<rect x="196.7" y="526.8" width="7.2" height="1.05" fill="#a4cce4"/>
<rect x="196.7" y="527.8" width="7.2" height="1.05" fill="#8fc1e3"/>
<rect x="196.7" y="528.8" width="7.2" height="1.05" fill="#8fc1e3"/>
<rect x="196.7" y="529.8" width="7.2" height="1.05" fill="#a6cee6"/>
<rect x="196.7" y="530.8" width="7.2" height="1.05" fill="#90c2e4"/>
<rect x="196.7" y="531.8" width="7.2" height="1.05" fill="#90c2e4"/>
<rect x="196.7" y="532.8" width="7.2" height="1.05" fill="#abd3eb"/>
<rect x="196.7" y="533.8" width="7.2" height="1.05" fill="#8bbddf"/>
<rect x="196.7" y="534.8" width="7.2" height="1.05" fill="#a5cde5"/>
<rect x="196.7" y="535.8" width="7.2" height="1.05" fill="#a4cce4"/>
<rect x="196.7" y="536.8" width="7.2" height="1.05" fill="#a4cce4"/>
<rect x="196.7" y="537.8" width="7.2" height="1.05" fill="#a2cae2"/>
<rect x="196.7" y="538.8" width="7.2" height="1.05" fill="#a8d0e8"/>
<rect x="196.7" y="539.8" width="7.2" height="1.05" fill="#aed6ee"/>
<rect x="196.7" y="540.8" width="7.2" height="1.05" fill="#a4cce4"/>
<rect x="196.7" y="541.8" width="7.2" height="1.05" fill="#aed6ee"/>
<rect x="196.7" y="542.8" width="7.2" height="1.05" fill="#aad2ea"/>
<rect x="196.7" y="543.8" width="7.2" height="1.05" fill="#85b7d9"/>
<rect x="196.7" y="544.8" width="7.2" height="1.05" fill="#89bbdd"/>
<rect x="196.7" y="545.8" width="7.2" height="1.05" fill="#a6cee6"/>
<rect x="196.7" y="546.8" width="7.2" height="0.25" fill="#a5cde5"/>
<rect x="196.7" y="547.0" width="7.2" height="1.05" fill="#88badc"/>
<rect x="196.7" y="548.0" width="7.2" height="1.05" fill="#8bbddf"/>
<rect x="196.7" y="549.0" width="7.2" height="1.05" fill="#89bbdd"/>
<rect x="196.7" y="550.0" width="7.2" height="1.05" fill="#c4dbea"/>
<rect x="196.7" y="551.0" width="7.2" height="1.05" fill="#cae1f0"/>
<rect x="196.7" y="552.0" width="7.2" height="1.05" fill="#cae1f0"/>
<rect x="196.7" y="553.0" width="7.2" height="1.05" fill="#cbe2f1"/>
<rect x="196.7" y="554.0" width="7.2" height="1.05" fill="#c6ddec"/>
<rect x="196.7" y="555.0" width="7.2" height="1.05" fill="#c0d7e6"/>
<rect x="196.7" y="556.0" width="7.2" height="1.05" fill="#cbe2f1"/>
<rect x="196.7" y="557.0" width="7.2" height="1.05" fill="#c6ddec"/>
<rect x="196.7" y="558.0" width="7.2" height="1.05" fill="#c0d7e6"/>
<rect x="196.7" y="559.0" width="7.2" height="1.05" fill="#cce3f2"/>
<rect x="196.7" y="560.0" width="7.2" height="1.05" fill="#c7deed"/>
<rect x="196.7" y="561.0" width="7.2" height="1.05" fill="#c8dfee"/>
<rect x="196.7" y="562.0" width="7.2" height="1.05" fill="#c2d9e8"/>
<rect x="196.7" y="563.0" width="7.2" height="1.05" fill="#cbe2f1"/>
<rect x="196.7" y="564.0" width="7.2" height="1.05" fill="#c4dbea"/>
<rect x="196.7" y="565.0" width="7.2" height="1.05" fill="#cae1f0"/>
<rect x="196.7" y="566.0" width="7.2" height="1.05" fill="#c9e0ef"/>
<rect x="196.7" y="567.0" width="7.2" height="1.05" fill="#c1d8e7"/>
<rect x="196.7" y="568.0" width="7.2" height="1.05" fill="#eb9787"/>
<rect x="196.7" y="569.0" width="7.2" height="1.05" fill="#e18d7d"/>
<rect x="196.7" y="570.0" width="7.2" height="1.05" fill="#e59181"/>
<rect x="196.7" y="571.0" width="7.2" height="1.05" fill="#eb9787"/>
<rect x="196.7" y="572.0" width="7.2" height="1.05" fill="#e99585"/>
<rect x="196.7" y="573.0" width="7.2" height="1.05" fill="#e59181"/>
<rect x="196.7" y="574.0" width="7.2" height="1.05" fill="#e79383"/>
<rect x="196.7" y="575.0" width="7.2" height="1.05" fill="#deeaf2"/>
<rect x="196.7" y="576.0" width="7.2" height="1.05" fill="#d7e3eb"/>
<rect x="196.7" y="577.0" width="7.2" height="1.05" fill="#dfebf3"/>
<rect x="196.7" y="578.0" width="7.2" height="1.05" fill="#dbe7ef"/>
<rect x="196.7" y="579.0" width="7.2" height="1.05" fill="#d9e5ed"/>
<rect x="196.7" y="580.0" width="7.2" height="1.05" fill="#dce8f0"/>
<rect x="196.7" y="581.0" width="7.2" height="1.05" fill="#d6e2ea"/>
<rect x="196.7" y="582.0" width="7.2" height="1.05" fill="#9c2a42"/>
<rect x="196.7" y="583.0" width="7.2" height="1.05" fill="#a12f47"/>
<rect x="196.7" y="584.0" width="7.2" height="1.05" fill="#df8b77"/>
<rect x="196.7" y="585.0" width="7.2" height="1.05" fill="#ea9682"/>
<rect x="196.7" y="586.0" width="7.2" height="1.05" fill="#e5917d"/>
<rect x="196.7" y="587.0" width="7.2" height="0.45" fill="#e7937f"/>
<rect x="196.7" y="587.4" width="7.2" height="1.05" fill="#ecc6be"/>
<rect x="196.7" y="588.4" width="7.2" height="1.05" fill="#e0ecf4"/>
<rect x="196.7" y="589.4" width="7.2" height="1.05" fill="#e9c3bb"/>
<rect x="196.7" y="590.4" width="7.2" height="1.05" fill="#d7e3eb"/>
<rect x="196.7" y="591.4" width="7.2" height="1.05" fill="#dae6ee"/>
<rect x="196.7" y="592.4" width="7.2" height="1.05" fill="#e9c3bb"/>
<rect x="196.7" y="593.4" width="7.2" height="1.05" fill="#d7e3eb"/>
<rect x="196.7" y="594.4" width="7.2" height="1.05" fill="#deeaf2"/>
<rect x="196.7" y="595.4" width="7.2" height="1.05" fill="#edc7bf"/>
<rect x="196.7" y="596.4" width="7.2" height="1.05" fill="#dce8f0"/>
<rect x="196.7" y="597.4" width="7.2" height="1.05" fill="#e2bcb4"/>
<rect x="196.7" y="598.4" width="7.2" height="1.05" fill="#d7e3eb"/>
<rect x="196.7" y="599.4" width="7.2" height="1.05" fill="#d9e5ed"/>
<rect x="196.7" y="600.4" width="7.2" height="1.05" fill="#e0ecf4"/>
<rect x="196.7" y="601.4" width="7.2" height="1.05" fill="#e1bbb3"/>
<rect x="196.7" y="602.4" width="7.2" height="1.05" fill="#e0ecf4"/>
<rect x="196.7" y="603.4" width="7.2" height="1.05" fill="#e1edf5"/>
<rect x="196.7" y="604.4" width="7.2" height="1.05" fill="#e9c3bb"/>
<rect x="196.7" y="605.4" width="7.2" height="1.05" fill="#e8c2ba"/>
<rect x="196.7" y="606.4" width="7.2" height="1.05" fill="#d8e4ec"/>
<rect x="196.7" y="607.4" width="7.2" height="1.05" fill="#e5bfb7"/>
<rect x="196.7" y="608.4" width="7.2" height="1.05" fill="#e1edf5"/>
<rect x="196.7" y="609.4" width="7.2" height="1.05" fill="#e0ecf4"/>
<rect x="196.7" y="610.4" width="7.2" height="1.05" fill="#dce8f0"/>
<rect x="196.7" y="611.4" width="7.2" height="1.05" fill="#d7e3eb"/>
<rect x="196.7" y="612.4" width="7.2" height="1.05" fill="#dce8f0"/>
<rect x="196.7" y="613.4" width="7.2" height="1.05" fill="#d6e2ea"/>
<rect x="196.7" y="614.4" width="7.2" height="1.05" fill="#d6e2ea"/>
<rect x="196.7" y="615.4" width="7.2" height="1.05" fill="#d5e1e9"/>
<rect x="196.7" y="616.4" width="7.2" height="1.05" fill="#d7e3eb"/>
<rect x="196.7" y="617.4" width="7.2" height="1.05" fill="#e6c0b8"/>
<rect x="196.7" y="618.4" width="7.2" height="1.05" fill="#e7c1b9"/>
<rect x="196.7" y="619.4" width="7.2" height="1.05" fill="#e0ecf4"/>
<rect x="196.7" y="620.4" width="7.2" height="1.05" fill="#dce8f0"/>
<rect x="196.7" y="621.4" width="7.2" height="1.05" fill="#e2eef6"/>
<rect x="196.7" y="622.4" width="7.2" height="1.05" fill="#d5e1e9"/>
<rect x="196.7" y="623.4" width="7.2" height="1.05" fill="#e2eef6"/>
<rect x="196.7" y="624.4" width="7.2" height="1.05" fill="#e6c0b8"/>
<rect x="196.7" y="625.4" width="7.2" height="1.05" fill="#d8e4ec"/>
<rect x="196.7" y="626.4" width="7.2" height="1.05" fill="#e3bdb5"/>
<rect x="196.7" y="627.4" width="7.2" height="1.05" fill="#e4beb6"/>
<rect x="196.7" y="628.4" width="7.2" height="1.05" fill="#deeaf2"/>
<rect x="196.7" y="629.4" width="7.2" height="1.05" fill="#dce8f0"/>
<rect x="196.7" y="630.4" width="7.2" height="1.05" fill="#d8e4ec"/>
<rect x="196.7" y="631.4" width="7.2" height="1.05" fill="#dde9f1"/>
<rect x="196.7" y="632.4" width="7.2" height="1.05" fill="#e4beb6"/>
<rect x="196.7" y="633.4" width="7.2" height="1.05" fill="#dce8f0"/>
<rect x="196.7" y="634.4" width="7.2" height="1.05" fill="#dbe7ef"/>
<rect x="196.7" y="635.4" width="7.2" height="1.05" fill="#e3bdb5"/>
<rect x="196.7" y="636.4" width="7.2" height="1.05" fill="#dbe7ef"/>
<rect x="196.7" y="637.4" width="7.2" height="1.05" fill="#dbe7ef"/>
<rect x="196.7" y="638.4" width="7.2" height="1.05" fill="#dae6ee"/>
<rect x="196.7" y="639.4" width="7.2" height="1.05" fill="#eec8c0"/>
<rect x="196.7" y="640.4" width="7.2" height="1.05" fill="#e4beb6"/>
<rect x="196.7" y="641.4" width="7.2" height="1.05" fill="#e2eef6"/>
<rect x="196.7" y="642.4" width="7.2" height="1.05" fill="#e28e7e"/>
<rect x="196.7" y="643.4" width="7.2" height="1.05" fill="#ee9a8a"/>
<rect x="196.7" y="644.4" width="7.2" height="1.05" fill="#e79383"/>
<rect x="196.7" y="645.4" width="7.2" height="1.05" fill="#ed9989"/>
<rect x="196.7" y="646.4" width="7.2" height="1.05" fill="#ea9686"/>
<rect x="196.7" y="647.4" width="7.2" height="1.05" fill="#e89484"/>
<rect x="196.7" y="648.4" width="7.2" height="1.05" fill="#e38f7f"/>
<rect x="196.7" y="649.4" width="7.2" height="1.05" fill="#e38f7f"/>
<rect x="196.7" y="650.4" width="7.2" height="0.65" fill="#e18d7d"/>
<rect x="196.7" y="651.0" width="7.2" height="1.05" fill="#f5e7e7"/>
<rect x="196.7" y="652.0" width="7.2" height="1.05" fill="#f4e6e6"/>
<rect x="196.7" y="653.0" width="7.2" height="1.05" fill="#efe1e1"/>
<rect x="196.7" y="654.0" width="7.2" height="1.05" fill="#f4e6e6"/>
<rect x="196.7" y="655.0" width="7.2" height="1.05" fill="#f0e2e2"/>
<rect x="196.7" y="656.0" width="7.2" height="1.05" fill="#f4e6e6"/>
<rect x="196.7" y="657.0" width="7.2" height="1.05" fill="#e9dbdb"/>
<rect x="196.7" y="658.0" width="7.2" height="1.05" fill="#f5e7e7"/>
<rect x="196.7" y="659.0" width="7.2" height="1.05" fill="#f1e3e3"/>
<rect x="196.7" y="660.0" width="7.2" height="1.05" fill="#d8e4ec"/>
<rect x="196.7" y="661.0" width="7.2" height="1.05" fill="#d6e2ea"/>
<rect x="196.7" y="662.0" width="7.2" height="0.45" fill="#dde9f1"/>
<rect x="196.7" y="662.4" width="7.2" height="1.05" fill="#a12f47"/>
<rect x="196.7" y="663.4" width="7.2" height="0.85" fill="#9a2840"/>
<rect x="196.7" y="664.2" width="7.2" height="1.05" fill="#dfebf3"/>
<rect x="196.7" y="665.2" width="7.2" height="1.05" fill="#dde9f1"/>
<rect x="196.7" y="666.2" width="7.2" height="1.05" fill="#dfebf3"/>
<rect x="196.7" y="667.2" width="7.2" height="1.05" fill="#d8e4ec"/>
<rect x="196.7" y="668.2" width="7.2" height="1.05" fill="#deeaf2"/>
<rect x="196.7" y="669.2" width="7.2" height="0.25" fill="#e1edf5"/>
<rect x="196.7" y="669.4" width="7.2" height="1.05" fill="#a02848"/>
<rect x="196.7" y="670.4" width="7.2" height="1.05" fill="#a12949"/>
<rect x="196.7" y="671.4" width="7.2" height="1.05" fill="#a22a4a"/>
<rect x="196.7" y="672.4" width="7.2" height="1.05" fill="#a02848"/>
<rect x="196.7" y="673.4" width="7.2" height="1.05" fill="#a22a4a"/>
<rect x="196.7" y="674.4" width="7.2" height="1.05" fill="#a62e4e"/>
<rect x="196.7" y="675.4" width="7.2" height="1.05" fill="#a52d4d"/>
<rect x="196.7" y="676.4" width="7.2" height="1.05" fill="#a02848"/>
<rect x="196.7" y="677.4" width="7.2" height="1.05" fill="#a52d4d"/>
<rect x="196.7" y="678.4" width="7.2" height="1.05" fill="#9c2444"/>
<rect x="196.7" y="679.4" width="7.2" height="1.05" fill="#9c2444"/>
<rect x="196.7" y="680.4" width="7.2" height="1.05" fill="#9d2545"/>
<rect x="196.7" y="681.4" width="7.2" height="1.05" fill="#9e2646"/>
<rect x="196.7" y="682.4" width="7.2" height="1.05" fill="#ce7e8e"/>
<rect x="196.7" y="683.4" width="7.2" height="1.05" fill="#c67686"/>
<rect x="196.7" y="684.4" width="7.2" height="1.05" fill="#cb7b8b"/>
<rect x="196.7" y="685.4" width="7.2" height="1.05" fill="#c67686"/>
<rect x="196.7" y="686.4" width="7.2" height="1.05" fill="#bb637b"/>
<rect x="196.7" y="687.4" width="7.2" height="1.05" fill="#c57585"/>
<rect x="196.7" y="688.4" width="7.2" height="1.05" fill="#c17181"/>
<rect x="196.7" y="689.4" width="7.2" height="1.05" fill="#cd7d8d"/>
<rect x="196.7" y="690.4" width="7.2" height="1.05" fill="#c27282"/>
<rect x="196.7" y="691.4" width="7.2" height="1.05" fill="#cb7b8b"/>
<rect x="196.7" y="692.4" width="7.2" height="1.05" fill="#b96179"/>
<rect x="196.7" y="693.4" width="7.2" height="1.05" fill="#b45c74"/>
<rect x="196.7" y="694.4" width="7.2" height="1.05" fill="#b45c74"/>
<rect x="196.7" y="695.4" width="7.2" height="1.05" fill="#c97989"/>
<rect x="196.7" y="696.4" width="7.2" height="1.05" fill="#ce7e8e"/>
<rect x="196.7" y="697.4" width="7.2" height="1.05" fill="#bc647c"/>
<rect x="196.7" y="698.4" width="7.2" height="1.05" fill="#ca7a8a"/>
<rect x="196.7" y="699.4" width="7.2" height="1.05" fill="#b35b73"/>
<rect x="196.7" y="700.4" width="7.2" height="1.05" fill="#b65e76"/>
<rect x="196.7" y="701.4" width="7.2" height="1.05" fill="#ba627a"/>
<rect x="196.7" y="702.4" width="7.2" height="1.05" fill="#c47484"/>
<rect x="196.7" y="703.4" width="7.2" height="0.85" fill="#b75f77"/>
</g>
<pattern id="spk" width="41" height="31" patternUnits="userSpaceOnUse"><rect x="28.7" y="20.0" width="0.6" height="1.5" fill="#fff" fill-opacity="0.48"/><rect x="17.9" y="22.4" width="0.6" height="1.0" fill="#fff" fill-opacity="0.30"/><rect x="15.2" y="21.5" width="0.6" height="1.0" fill="#fff" fill-opacity="0.41"/><rect x="3.0" y="17.9" width="0.6" height="1.4" fill="#8c2a5a" fill-opacity="0.37"/><rect x="2.1" y="29.0" width="0.6" height="1.6" fill="#8c2a5a" fill-opacity="0.40"/><rect x="9.0" y="8.7" width="0.6" height="1.5" fill="#8c2a5a" fill-opacity="0.34"/><rect x="39.0" y="24.2" width="0.6" height="1.4" fill="#8c2a5a" fill-opacity="0.24"/><rect x="13.3" y="12.8" width="0.6" height="1.0" fill="#fff" fill-opacity="0.42"/><rect x="22.9" y="23.8" width="0.6" height="1.1" fill="#8c2a5a" fill-opacity="0.29"/><rect x="18.6" y="21.9" width="0.6" height="0.9" fill="#8c2a5a" fill-opacity="0.16"/><rect x="16.7" y="25.5" width="0.6" height="1.3" fill="#fff" fill-opacity="0.53"/><rect x="33.2" y="8.8" width="0.6" height="1.2" fill="#8c2a5a" fill-opacity="0.21"/><rect x="24.1" y="2.4" width="0.6" height="1.3" fill="#8c2a5a" fill-opacity="0.21"/><rect x="6.0" y="22.5" width="0.6" height="1.5" fill="#8c2a5a" fill-opacity="0.30"/><rect x="35.9" y="16.0" width="0.6" height="0.9" fill="#8c2a5a" fill-opacity="0.16"/><rect x="38.5" y="6.6" width="0.6" height="1.5" fill="#8c2a5a" fill-opacity="0.28"/><rect x="23.5" y="27.6" width="0.6" height="0.9" fill="#fff" fill-opacity="0.33"/><rect x="26.5" y="20.4" width="0.6" height="0.9" fill="#8c2a5a" fill-opacity="0.28"/><rect x="2.4" y="24.1" width="0.6" height="0.8" fill="#fff" fill-opacity="0.42"/><rect x="23.9" y="2.7" width="0.6" height="1.4" fill="#8c2a5a" fill-opacity="0.26"/><rect x="29.4" y="7.0" width="0.6" height="1.3" fill="#fff" fill-opacity="0.42"/><rect x="0.4" y="10.7" width="0.6" height="1.1" fill="#8c2a5a" fill-opacity="0.19"/><rect x="9.9" y="9.2" width="0.6" height="1.0" fill="#8c2a5a" fill-opacity="0.28"/><rect x="5.4" y="16.8" width="0.6" height="1.3" fill="#fff" fill-opacity="0.54"/><rect x="4.4" y="19.8" width="0.6" height="1.5" fill="#8c2a5a" fill-opacity="0.27"/><rect x="29.2" y="23.3" width="0.6" height="0.8" fill="#8c2a5a" fill-opacity="0.35"/><rect x="33.1" y="13.0" width="0.6" height="0.7" fill="#8c2a5a" fill-opacity="0.35"/><rect x="28.1" y="11.2" width="0.6" height="1.4" fill="#fff" fill-opacity="0.25"/><rect x="30.1" y="29.3" width="0.6" height="1.5" fill="#fff" fill-opacity="0.38"/><rect x="24.5" y="3.4" width="0.6" height="1.3" fill="#fff" fill-opacity="0.37"/><rect x="2.0" y="5.4" width="0.6" height="1.5" fill="#8c2a5a" fill-opacity="0.27"/><rect x="35.0" y="5.6" width="0.6" height="0.9" fill="#8c2a5a" fill-opacity="0.22"/><rect x="32.1" y="11.1" width="0.6" height="1.3" fill="#8c2a5a" fill-opacity="0.26"/><rect x="35.5" y="20.9" width="0.6" height="1.1" fill="#fff" fill-opacity="0.37"/><rect x="18.3" y="29.6" width="0.6" height="1.2" fill="#fff" fill-opacity="0.40"/><rect x="2.9" y="25.7" width="0.6" height="1.1" fill="#fff" fill-opacity="0.30"/><rect x="19.0" y="21.3" width="0.6" height="0.9" fill="#8c2a5a" fill-opacity="0.28"/><rect x="20.0" y="0.2" width="0.6" height="1.0" fill="#8c2a5a" fill-opacity="0.33"/><rect x="15.4" y="0.5" width="0.6" height="0.9" fill="#8c2a5a" fill-opacity="0.34"/><rect x="9.2" y="29.4" width="0.6" height="0.9" fill="#8c2a5a" fill-opacity="0.15"/><rect x="19.9" y="15.5" width="0.6" height="1.3" fill="#fff" fill-opacity="0.41"/><rect x="2.1" y="27.8" width="0.6" height="0.9" fill="#8c2a5a" fill-opacity="0.19"/><rect x="23.7" y="19.6" width="0.6" height="0.9" fill="#8c2a5a" fill-opacity="0.15"/><rect x="24.0" y="21.4" width="0.6" height="0.9" fill="#8c2a5a" fill-opacity="0.34"/><rect x="28.7" y="4.1" width="0.6" height="1.3" fill="#fff" fill-opacity="0.46"/><rect x="13.0" y="29.0" width="0.6" height="1.3" fill="#8c2a5a" fill-opacity="0.40"/><rect x="33.7" y="5.3" width="0.6" height="0.9" fill="#8c2a5a" fill-opacity="0.18"/><rect x="35.8" y="16.3" width="0.6" height="1.0" fill="#8c2a5a" fill-opacity="0.27"/><rect x="17.7" y="21.8" width="0.6" height="1.5" fill="#8c2a5a" fill-opacity="0.36"/><rect x="35.1" y="22.5" width="0.6" height="1.1" fill="#8c2a5a" fill-opacity="0.36"/><rect x="14.4" y="17.2" width="0.6" height="1.4" fill="#8c2a5a" fill-opacity="0.23"/><rect x="14.6" y="24.5" width="0.6" height="0.7" fill="#8c2a5a" fill-opacity="0.26"/><rect x="18.0" y="3.4" width="0.6" height="1.4" fill="#8c2a5a" fill-opacity="0.37"/><rect x="37.3" y="23.8" width="0.6" height="1.0" fill="#8c2a5a" fill-opacity="0.26"/><rect x="1.1" y="23.4" width="0.6" height="1.4" fill="#8c2a5a" fill-opacity="0.32"/><rect x="10.8" y="10.3" width="0.6" height="0.9" fill="#8c2a5a" fill-opacity="0.15"/><rect x="17.0" y="6.8" width="0.6" height="1.4" fill="#8c2a5a" fill-opacity="0.34"/><rect x="16.6" y="0.7" width="0.6" height="0.9" fill="#fff" fill-opacity="0.28"/><rect x="30.4" y="27.2" width="0.6" height="1.2" fill="#8c2a5a" fill-opacity="0.37"/><rect x="21.0" y="10.5" width="0.6" height="0.7" fill="#8c2a5a" fill-opacity="0.37"/><rect x="32.8" y="5.4" width="0.6" height="0.9" fill="#fff" fill-opacity="0.47"/><rect x="15.2" y="20.9" width="0.6" height="0.8" fill="#fff" fill-opacity="0.42"/><rect x="26.4" y="1.4" width="0.6" height="0.9" fill="#8c2a5a" fill-opacity="0.33"/><rect x="39.5" y="13.4" width="0.6" height="1.3" fill="#fff" fill-opacity="0.33"/><rect x="18.0" y="25.4" width="0.6" height="1.2" fill="#8c2a5a" fill-opacity="0.33"/><rect x="6.0" y="13.8" width="0.6" height="1.2" fill="#fff" fill-opacity="0.46"/><rect x="11.0" y="14.2" width="0.6" height="0.8" fill="#8c2a5a" fill-opacity="0.35"/><rect x="38.8" y="16.8" width="0.6" height="1.0" fill="#8c2a5a" fill-opacity="0.26"/><rect x="15.0" y="8.1" width="0.6" height="1.0" fill="#fff" fill-opacity="0.31"/><rect x="26.6" y="0.2" width="0.6" height="1.2" fill="#8c2a5a" fill-opacity="0.35"/><rect x="12.2" y="1.6" width="0.6" height="0.7" fill="#fff" fill-opacity="0.38"/><rect x="20.7" y="29.6" width="0.6" height="0.9" fill="#8c2a5a" fill-opacity="0.22"/><rect x="15.2" y="4.4" width="0.6" height="1.2" fill="#fff" fill-opacity="0.47"/><rect x="11.2" y="20.0" width="0.6" height="0.9" fill="#fff" fill-opacity="0.54"/><rect x="11.5" y="21.5" width="0.6" height="1.1" fill="#fff" fill-opacity="0.53"/><rect x="16.0" y="13.1" width="0.6" height="1.2" fill="#fff" fill-opacity="0.27"/><rect x="6.1" y="16.0" width="0.6" height="0.8" fill="#8c2a5a" fill-opacity="0.35"/><rect x="13.2" y="27.1" width="0.6" height="0.9" fill="#8c2a5a" fill-opacity="0.26"/><rect x="33.4" y="27.1" width="0.6" height="0.9" fill="#fff" fill-opacity="0.41"/><rect x="10.6" y="10.8" width="0.6" height="0.7" fill="#8c2a5a" fill-opacity="0.38"/><rect x="31.0" y="7.3" width="0.6" height="0.7" fill="#fff" fill-opacity="0.50"/><rect x="24.8" y="21.6" width="0.6" height="1.1" fill="#8c2a5a" fill-opacity="0.35"/><rect x="12.9" y="2.3" width="0.6" height="1.5" fill="#8c2a5a" fill-opacity="0.22"/><rect x="2.6" y="17.0" width="0.6" height="1.1" fill="#8c2a5a" fill-opacity="0.34"/><rect x="9.4" y="12.7" width="0.6" height="1.5" fill="#fff" fill-opacity="0.51"/><rect x="1.5" y="29.2" width="0.6" height="0.8" fill="#fff" fill-opacity="0.55"/><rect x="5.0" y="29.5" width="0.6" height="0.8" fill="#8c2a5a" fill-opacity="0.27"/><rect x="24.6" y="17.6" width="0.6" height="0.8" fill="#fff" fill-opacity="0.47"/><rect x="13.0" y="28.6" width="0.6" height="1.3" fill="#fff" fill-opacity="0.29"/><rect x="36.9" y="8.7" width="0.6" height="1.1" fill="#8c2a5a" fill-opacity="0.35"/><rect x="13.0" y="14.1" width="0.6" height="0.9" fill="#fff" fill-opacity="0.29"/><rect x="16.4" y="21.4" width="0.6" height="0.9" fill="#fff" fill-opacity="0.45"/><rect x="33.8" y="21.1" width="0.6" height="0.7" fill="#8c2a5a" fill-opacity="0.40"/><rect x="28.7" y="8.2" width="0.6" height="1.2" fill="#fff" fill-opacity="0.44"/><rect x="14.5" y="20.0" width="0.6" height="1.0" fill="#8c2a5a" fill-opacity="0.23"/><rect x="29.8" y="25.8" width="0.6" height="0.8" fill="#8c2a5a" fill-opacity="0.21"/><rect x="30.5" y="10.7" width="0.6" height="1.5" fill="#8c2a5a" fill-opacity="0.26"/><rect x="2.7" y="22.4" width="0.6" height="1.5" fill="#fff" fill-opacity="0.50"/><rect x="33.3" y="26.5" width="0.6" height="1.4" fill="#8c2a5a" fill-opacity="0.27"/><rect x="26.3" y="6.5" width="0.6" height="0.8" fill="#fff" fill-opacity="0.51"/><rect x="7.2" y="17.1" width="0.6" height="1.4" fill="#fff" fill-opacity="0.51"/><rect x="17.2" y="2.1" width="0.6" height="1.0" fill="#fff" fill-opacity="0.51"/><rect x="16.6" y="13.2" width="0.6" height="1.2" fill="#fff" fill-opacity="0.48"/><rect x="23.7" y="5.0" width="0.6" height="0.8" fill="#fff" fill-opacity="0.51"/><rect x="7.1" y="10.9" width="0.6" height="1.0" fill="#fff" fill-opacity="0.52"/><rect x="32.0" y="10.0" width="0.6" height="1.4" fill="#8c2a5a" fill-opacity="0.28"/><rect x="25.7" y="10.1" width="0.6" height="1.2" fill="#fff" fill-opacity="0.52"/><rect x="14.2" y="24.0" width="0.6" height="1.0" fill="#8c2a5a" fill-opacity="0.21"/><rect x="37.5" y="2.9" width="0.6" height="1.1" fill="#8c2a5a" fill-opacity="0.33"/><rect x="26.7" y="3.6" width="0.6" height="1.3" fill="#8c2a5a" fill-opacity="0.19"/><rect x="4.9" y="24.7" width="0.6" height="0.8" fill="#8c2a5a" fill-opacity="0.20"/><rect x="33.7" y="10.5" width="0.6" height="1.2" fill="#8c2a5a" fill-opacity="0.37"/><rect x="1.6" y="5.8" width="0.6" height="1.3" fill="#8c2a5a" fill-opacity="0.18"/><rect x="17.6" y="17.1" width="0.6" height="1.0" fill="#8c2a5a" fill-opacity="0.17"/><rect x="36.8" y="0.3" width="0.6" height="1.3" fill="#8c2a5a" fill-opacity="0.21"/><rect x="23.2" y="10.2" width="0.6" height="1.2" fill="#fff" fill-opacity="0.36"/><rect x="7.3" y="14.4" width="0.6" height="1.3" fill="#fff" fill-opacity="0.46"/><rect x="20.9" y="28.0" width="0.6" height="1.2" fill="#8c2a5a" fill-opacity="0.39"/><rect x="31.9" y="14.2" width="0.6" height="1.4" fill="#fff" fill-opacity="0.34"/><rect x="16.2" y="22.7" width="0.6" height="1.0" fill="#8c2a5a" fill-opacity="0.28"/><rect x="3.1" y="7.8" width="0.6" height="0.9" fill="#fff" fill-opacity="0.49"/><rect x="0.2" y="9.2" width="0.6" height="1.0" fill="#fff" fill-opacity="0.53"/><rect x="38.7" y="8.9" width="0.6" height="1.5" fill="#8c2a5a" fill-opacity="0.35"/><rect x="21.0" y="1.8" width="0.6" height="1.3" fill="#8c2a5a" fill-opacity="0.32"/><rect x="18.8" y="10.0" width="0.6" height="1.0" fill="#8c2a5a" fill-opacity="0.25"/><rect x="24.7" y="12.4" width="0.6" height="0.9" fill="#8c2a5a" fill-opacity="0.32"/><rect x="37.8" y="5.5" width="0.6" height="1.3" fill="#fff" fill-opacity="0.32"/><rect x="5.5" y="25.1" width="0.6" height="0.8" fill="#8c2a5a" fill-opacity="0.17"/><rect x="32.9" y="11.4" width="0.6" height="1.0" fill="#8c2a5a" fill-opacity="0.28"/><rect x="19.2" y="4.4" width="0.6" height="1.3" fill="#fff" fill-opacity="0.33"/><rect x="12.9" y="7.6" width="0.6" height="1.2" fill="#8c2a5a" fill-opacity="0.22"/><rect x="26.7" y="25.1" width="0.6" height="1.0" fill="#8c2a5a" fill-opacity="0.24"/><rect x="19.2" y="1.4" width="0.6" height="1.0" fill="#8c2a5a" fill-opacity="0.18"/><rect x="33.7" y="20.9" width="0.6" height="0.8" fill="#8c2a5a" fill-opacity="0.33"/><rect x="15.3" y="26.5" width="0.6" height="0.9" fill="#fff" fill-opacity="0.48"/><rect x="23.9" y="10.6" width="0.6" height="1.0" fill="#fff" fill-opacity="0.29"/><rect x="1.8" y="18.4" width="0.6" height="0.8" fill="#8c2a5a" fill-opacity="0.16"/><rect x="31.2" y="8.4" width="0.6" height="1.5" fill="#fff" fill-opacity="0.50"/><rect x="9.1" y="28.3" width="0.6" height="1.5" fill="#fff" fill-opacity="0.52"/><rect x="12.9" y="11.3" width="0.6" height="1.0" fill="#fff" fill-opacity="0.28"/><rect x="1.5" y="16.7" width="0.6" height="1.6" fill="#8c2a5a" fill-opacity="0.15"/><rect x="16.1" y="21.4" width="0.6" height="1.4" fill="#fff" fill-opacity="0.44"/><rect x="35.2" y="29.0" width="0.6" height="1.2" fill="#fff" fill-opacity="0.37"/><rect x="21.4" y="6.6" width="0.6" height="1.2" fill="#8c2a5a" fill-opacity="0.26"/><rect x="15.7" y="2.6" width="0.6" height="1.0" fill="#fff" fill-opacity="0.39"/><rect x="14.1" y="16.7" width="0.6" height="1.5" fill="#fff" fill-opacity="0.43"/><rect x="37.9" y="11.0" width="0.6" height="1.0" fill="#8c2a5a" fill-opacity="0.39"/><rect x="5.2" y="6.7" width="0.6" height="0.9" fill="#fff" fill-opacity="0.27"/><rect x="14.9" y="13.9" width="0.6" height="0.9" fill="#8c2a5a" fill-opacity="0.24"/><rect x="11.6" y="5.3" width="0.6" height="0.9" fill="#fff" fill-opacity="0.31"/><rect x="37.5" y="26.6" width="0.6" height="1.2" fill="#8c2a5a" fill-opacity="0.17"/><rect x="0.8" y="15.4" width="0.6" height="0.8" fill="#fff" fill-opacity="0.39"/><rect x="32.0" y="0.3" width="0.6" height="0.9" fill="#fff" fill-opacity="0.48"/><rect x="33.2" y="26.5" width="0.6" height="0.8" fill="#fff" fill-opacity="0.45"/><rect x="22.6" y="9.0" width="0.6" height="1.1" fill="#8c2a5a" fill-opacity="0.26"/><rect x="16.4" y="28.6" width="0.6" height="1.5" fill="#8c2a5a" fill-opacity="0.19"/><rect x="27.9" y="13.3" width="0.6" height="1.1" fill="#8c2a5a" fill-opacity="0.18"/><rect x="8.9" y="12.4" width="0.6" height="1.5" fill="#8c2a5a" fill-opacity="0.32"/><rect x="25.4" y="20.9" width="0.6" height="0.7" fill="#8c2a5a" fill-opacity="0.17"/><rect x="35.7" y="14.6" width="0.6" height="1.0" fill="#fff" fill-opacity="0.37"/><rect x="26.2" y="25.4" width="0.6" height="1.1" fill="#8c2a5a" fill-opacity="0.24"/><rect x="9.6" y="27.2" width="0.6" height="1.1" fill="#fff" fill-opacity="0.29"/><rect x="35.2" y="13.9" width="0.6" height="1.1" fill="#fff" fill-opacity="0.27"/><rect x="30.1" y="3.2" width="0.6" height="0.9" fill="#fff" fill-opacity="0.35"/><rect x="0.1" y="6.6" width="0.6" height="0.8" fill="#fff" fill-opacity="0.28"/><rect x="2.4" y="0.4" width="0.6" height="0.9" fill="#fff" fill-opacity="0.48"/><rect x="27.4" y="15.1" width="0.6" height="1.6" fill="#fff" fill-opacity="0.34"/><rect x="31.3" y="20.8" width="0.6" height="1.4" fill="#8c2a5a" fill-opacity="0.16"/><rect x="27.2" y="27.2" width="0.6" height="1.3" fill="#fff" fill-opacity="0.45"/><rect x="16.6" y="3.3" width="0.6" height="1.0" fill="#8c2a5a" fill-opacity="0.35"/><rect x="35.5" y="29.1" width="0.6" height="1.5" fill="#8c2a5a" fill-opacity="0.38"/><rect x="0.8" y="16.4" width="0.6" height="0.8" fill="#8c2a5a" fill-opacity="0.26"/><rect x="28.5" y="5.4" width="0.6" height="1.1" fill="#8c2a5a" fill-opacity="0.29"/><rect x="5.0" y="5.2" width="0.6" height="1.0" fill="#8c2a5a" fill-opacity="0.40"/><rect x="7.5" y="22.7" width="0.6" height="1.5" fill="#fff" fill-opacity="0.49"/><rect x="2.5" y="9.9" width="0.6" height="1.3" fill="#fff" fill-opacity="0.51"/><rect x="1.3" y="25.2" width="0.6" height="1.4" fill="#8c2a5a" fill-opacity="0.30"/><rect x="14.4" y="15.8" width="0.6" height="1.5" fill="#8c2a5a" fill-opacity="0.37"/><rect x="26.2" y="19.4" width="0.6" height="1.1" fill="#fff" fill-opacity="0.32"/><rect x="26.2" y="29.5" width="0.6" height="1.4" fill="#fff" fill-opacity="0.30"/><rect x="12.6" y="8.4" width="0.6" height="1.5" fill="#fff" fill-opacity="0.44"/><rect x="23.6" y="12.8" width="0.6" height="0.9" fill="#8c2a5a" fill-opacity="0.40"/><rect x="36.7" y="19.6" width="0.6" height="0.9" fill="#fff" fill-opacity="0.26"/><rect x="1.0" y="0.5" width="0.6" height="1.6" fill="#8c2a5a" fill-opacity="0.29"/><rect x="8.9" y="2.7" width="0.6" height="0.7" fill="#8c2a5a" fill-opacity="0.18"/><rect x="13.6" y="4.7" width="0.6" height="1.3" fill="#8c2a5a" fill-opacity="0.18"/><rect x="5.5" y="23.2" width="0.6" height="1.3" fill="#8c2a5a" fill-opacity="0.22"/><rect x="28.2" y="0.3" width="0.6" height="1.5" fill="#8c2a5a" fill-opacity="0.22"/><rect x="25.7" y="6.3" width="0.6" height="1.1" fill="#8c2a5a" fill-opacity="0.26"/><rect x="1.4" y="15.8" width="0.6" height="1.0" fill="#8c2a5a" fill-opacity="0.34"/><rect x="35.9" y="12.2" width="0.6" height="1.4" fill="#8c2a5a" fill-opacity="0.34"/><rect x="20.7" y="18.4" width="0.6" height="1.4" fill="#8c2a5a" fill-opacity="0.29"/><rect x="34.7" y="9.0" width="0.6" height="1.5" fill="#8c2a5a" fill-opacity="0.30"/><rect x="32.4" y="22.4" width="0.6" height="1.0" fill="#fff" fill-opacity="0.51"/><rect x="24.9" y="12.2" width="0.6" height="0.8" fill="#8c2a5a" fill-opacity="0.21"/><rect x="12.9" y="9.9" width="0.6" height="1.6" fill="#fff" fill-opacity="0.42"/><rect x="26.8" y="0.3" width="0.6" height="1.2" fill="#fff" fill-opacity="0.48"/><rect x="14.1" y="19.3" width="0.6" height="1.4" fill="#fff" fill-opacity="0.38"/><rect x="33.3" y="26.1" width="0.6" height="1.2" fill="#fff" fill-opacity="0.46"/><rect x="21.0" y="29.1" width="0.6" height="1.1" fill="#fff" fill-opacity="0.46"/><rect x="4.3" y="27.1" width="0.6" height="0.7" fill="#fff" fill-opacity="0.25"/><rect x="34.2" y="23.4" width="0.6" height="1.1" fill="#fff" fill-opacity="0.32"/><rect x="19.5" y="27.2" width="0.6" height="0.7" fill="#fff" fill-opacity="0.31"/><rect x="3.4" y="26.0" width="0.6" height="1.5" fill="#fff" fill-opacity="0.38"/><rect x="12.8" y="1.8" width="0.6" height="1.0" fill="#8c2a5a" fill-opacity="0.25"/><rect x="13.7" y="21.8" width="0.6" height="1.0" fill="#fff" fill-opacity="0.50"/><rect x="11.8" y="8.0" width="0.6" height="0.8" fill="#fff" fill-opacity="0.27"/><rect x="40.1" y="14.1" width="0.6" height="1.4" fill="#8c2a5a" fill-opacity="0.37"/><rect x="15.0" y="24.2" width="0.6" height="1.5" fill="#8c2a5a" fill-opacity="0.25"/><rect x="15.6" y="0.5" width="0.6" height="1.1" fill="#8c2a5a" fill-opacity="0.18"/><rect x="26.7" y="29.9" width="0.6" height="1.4" fill="#8c2a5a" fill-opacity="0.30"/><rect x="25.0" y="23.3" width="0.6" height="1.4" fill="#8c2a5a" fill-opacity="0.19"/><rect x="27.6" y="15.9" width="0.6" height="0.9" fill="#8c2a5a" fill-opacity="0.39"/><rect x="25.7" y="14.9" width="0.6" height="1.5" fill="#fff" fill-opacity="0.44"/><rect x="9.0" y="28.2" width="0.6" height="1.4" fill="#fff" fill-opacity="0.46"/><rect x="27.2" y="9.7" width="0.6" height="1.3" fill="#fff" fill-opacity="0.30"/><rect x="32.7" y="12.8" width="0.6" height="1.5" fill="#8c2a5a" fill-opacity="0.21"/><rect x="17.0" y="2.8" width="0.6" height="1.2" fill="#fff" fill-opacity="0.50"/><rect x="38.5" y="26.6" width="0.6" height="1.1" fill="#fff" fill-opacity="0.53"/><rect x="9.2" y="9.5" width="0.6" height="1.0" fill="#fff" fill-opacity="0.42"/><rect x="4.7" y="7.4" width="0.6" height="1.1" fill="#8c2a5a" fill-opacity="0.21"/><rect x="32.9" y="7.7" width="0.6" height="1.3" fill="#8c2a5a" fill-opacity="0.20"/><rect x="33.9" y="15.9" width="0.6" height="1.3" fill="#8c2a5a" fill-opacity="0.40"/><rect x="12.4" y="16.7" width="0.6" height="1.6" fill="#fff" fill-opacity="0.55"/><rect x="2.5" y="11.5" width="0.6" height="1.1" fill="#fff" fill-opacity="0.40"/><rect x="22.9" y="0.4" width="0.6" height="1.5" fill="#8c2a5a" fill-opacity="0.25"/><rect x="17.9" y="16.8" width="0.6" height="1.5" fill="#fff" fill-opacity="0.28"/><rect x="25.5" y="0.1" width="0.6" height="1.4" fill="#fff" fill-opacity="0.39"/><rect x="14.9" y="25.7" width="0.6" height="1.5" fill="#fff" fill-opacity="0.41"/><rect x="12.5" y="20.8" width="0.6" height="0.7" fill="#8c2a5a" fill-opacity="0.18"/><rect x="38.7" y="19.4" width="0.6" height="1.4" fill="#8c2a5a" fill-opacity="0.34"/><rect x="1.9" y="29.7" width="0.6" height="1.2" fill="#8c2a5a" fill-opacity="0.33"/><rect x="19.7" y="10.4" width="0.6" height="1.3" fill="#8c2a5a" fill-opacity="0.39"/><rect x="35.6" y="29.7" width="0.6" height="1.1" fill="#fff" fill-opacity="0.36"/><rect x="36.8" y="27.6" width="0.6" height="1.4" fill="#8c2a5a" fill-opacity="0.24"/><rect x="2.2" y="14.2" width="0.6" height="1.2" fill="#fff" fill-opacity="0.49"/><rect x="34.0" y="23.9" width="0.6" height="1.5" fill="#8c2a5a" fill-opacity="0.17"/><rect x="20.4" y="2.5" width="0.6" height="1.5" fill="#8c2a5a" fill-opacity="0.35"/><rect x="40.1" y="16.8" width="0.6" height="0.8" fill="#fff" fill-opacity="0.40"/><rect x="36.6" y="10.2" width="0.6" height="1.0" fill="#fff" fill-opacity="0.49"/><rect x="7.7" y="28.9" width="0.6" height="0.8" fill="#8c2a5a" fill-opacity="0.29"/><rect x="31.4" y="21.3" width="0.6" height="1.3" fill="#8c2a5a" fill-opacity="0.20"/><rect x="13.2" y="8.7" width="0.6" height="0.7" fill="#8c2a5a" fill-opacity="0.20"/><rect x="21.9" y="18.2" width="0.6" height="1.2" fill="#8c2a5a" fill-opacity="0.23"/><rect x="32.7" y="0.4" width="0.6" height="1.5" fill="#fff" fill-opacity="0.42"/><rect x="25.7" y="29.5" width="0.6" height="0.8" fill="#8c2a5a" fill-opacity="0.28"/><rect x="29.2" y="16.1" width="0.6" height="1.1" fill="#8c2a5a" fill-opacity="0.27"/><rect x="35.4" y="2.1" width="0.6" height="0.8" fill="#fff" fill-opacity="0.50"/><rect x="10.6" y="24.0" width="0.6" height="1.3" fill="#8c2a5a" fill-opacity="0.28"/><rect x="38.6" y="14.2" width="0.6" height="1.2" fill="#fff" fill-opacity="0.33"/><rect x="38.0" y="10.3" width="0.6" height="0.9" fill="#8c2a5a" fill-opacity="0.33"/><rect x="36.5" y="17.8" width="0.6" height="0.9" fill="#fff" fill-opacity="0.52"/><rect x="31.0" y="6.4" width="0.6" height="1.1" fill="#8c2a5a" fill-opacity="0.25"/><rect x="19.8" y="21.6" width="0.6" height="0.9" fill="#8c2a5a" fill-opacity="0.23"/><rect x="6.5" y="13.2" width="0.6" height="0.9" fill="#fff" fill-opacity="0.29"/><rect x="29.5" y="2.6" width="0.6" height="1.3" fill="#fff" fill-opacity="0.32"/><rect x="0.4" y="25.3" width="0.6" height="1.4" fill="#8c2a5a" fill-opacity="0.28"/><rect x="27.9" y="6.0" width="0.6" height="0.9" fill="#fff" fill-opacity="0.43"/><rect x="39.0" y="17.9" width="0.6" height="0.9" fill="#8c2a5a" fill-opacity="0.25"/><rect x="33.5" y="23.9" width="0.6" height="1.2" fill="#8c2a5a" fill-opacity="0.24"/></pattern>
<rect x="24.4" y="507.8" width="179.5" height="196.4" fill="url(#spk)"/>
<pattern id="spk2" width="23" height="17" patternUnits="userSpaceOnUse"><rect x="11.0" y="5.1" width="0.5" height="2.1" fill="#f4eef2" fill-opacity="0.41"/><rect x="7.1" y="10.0" width="0.5" height="1.1" fill="#f4eef2" fill-opacity="0.33"/><rect x="10.0" y="13.2" width="0.5" height="1.3" fill="#f4eef2" fill-opacity="0.38"/><rect x="6.5" y="9.7" width="0.5" height="1.2" fill="#f4eef2" fill-opacity="0.46"/><rect x="11.5" y="0.6" width="0.5" height="1.3" fill="#f4eef2" fill-opacity="0.55"/><rect x="4.7" y="12.0" width="0.5" height="0.9" fill="#f4eef2" fill-opacity="0.45"/><rect x="9.5" y="10.4" width="0.5" height="0.8" fill="#f4eef2" fill-opacity="0.34"/><rect x="9.1" y="14.7" width="0.5" height="1.5" fill="#f4eef2" fill-opacity="0.56"/><rect x="12.0" y="15.8" width="0.5" height="0.9" fill="#f4eef2" fill-opacity="0.56"/><rect x="5.8" y="3.5" width="0.5" height="1.5" fill="#f4eef2" fill-opacity="0.43"/><rect x="22.4" y="15.0" width="0.5" height="1.8" fill="#f4eef2" fill-opacity="0.37"/><rect x="5.2" y="7.1" width="0.5" height="1.2" fill="#f4eef2" fill-opacity="0.37"/><rect x="4.6" y="4.2" width="0.5" height="1.2" fill="#f4eef2" fill-opacity="0.33"/><rect x="7.0" y="15.2" width="0.5" height="2.0" fill="#f4eef2" fill-opacity="0.49"/><rect x="21.5" y="15.0" width="0.5" height="0.9" fill="#f4eef2" fill-opacity="0.31"/><rect x="7.5" y="8.5" width="0.5" height="2.2" fill="#f4eef2" fill-opacity="0.31"/><rect x="15.7" y="12.7" width="0.5" height="1.2" fill="#f4eef2" fill-opacity="0.53"/><rect x="19.5" y="1.5" width="0.5" height="1.7" fill="#f4eef2" fill-opacity="0.44"/><rect x="17.4" y="2.4" width="0.5" height="1.7" fill="#f4eef2" fill-opacity="0.30"/><rect x="0.7" y="6.9" width="0.5" height="1.3" fill="#f4eef2" fill-opacity="0.43"/><rect x="4.7" y="15.9" width="0.5" height="1.4" fill="#f4eef2" fill-opacity="0.45"/><rect x="8.1" y="14.1" width="0.5" height="1.0" fill="#f4eef2" fill-opacity="0.58"/><rect x="4.3" y="14.0" width="0.5" height="1.4" fill="#f4eef2" fill-opacity="0.48"/><rect x="5.3" y="13.1" width="0.5" height="1.1" fill="#f4eef2" fill-opacity="0.54"/><rect x="14.8" y="14.4" width="0.5" height="2.2" fill="#f4eef2" fill-opacity="0.54"/><rect x="3.9" y="13.1" width="0.5" height="0.9" fill="#f4eef2" fill-opacity="0.54"/><rect x="20.8" y="2.2" width="0.5" height="0.9" fill="#f4eef2" fill-opacity="0.54"/><rect x="7.9" y="10.9" width="0.5" height="1.9" fill="#f4eef2" fill-opacity="0.58"/><rect x="11.7" y="13.5" width="0.5" height="2.1" fill="#f4eef2" fill-opacity="0.53"/><rect x="8.3" y="14.7" width="0.5" height="1.4" fill="#f4eef2" fill-opacity="0.57"/><rect x="8.6" y="7.8" width="0.5" height="0.8" fill="#f4eef2" fill-opacity="0.33"/><rect x="20.9" y="7.3" width="0.5" height="1.8" fill="#f4eef2" fill-opacity="0.44"/><rect x="16.3" y="8.4" width="0.5" height="1.0" fill="#f4eef2" fill-opacity="0.39"/><rect x="14.3" y="2.5" width="0.5" height="2.1" fill="#f4eef2" fill-opacity="0.32"/><rect x="12.7" y="13.9" width="0.5" height="1.8" fill="#f4eef2" fill-opacity="0.34"/><rect x="2.4" y="11.3" width="0.5" height="1.4" fill="#f4eef2" fill-opacity="0.33"/><rect x="2.8" y="10.6" width="0.5" height="0.8" fill="#f4eef2" fill-opacity="0.39"/><rect x="21.2" y="4.0" width="0.5" height="2.0" fill="#f4eef2" fill-opacity="0.31"/><rect x="4.5" y="0.8" width="0.5" height="1.8" fill="#f4eef2" fill-opacity="0.47"/><rect x="17.3" y="13.0" width="0.5" height="1.8" fill="#f4eef2" fill-opacity="0.33"/><rect x="10.3" y="0.5" width="0.5" height="1.9" fill="#f4eef2" fill-opacity="0.41"/><rect x="10.4" y="14.3" width="0.5" height="2.2" fill="#f4eef2" fill-opacity="0.48"/><rect x="8.7" y="14.0" width="0.5" height="2.0" fill="#f4eef2" fill-opacity="0.36"/><rect x="10.2" y="15.2" width="0.5" height="2.2" fill="#f4eef2" fill-opacity="0.57"/><rect x="11.0" y="2.6" width="0.5" height="2.0" fill="#f4eef2" fill-opacity="0.36"/><rect x="13.6" y="6.2" width="0.5" height="2.0" fill="#f4eef2" fill-opacity="0.41"/><rect x="8.5" y="13.6" width="0.5" height="1.8" fill="#f4eef2" fill-opacity="0.60"/><rect x="2.7" y="2.1" width="0.5" height="1.7" fill="#f4eef2" fill-opacity="0.45"/><rect x="20.1" y="7.4" width="0.5" height="0.9" fill="#f4eef2" fill-opacity="0.44"/><rect x="5.6" y="12.8" width="0.5" height="1.9" fill="#f4eef2" fill-opacity="0.56"/><rect x="2.5" y="9.0" width="0.5" height="1.1" fill="#f4eef2" fill-opacity="0.59"/><rect x="3.4" y="10.4" width="0.5" height="1.8" fill="#f4eef2" fill-opacity="0.36"/><rect x="13.1" y="1.9" width="0.5" height="0.9" fill="#f4eef2" fill-opacity="0.39"/><rect x="1.8" y="7.0" width="0.5" height="1.8" fill="#f4eef2" fill-opacity="0.58"/><rect x="5.9" y="7.6" width="0.5" height="1.8" fill="#f4eef2" fill-opacity="0.39"/><rect x="7.0" y="5.9" width="0.5" height="2.0" fill="#f4eef2" fill-opacity="0.41"/><rect x="17.3" y="2.3" width="0.5" height="1.2" fill="#f4eef2" fill-opacity="0.39"/><rect x="5.1" y="2.5" width="0.5" height="1.4" fill="#f4eef2" fill-opacity="0.54"/><rect x="14.8" y="15.9" width="0.5" height="1.2" fill="#f4eef2" fill-opacity="0.39"/><rect x="5.4" y="7.9" width="0.5" height="1.0" fill="#f4eef2" fill-opacity="0.54"/><rect x="9.5" y="0.7" width="0.5" height="1.5" fill="#f4eef2" fill-opacity="0.43"/><rect x="4.4" y="4.8" width="0.5" height="1.7" fill="#f4eef2" fill-opacity="0.60"/><rect x="13.6" y="4.1" width="0.5" height="0.8" fill="#f4eef2" fill-opacity="0.40"/><rect x="5.4" y="6.8" width="0.5" height="1.4" fill="#f4eef2" fill-opacity="0.38"/><rect x="3.7" y="14.9" width="0.5" height="2.1" fill="#f4eef2" fill-opacity="0.52"/><rect x="20.9" y="9.1" width="0.5" height="1.8" fill="#f4eef2" fill-opacity="0.43"/><rect x="14.9" y="13.6" width="0.5" height="1.8" fill="#f4eef2" fill-opacity="0.54"/><rect x="13.8" y="5.5" width="0.5" height="1.9" fill="#f4eef2" fill-opacity="0.57"/><rect x="5.3" y="2.7" width="0.5" height="0.8" fill="#f4eef2" fill-opacity="0.37"/><rect x="4.1" y="3.2" width="0.5" height="1.0" fill="#f4eef2" fill-opacity="0.40"/><rect x="3.8" y="15.4" width="0.5" height="0.9" fill="#f4eef2" fill-opacity="0.30"/><rect x="20.7" y="6.1" width="0.5" height="1.8" fill="#f4eef2" fill-opacity="0.40"/><rect x="0.3" y="0.6" width="0.5" height="2.1" fill="#f4eef2" fill-opacity="0.31"/><rect x="10.0" y="4.2" width="0.5" height="1.7" fill="#f4eef2" fill-opacity="0.41"/><rect x="18.2" y="3.4" width="0.5" height="1.6" fill="#f4eef2" fill-opacity="0.59"/><rect x="12.0" y="15.3" width="0.5" height="0.9" fill="#f4eef2" fill-opacity="0.56"/><rect x="8.8" y="16.0" width="0.5" height="1.8" fill="#f4eef2" fill-opacity="0.38"/><rect x="17.3" y="2.7" width="0.5" height="1.5" fill="#f4eef2" fill-opacity="0.52"/><rect x="3.8" y="0.9" width="0.5" height="2.0" fill="#f4eef2" fill-opacity="0.36"/><rect x="17.1" y="7.5" width="0.5" height="1.1" fill="#f4eef2" fill-opacity="0.56"/><rect x="8.4" y="4.2" width="0.5" height="2.1" fill="#f4eef2" fill-opacity="0.60"/><rect x="7.5" y="15.6" width="0.5" height="1.0" fill="#f4eef2" fill-opacity="0.54"/><rect x="13.2" y="3.9" width="0.5" height="1.4" fill="#f4eef2" fill-opacity="0.40"/><rect x="15.2" y="6.8" width="0.5" height="1.4" fill="#f4eef2" fill-opacity="0.50"/><rect x="7.8" y="1.3" width="0.5" height="1.5" fill="#f4eef2" fill-opacity="0.56"/><rect x="5.4" y="4.3" width="0.5" height="2.1" fill="#f4eef2" fill-opacity="0.35"/><rect x="21.6" y="4.9" width="0.5" height="1.1" fill="#f4eef2" fill-opacity="0.52"/><rect x="20.0" y="7.5" width="0.5" height="1.2" fill="#f4eef2" fill-opacity="0.34"/><rect x="0.2" y="11.3" width="0.5" height="1.8" fill="#f4eef2" fill-opacity="0.39"/><rect x="10.7" y="12.2" width="0.5" height="1.8" fill="#f4eef2" fill-opacity="0.50"/><rect x="20.7" y="3.9" width="0.5" height="2.2" fill="#f4eef2" fill-opacity="0.49"/><rect x="7.2" y="10.9" width="0.5" height="1.2" fill="#f4eef2" fill-opacity="0.42"/><rect x="18.5" y="12.9" width="0.5" height="1.6" fill="#f4eef2" fill-opacity="0.54"/><rect x="19.5" y="6.2" width="0.5" height="0.9" fill="#f4eef2" fill-opacity="0.58"/><rect x="1.3" y="7.1" width="0.5" height="0.9" fill="#f4eef2" fill-opacity="0.46"/><rect x="17.6" y="0.6" width="0.5" height="1.5" fill="#f4eef2" fill-opacity="0.42"/><rect x="15.1" y="14.4" width="0.5" height="1.7" fill="#f4eef2" fill-opacity="0.32"/><rect x="7.9" y="7.4" width="0.5" height="1.0" fill="#f4eef2" fill-opacity="0.56"/><rect x="8.1" y="5.8" width="0.5" height="1.1" fill="#f4eef2" fill-opacity="0.46"/><rect x="18.2" y="1.8" width="0.5" height="1.5" fill="#f4eef2" fill-opacity="0.39"/><rect x="1.4" y="6.4" width="0.5" height="1.7" fill="#f4eef2" fill-opacity="0.48"/><rect x="22.4" y="11.2" width="0.5" height="2.1" fill="#f4eef2" fill-opacity="0.52"/><rect x="15.4" y="14.4" width="0.5" height="2.0" fill="#f4eef2" fill-opacity="0.53"/><rect x="7.4" y="4.5" width="0.5" height="2.0" fill="#f4eef2" fill-opacity="0.31"/><rect x="8.8" y="13.4" width="0.5" height="1.2" fill="#f4eef2" fill-opacity="0.45"/><rect x="7.8" y="10.2" width="0.5" height="2.0" fill="#f4eef2" fill-opacity="0.32"/><rect x="9.2" y="13.7" width="0.5" height="1.4" fill="#f4eef2" fill-opacity="0.59"/><rect x="6.1" y="8.1" width="0.5" height="1.0" fill="#f4eef2" fill-opacity="0.56"/><rect x="10.8" y="13.2" width="0.5" height="1.8" fill="#f4eef2" fill-opacity="0.38"/><rect x="19.2" y="1.1" width="0.5" height="2.1" fill="#f4eef2" fill-opacity="0.54"/><rect x="5.5" y="9.2" width="0.5" height="1.3" fill="#f4eef2" fill-opacity="0.44"/><rect x="21.3" y="7.3" width="0.5" height="1.6" fill="#f4eef2" fill-opacity="0.31"/><rect x="1.3" y="7.6" width="0.5" height="1.4" fill="#f4eef2" fill-opacity="0.58"/><rect x="12.8" y="14.2" width="0.5" height="1.6" fill="#f4eef2" fill-opacity="0.58"/><rect x="7.2" y="0.4" width="0.5" height="1.9" fill="#f4eef2" fill-opacity="0.50"/><rect x="4.4" y="3.5" width="0.5" height="1.5" fill="#f4eef2" fill-opacity="0.57"/><rect x="15.1" y="6.9" width="0.5" height="1.6" fill="#f4eef2" fill-opacity="0.40"/><rect x="8.9" y="2.9" width="0.5" height="1.8" fill="#f4eef2" fill-opacity="0.31"/><rect x="11.8" y="1.4" width="0.5" height="1.0" fill="#f4eef2" fill-opacity="0.53"/><rect x="19.4" y="8.2" width="0.5" height="2.1" fill="#f4eef2" fill-opacity="0.51"/><rect x="12.1" y="9.7" width="0.5" height="0.8" fill="#f4eef2" fill-opacity="0.33"/><rect x="16.9" y="6.0" width="0.5" height="2.2" fill="#f4eef2" fill-opacity="0.38"/><rect x="6.4" y="3.4" width="0.5" height="2.1" fill="#f4eef2" fill-opacity="0.46"/><rect x="5.8" y="1.0" width="0.5" height="1.6" fill="#f4eef2" fill-opacity="0.30"/><rect x="19.4" y="2.5" width="0.5" height="1.9" fill="#f4eef2" fill-opacity="0.56"/><rect x="6.5" y="9.4" width="0.5" height="1.8" fill="#f4eef2" fill-opacity="0.44"/><rect x="9.3" y="14.1" width="0.5" height="1.2" fill="#f4eef2" fill-opacity="0.47"/><rect x="0.2" y="9.1" width="0.5" height="2.2" fill="#f4eef2" fill-opacity="0.42"/><rect x="16.5" y="5.2" width="0.5" height="1.3" fill="#f4eef2" fill-opacity="0.42"/><rect x="19.8" y="5.2" width="0.5" height="0.9" fill="#f4eef2" fill-opacity="0.46"/><rect x="13.1" y="9.7" width="0.5" height="1.5" fill="#f4eef2" fill-opacity="0.39"/><rect x="16.1" y="4.0" width="0.5" height="1.2" fill="#f4eef2" fill-opacity="0.35"/><rect x="1.3" y="3.3" width="0.5" height="1.7" fill="#f4eef2" fill-opacity="0.42"/><rect x="10.3" y="3.7" width="0.5" height="1.2" fill="#f4eef2" fill-opacity="0.51"/><rect x="21.1" y="2.2" width="0.5" height="1.8" fill="#f4eef2" fill-opacity="0.59"/><rect x="12.3" y="14.3" width="0.5" height="1.1" fill="#f4eef2" fill-opacity="0.54"/><rect x="2.5" y="3.5" width="0.5" height="0.9" fill="#f4eef2" fill-opacity="0.30"/><rect x="17.1" y="5.6" width="0.5" height="1.3" fill="#f4eef2" fill-opacity="0.52"/><rect x="5.7" y="13.7" width="0.5" height="1.1" fill="#f4eef2" fill-opacity="0.59"/><rect x="19.6" y="8.0" width="0.5" height="2.1" fill="#f4eef2" fill-opacity="0.55"/><rect x="21.4" y="4.7" width="0.5" height="1.4" fill="#f4eef2" fill-opacity="0.39"/><rect x="10.0" y="8.9" width="0.5" height="2.0" fill="#f4eef2" fill-opacity="0.40"/><rect x="12.5" y="4.4" width="0.5" height="1.4" fill="#f4eef2" fill-opacity="0.32"/><rect x="12.2" y="9.9" width="0.5" height="1.6" fill="#f4eef2" fill-opacity="0.56"/><rect x="11.7" y="4.4" width="0.5" height="2.1" fill="#f4eef2" fill-opacity="0.42"/><rect x="4.4" y="8.1" width="0.5" height="1.8" fill="#f4eef2" fill-opacity="0.38"/><rect x="5.2" y="1.3" width="0.5" height="1.6" fill="#f4eef2" fill-opacity="0.41"/><rect x="17.9" y="2.6" width="0.5" height="1.7" fill="#f4eef2" fill-opacity="0.35"/><rect x="4.5" y="1.8" width="0.5" height="1.7" fill="#f4eef2" fill-opacity="0.52"/><rect x="9.8" y="13.2" width="0.5" height="1.9" fill="#f4eef2" fill-opacity="0.56"/></pattern>
<rect x="117.7" y="587.4" width="45.6" height="25.2" fill="url(#spk2)"/>
<rect x="93.9" y="540.9" width="21.4" height="22.6" fill="url(#spk2)"/>
<rect x="93.9" y="613" width="21.4" height="21.0" fill="url(#spk2)"/>
<rect x="166.8" y="642.4" width="29.5" height="17.6" fill="url(#spk2)"/>
<path d="M22.8 508.6h-1.2M21.3 508.6h-1.7M19.3 508.6h-1.3M17.7 508.6h-1.6M15.7 508.6h-1.5M13.8 508.6h-1.0M22.8 509.9h-0.8M21.7 509.9h-1.4M20.0 509.9h-1.0M18.6 509.9h-1.8M16.5 509.9h-1.4M22.8 511.1h-0.5M22.0 511.1h-0.8M20.7 511.1h-0.8M19.7 511.1h-2.0M17.4 511.1h-0.6M16.4 511.1h-0.7M15.2 511.1h-1.1M22.8 512.4h-0.6M21.9 512.4h-1.8M19.8 512.4h-1.0M18.5 512.4h-1.7M16.3 512.4h-0.7M15.2 512.4h-1.7M22.8 513.6h-1.8M20.5 513.6h-1.5M18.6 513.6h-1.7M16.7 513.6h-1.8M22.8 514.9h-1.0M21.5 514.9h-1.5M19.6 514.9h-0.7M18.6 514.9h-0.5M22.8 516.1h-1.2M21.3 516.1h-0.9M20.0 516.1h-0.6M19.0 516.1h-1.2M17.5 516.1h-1.2M22.8 517.4h-1.8M20.7 517.4h-1.0M19.3 517.4h-2.0M17.0 517.4h-1.9M14.7 517.4h-1.4M12.9 517.4h-2.0M22.8 518.6h-1.1M21.4 518.6h-1.0M20.0 518.6h-0.8M18.9 518.6h-1.2M17.3 518.6h-0.6M16.5 518.6h-0.5M15.6 518.6h-1.5M13.6 518.6h-1.1M22.8 519.9h-1.6M20.9 519.9h-1.5M19.1 519.9h-0.7M22.8 521.1h-0.9M21.6 521.1h-1.6M19.6 521.1h-1.6M17.6 521.1h-2.0M22.8 522.4h-0.5M21.8 522.4h-1.3M20.1 522.4h-1.1M18.6 522.4h-1.3M16.8 522.4h-1.2M22.8 523.6h-1.2M21.2 523.6h-1.1M19.6 523.6h-1.3M18.0 523.6h-1.2M16.4 523.6h-1.2M14.8 523.6h-1.1M22.8 524.9h-1.1M21.3 524.9h-0.7M20.3 524.9h-0.9M19.1 524.9h-1.6M17.1 524.9h-1.5M22.8 526.1h-0.7M21.8 526.1h-0.7M20.7 526.1h-1.9M18.6 526.1h-1.2M17.1 526.1h-1.0M15.9 526.1h-1.1M14.5 526.1h-1.6M22.8 527.4h-0.8M21.6 527.4h-1.5M19.7 527.4h-1.2M18.1 527.4h-0.6M17.0 527.4h-0.5M22.8 528.6h-1.4M20.9 528.6h-1.7M18.7 528.6h-0.5M17.7 528.6h-1.5M22.8 529.9h-0.8M21.5 529.9h-0.7M20.5 529.9h-2.0M18.0 529.9h-1.5M16.1 529.9h-2.0M22.8 531.1h-0.6M21.8 531.1h-1.3M20.2 531.1h-1.5M22.8 532.4h-1.9M20.5 532.4h-0.9M19.3 532.4h-0.9M18.1 532.4h-1.5M16.2 532.4h-0.6M15.2 532.4h-1.0M22.8 533.6h-1.7M20.6 533.6h-0.5M19.7 533.6h-1.1M18.3 533.6h-1.0M16.9 533.6h-1.0M15.5 533.6h-1.9M22.8 534.9h-1.5M21.0 534.9h-1.8M18.8 534.9h-1.3M17.2 534.9h-1.2M22.8 536.1h-1.1M21.3 536.1h-0.8M20.2 536.1h-1.5M18.3 536.1h-1.8M22.8 537.4h-1.8M20.6 537.4h-0.7M19.4 537.4h-0.8M18.3 537.4h-0.6M17.4 537.4h-0.7M16.3 537.4h-0.6M15.5 537.4h-1.9M22.8 538.6h-1.2M21.3 538.6h-0.6M20.3 538.6h-0.9M19.1 538.6h-1.2M22.8 539.9h-0.9M21.5 539.9h-1.9M19.2 539.9h-0.6M18.2 539.9h-1.6M16.2 539.9h-1.1M14.6 539.9h-1.6M22.8 541.1h-1.6M20.8 541.1h-1.5M19.0 541.1h-1.3M17.4 541.1h-0.7M16.3 541.1h-2.0M14.0 541.1h-0.7M22.8 542.4h-1.0M21.5 542.4h-1.8M19.3 542.4h-1.7M17.2 542.4h-0.8M16.0 542.4h-1.3M22.8 543.6h-1.6M20.8 543.6h-1.2M19.3 543.6h-1.6M17.4 543.6h-1.3M22.8 544.9h-1.6M20.9 544.9h-0.9M19.6 544.9h-1.0M18.3 544.9h-1.5M16.5 544.9h-0.8M15.2 544.9h-0.8M14.0 544.9h-1.6M22.8 546.1h-0.5M21.8 546.1h-0.6M20.8 546.1h-0.6M19.8 546.1h-1.9M17.5 546.1h-1.4M22.8 547.4h-1.6M20.8 547.4h-1.0M19.3 547.4h-1.8M17.0 547.4h-1.5M22.8 548.6h-0.9M21.6 548.6h-1.0M20.2 548.6h-1.8M18.1 548.6h-0.7M17.0 548.6h-0.7M15.9 548.6h-1.6M22.8 549.9h-1.3M21.2 549.9h-0.9M19.8 549.9h-2.0M17.4 549.9h-1.3M15.6 549.9h-1.4M13.8 549.9h-1.3M12.1 549.9h-0.6M22.8 551.1h-1.3M21.1 551.1h-1.8M19.0 551.1h-1.9M16.8 551.1h-1.8M22.8 552.4h-0.9M21.5 552.4h-1.4M19.8 552.4h-1.3M18.1 552.4h-0.9M22.8 553.6h-1.5M20.8 553.6h-1.7M18.6 553.6h-0.5M17.7 553.6h-1.6M22.8 554.9h-0.5M21.8 554.9h-1.5M19.8 554.9h-1.5M18.0 554.9h-0.8M16.8 554.9h-1.4M14.9 554.9h-0.8M22.8 556.1h-1.6M20.8 556.1h-1.3M19.1 556.1h-0.8M18.0 556.1h-0.6M17.1 556.1h-0.6M16.0 556.1h-2.0M13.7 556.1h-1.7M22.8 557.4h-1.5M20.8 557.4h-0.9M19.4 557.4h-1.3M17.9 557.4h-1.4M16.1 557.4h-0.6M22.8 558.6h-2.0M20.4 558.6h-0.6M19.4 558.6h-1.7M17.4 558.6h-1.1M15.8 558.6h-1.9M22.8 559.9h-1.0M21.3 559.9h-1.4M19.6 559.9h-1.6M22.8 561.1h-2.0M20.4 561.1h-1.5M18.5 561.1h-1.3M16.8 561.1h-1.0M15.3 561.1h-1.0M22.8 562.4h-1.2M21.2 562.4h-1.4M19.6 562.4h-1.9M17.2 562.4h-1.9M15.1 562.4h-1.3M22.8 563.6h-1.9M20.6 563.6h-1.6M18.6 563.6h-1.7M16.5 563.6h-1.3M14.7 563.6h-0.9M22.8 564.9h-1.9M20.6 564.9h-1.8M18.5 564.9h-1.2M22.8 566.1h-1.4M21.0 566.1h-2.0M18.7 566.1h-0.8M22.8 567.4h-0.6M21.8 567.4h-1.2M20.3 567.4h-1.5M18.4 567.4h-1.8M16.3 567.4h-0.9M15.1 567.4h-0.7M22.8 568.6h-1.4M21.0 568.6h-1.9M18.7 568.6h-1.7M22.8 569.9h-1.4M21.0 569.9h-1.7M19.0 569.9h-1.5M17.0 569.9h-1.1M22.8 571.1h-1.5M21.1 571.1h-1.0M19.7 571.1h-1.6M17.7 571.1h-1.0M22.8 572.4h-1.6M20.8 572.4h-1.2M19.2 572.4h-1.1M17.8 572.4h-1.1M16.3 572.4h-0.5M15.3 572.4h-0.5M22.8 573.6h-1.2M21.4 573.6h-1.9M19.2 573.6h-1.9M17.0 573.6h-1.4M22.8 574.9h-1.6M20.7 574.9h-0.9M19.4 574.9h-1.4M17.6 574.9h-1.9M15.4 574.9h-1.5M22.8 576.1h-1.8M20.6 576.1h-1.8M18.5 576.1h-1.0M22.8 577.4h-0.7M21.7 577.4h-1.7M19.7 577.4h-0.9M22.8 578.6h-1.4M21.0 578.6h-1.7M19.0 578.6h-1.8M16.8 578.6h-1.8M14.7 578.6h-1.8M22.8 579.9h-0.7M21.8 579.9h-1.7M19.7 579.9h-1.3M18.0 579.9h-1.6M22.8 581.1h-0.8M21.7 581.1h-0.8M20.5 581.1h-1.7M18.3 581.1h-1.9M16.0 581.1h-0.6M15.0 581.1h-1.0M22.8 582.4h-1.9M20.6 582.4h-1.7M18.5 582.4h-1.4M16.6 582.4h-1.0M22.8 583.6h-1.4M20.9 583.6h-1.2M19.3 583.6h-1.6M17.5 583.6h-1.7M15.3 583.6h-0.7M14.3 583.6h-2.0M22.8 584.9h-0.6M21.9 584.9h-1.0M20.7 584.9h-1.6M18.6 584.9h-1.0M17.4 584.9h-0.5M16.6 584.9h-0.7M15.5 584.9h-0.8M14.3 584.9h-0.7M13.3 584.9h-1.5M22.8 586.1h-1.0M21.5 586.1h-0.7M20.5 586.1h-1.7M18.5 586.1h-0.6M17.4 586.1h-1.6M22.8 587.4h-1.1M21.3 587.4h-1.4M19.5 587.4h-2.0M17.0 587.4h-1.5M22.8 588.6h-1.5M21.0 588.6h-2.0M18.6 588.6h-0.9M17.5 588.6h-1.5M22.8 589.9h-0.6M21.9 589.9h-1.9M19.5 589.9h-1.4M22.8 591.1h-1.4M21.1 591.1h-1.9M18.7 591.1h-0.9M17.6 591.1h-0.8M16.3 591.1h-1.0M22.8 592.4h-1.5M20.8 592.4h-0.5M19.9 592.4h-1.1M18.5 592.4h-1.1M17.2 592.4h-1.5M15.4 592.4h-1.1M22.8 593.6h-1.6M20.7 593.6h-0.7M19.6 593.6h-1.9M17.2 593.6h-1.0M15.7 593.6h-1.5M13.7 593.6h-1.4M22.8 594.9h-1.9M20.6 594.9h-0.8M19.3 594.9h-1.2M17.8 594.9h-1.9M22.8 596.1h-0.9M21.5 596.1h-0.5M20.4 596.1h-1.7M18.3 596.1h-0.6M17.3 596.1h-1.0M16.0 596.1h-1.4M14.2 596.1h-0.5M13.2 596.1h-1.9M22.8 597.4h-1.2M21.3 597.4h-1.3M19.6 597.4h-1.0M18.4 597.4h-1.1M22.8 598.6h-0.8M21.6 598.6h-0.7M20.5 598.6h-1.9M18.2 598.6h-1.3M16.6 598.6h-1.3M22.8 599.9h-1.8M20.7 599.9h-1.3M19.1 599.9h-0.7M18.1 599.9h-1.5M16.2 599.9h-1.2M14.7 599.9h-1.4M22.8 601.1h-1.2M21.3 601.1h-0.6M20.2 601.1h-1.4M18.4 601.1h-0.6M17.4 601.1h-1.6M15.4 601.1h-1.5M13.5 601.1h-1.9M22.8 602.4h-0.7M21.7 602.4h-1.9M19.4 602.4h-1.5M22.8 603.6h-1.2M21.1 603.6h-1.3M19.3 603.6h-1.7M17.2 603.6h-1.6M22.8 604.9h-1.6M20.7 604.9h-1.5M19.0 604.9h-2.0M22.8 606.1h-0.7M21.8 606.1h-1.4M20.0 606.1h-1.2M18.4 606.1h-1.6M16.4 606.1h-1.6M14.4 606.1h-1.1M13.1 606.1h-1.2M22.8 607.4h-0.9M21.6 607.4h-1.7M19.4 607.4h-0.9M22.8 608.6h-0.7M21.8 608.6h-0.8M20.5 608.6h-1.7M18.6 608.6h-1.3M16.8 608.6h-1.1M15.2 608.6h-1.6M13.3 608.6h-1.8M22.8 609.9h-1.5M20.9 609.9h-0.9M19.6 609.9h-0.5M18.6 609.9h-0.9M17.3 609.9h-1.2M22.8 611.1h-1.7M20.9 611.1h-1.7M18.7 611.1h-0.6M17.7 611.1h-2.0M22.8 612.4h-0.6M21.9 612.4h-0.7M20.8 612.4h-2.0M18.4 612.4h-1.7M16.4 612.4h-1.1M22.8 613.6h-1.5M20.9 613.6h-1.2M19.3 613.6h-2.0M17.0 613.6h-0.9M15.7 613.6h-1.6M22.8 614.9h-1.0M21.3 614.9h-1.5M19.5 614.9h-1.8M17.2 614.9h-1.4M22.8 616.1h-0.7M21.8 616.1h-1.5M19.8 616.1h-1.8M17.6 616.1h-0.9M16.3 616.1h-0.7M15.2 616.1h-1.9M22.8 617.4h-1.9M20.6 617.4h-1.3M19.0 617.4h-2.0M16.7 617.4h-1.9M22.8 618.6h-1.0M21.4 618.6h-1.9M19.0 618.6h-1.1M22.8 619.9h-0.9M21.5 619.9h-0.6M20.7 619.9h-1.5M18.7 619.9h-1.6M22.8 621.1h-1.0M21.4 621.1h-1.0M20.0 621.1h-0.9M18.8 621.1h-1.8M22.8 622.4h-1.6M20.9 622.4h-1.6M19.0 622.4h-0.6M18.0 622.4h-1.7M22.8 623.6h-0.5M21.8 623.6h-1.9M19.6 623.6h-1.9M22.8 624.9h-0.9M21.4 624.9h-1.0M20.0 624.9h-1.5M18.2 624.9h-1.9M16.0 624.9h-0.6M15.1 624.9h-0.7M14.1 624.9h-1.3M22.8 626.1h-1.3M21.2 626.1h-0.7M20.2 626.1h-1.6M18.1 626.1h-1.4M16.2 626.1h-1.5M22.8 627.4h-0.5M22.0 627.4h-1.8M19.9 627.4h-1.9M17.7 627.4h-1.9M15.5 627.4h-1.9M13.3 627.4h-1.1M22.8 628.6h-1.2M21.2 628.6h-1.4M19.5 628.6h-1.4M17.7 628.6h-1.1M16.3 628.6h-0.7M15.2 628.6h-1.9M12.9 628.6h-0.9M11.7 628.6h-1.6M22.8 629.9h-0.7M21.7 629.9h-1.8M19.4 629.9h-1.5M22.8 631.1h-1.1M21.3 631.1h-1.8M19.0 631.1h-1.2M17.6 631.1h-1.6M22.8 632.4h-0.8M21.7 632.4h-1.3M20.1 632.4h-1.1M18.7 632.4h-0.9M17.5 632.4h-1.5M15.7 632.4h-0.6M14.8 632.4h-1.4M12.9 632.4h-0.8M22.8 633.6h-1.2M21.3 633.6h-0.6M20.3 633.6h-0.5M19.3 633.6h-1.1M17.9 633.6h-1.2M16.4 633.6h-1.3M22.8 634.9h-1.4M21.1 634.9h-1.3M19.6 634.9h-1.3M18.0 634.9h-1.5M22.8 636.1h-1.6M20.9 636.1h-2.0M18.6 636.1h-2.0M22.8 637.4h-2.0M20.5 637.4h-1.3M18.9 637.4h-1.8M16.9 637.4h-2.0M22.8 638.6h-0.6M21.9 638.6h-0.5M21.1 638.6h-1.1M19.7 638.6h-0.5M18.8 638.6h-1.0M22.8 639.9h-1.8M20.5 639.9h-1.6M18.5 639.9h-1.9M16.2 639.9h-0.8M15.0 639.9h-0.9M22.8 641.1h-1.6M20.8 641.1h-1.7M18.8 641.1h-0.8M17.7 641.1h-1.1M16.2 641.1h-1.9M22.8 642.4h-1.0M21.5 642.4h-1.5M19.7 642.4h-1.4M17.9 642.4h-1.4M16.2 642.4h-1.1M14.7 642.4h-1.1M22.8 643.6h-1.5M20.9 643.6h-1.5M19.0 643.6h-0.9M17.7 643.6h-1.5M15.7 643.6h-1.6M22.8 644.9h-1.3M21.2 644.9h-1.4M19.5 644.9h-1.2M17.9 644.9h-0.9M16.6 644.9h-1.7M22.8 646.1h-0.8M21.6 646.1h-0.8M20.3 646.1h-1.9M18.0 646.1h-0.8M17.0 646.1h-1.6M22.8 647.4h-1.8M20.6 647.4h-0.8M19.3 647.4h-0.6M18.3 647.4h-1.7M22.8 648.6h-1.2M21.2 648.6h-1.0M19.8 648.6h-0.8M18.6 648.6h-0.6M17.7 648.6h-1.4M15.8 648.6h-1.8M13.5 648.6h-0.6M22.8 649.9h-1.3M21.2 649.9h-2.0M18.7 649.9h-1.9M22.8 651.1h-1.8M20.6 651.1h-1.7M18.4 651.1h-0.8M17.2 651.1h-1.6M22.8 652.4h-1.2M21.3 652.4h-0.8M20.0 652.4h-0.5M19.1 652.4h-0.9M17.8 652.4h-2.0M22.8 653.6h-0.6M21.8 653.6h-0.5M21.0 653.6h-1.4M19.4 653.6h-1.7M17.4 653.6h-0.9M16.2 653.6h-0.9M15.0 653.6h-1.4M22.8 654.9h-0.6M21.8 654.9h-1.5M20.0 654.9h-1.9M17.8 654.9h-1.8M22.8 656.1h-1.0M21.4 656.1h-1.5M19.4 656.1h-1.4M17.8 656.1h-0.8M16.7 656.1h-2.0M14.4 656.1h-1.7M22.8 657.4h-0.8M21.7 657.4h-1.3M20.0 657.4h-0.9M18.7 657.4h-1.5M16.9 657.4h-1.8M22.8 658.6h-1.8M20.6 658.6h-0.7M19.5 658.6h-1.1M17.9 658.6h-0.9M16.4 658.6h-1.8M14.4 658.6h-1.1M13.0 658.6h-1.7M22.8 659.9h-1.2M21.1 659.9h-0.6M20.2 659.9h-1.6M18.3 659.9h-0.8M17.1 659.9h-0.7M16.0 659.9h-1.6M14.1 659.9h-1.6M22.8 661.1h-0.9M21.5 661.1h-1.9M19.2 661.1h-1.3M17.5 661.1h-0.7M16.4 661.1h-1.4M22.8 662.4h-0.5M21.9 662.4h-1.8M19.7 662.4h-1.2M22.8 663.6h-0.6M21.8 663.6h-2.0M19.4 663.6h-0.9M18.3 663.6h-0.9M16.9 663.6h-1.0M15.5 663.6h-1.4M13.8 663.6h-1.9M22.8 664.9h-1.9M20.4 664.9h-1.0M19.0 664.9h-1.4M22.8 666.1h-1.9M20.4 666.1h-2.0M18.1 666.1h-0.6M17.0 666.1h-1.5M22.8 667.4h-0.7M21.6 667.4h-1.1M20.3 667.4h-1.0M19.0 667.4h-1.6M17.2 667.4h-1.6M15.2 667.4h-1.3M22.8 668.6h-0.9M21.5 668.6h-1.7M19.5 668.6h-1.4M17.7 668.6h-1.9M22.8 669.9h-0.9M21.5 669.9h-1.2M20.0 669.9h-1.6M18.1 669.9h-1.4M16.4 669.9h-1.4M14.4 669.9h-0.6M22.8 671.1h-0.9M21.5 671.1h-0.9M20.1 671.1h-2.0M17.8 671.1h-1.9M15.6 671.1h-0.6M14.7 671.1h-1.0M22.8 672.4h-0.9M21.5 672.4h-1.7M19.5 672.4h-1.6M17.4 672.4h-1.1M22.8 673.6h-0.6M21.9 673.6h-1.7M19.8 673.6h-0.6M18.9 673.6h-1.6M22.8 674.9h-2.0M20.6 674.9h-0.8M19.5 674.9h-1.0M18.1 674.9h-1.0M16.6 674.9h-0.5M15.8 674.9h-1.2M14.3 674.9h-1.1M12.8 674.9h-1.4M22.8 676.1h-1.4M21.0 676.1h-1.4M19.3 676.1h-1.6M17.3 676.1h-1.2M22.8 677.4h-1.3M21.1 677.4h-1.6M19.2 677.4h-1.8M17.1 677.4h-1.1M15.7 677.4h-0.5M22.8 678.6h-0.9M21.6 678.6h-1.6M19.6 678.6h-1.7M22.8 679.9h-1.9M20.4 679.9h-0.7M19.4 679.9h-1.8M22.8 681.1h-0.8M21.5 681.1h-1.6M19.5 681.1h-1.4M17.6 681.1h-0.9M16.4 681.1h-1.9M14.0 681.1h-1.4M12.3 681.1h-1.3M22.8 682.4h-1.7M20.8 682.4h-1.8M18.6 682.4h-0.8M17.3 682.4h-1.0M15.9 682.4h-1.2M14.4 682.4h-1.0M22.8 683.6h-0.9M21.5 683.6h-1.0M20.2 683.6h-1.4M22.8 684.9h-1.8M20.6 684.9h-2.0M18.2 684.9h-1.7M22.8 686.1h-1.0M21.4 686.1h-1.1M20.0 686.1h-1.1M18.5 686.1h-1.7M22.8 687.4h-0.5M22.0 687.4h-1.9M19.7 687.4h-1.1M18.1 687.4h-0.6M17.0 687.4h-0.8M22.8 688.6h-1.8M20.6 688.6h-1.8M18.4 688.6h-1.3M16.6 688.6h-0.8M15.6 688.6h-1.1M22.8 689.9h-1.0M21.4 689.9h-0.9M20.2 689.9h-2.0M17.9 689.9h-1.6M22.8 691.1h-1.6M20.8 691.1h-1.7M18.6 691.1h-1.5M16.7 691.1h-0.8M22.8 692.4h-1.8M20.6 692.4h-0.8M19.4 692.4h-1.3M22.8 693.6h-1.3M21.2 693.6h-1.5M19.3 693.6h-0.7M18.1 693.6h-1.7M16.0 693.6h-1.9M22.8 694.9h-1.5M20.9 694.9h-1.5M19.0 694.9h-0.6M22.8 696.1h-1.6M20.8 696.1h-0.8M19.7 696.1h-1.6M17.7 696.1h-1.3M16.0 696.1h-1.8M22.8 697.4h-1.6M20.8 697.4h-0.8M19.6 697.4h-1.0M18.2 697.4h-1.1M16.9 697.4h-0.8M15.7 697.4h-1.2M14.1 697.4h-1.7M22.8 698.6h-0.6M21.8 698.6h-1.8M19.6 698.6h-1.7M17.6 698.6h-1.8M15.3 698.6h-1.0M22.8 699.9h-2.0M20.4 699.9h-1.9M18.1 699.9h-1.0M22.8 701.1h-1.4M21.1 701.1h-0.9M19.7 701.1h-1.7M17.6 701.1h-1.6M15.7 701.1h-0.9M14.4 701.1h-1.7M22.8 702.4h-1.9M20.6 702.4h-1.6M18.5 702.4h-1.7M16.5 702.4h-1.1M22.8 703.6h-1.3M21.2 703.6h-1.9M19.0 703.6h-1.6M16.9 703.6h-2.0" stroke="#6a6a6a" stroke-opacity="0.75" stroke-width="0.85" fill="none"/>
<text x="265.0" y="466.8" font-size="10.5" text-anchor="start" fill="#000" font-weight="bold">C</text>
<text x="319.8" y="474.7" font-size="6.5" text-anchor="middle" fill="#000" font-weight="bold">ID</text>
<text x="439.0" y="474.7" font-size="6.5" text-anchor="middle" fill="#000" font-weight="bold">Category</text>
<text x="550.6" y="474.7" font-size="6.5" text-anchor="middle" fill="#000" font-weight="bold">P-value</text>
<path d="M287.9 480.4H575M287.9 516.5H575M287.9 520.0H575M287.9 547.3H575M287.9 551.1H575M287.9 577.2H575M287.9 581.5H575M287.9 607.8H575M287.9 611.7H575M287.9 638.3H575M287.9 642.1H575M287.9 669.0H575M287.9 672.9H575M287.9 699.2H575" stroke="#2a2a2a" stroke-width="0.85" fill="none"/>
<text x="297.0" y="492.1" font-size="7.6" text-anchor="start" fill="#000" stroke="#000" stroke-width="0.22">GO: 0007399</text>
<text x="439.0" y="492.1" font-size="7.6" text-anchor="middle" fill="#000" stroke="#000" stroke-width="0.22">Nervous system development</text>
<text x="550.6" y="492.1" font-size="7.6" text-anchor="middle" fill="#000" stroke="#000" stroke-width="0.22">4.34E-07</text>
<text x="297.0" y="501.2" font-size="7.6" text-anchor="start" fill="#000" stroke="#000" stroke-width="0.22">GO: 0001764</text>
<text x="439.0" y="501.2" font-size="7.6" text-anchor="middle" fill="#000" stroke="#000" stroke-width="0.22">Neuron migration</text>
<text x="550.6" y="501.2" font-size="7.6" text-anchor="middle" fill="#000" stroke="#000" stroke-width="0.22">1.62E-06</text>
<text x="297.0" y="510.2" font-size="7.6" text-anchor="start" fill="#000" stroke="#000" stroke-width="0.22">GO: 0050769</text>
<text x="439.0" y="510.2" font-size="7.6" text-anchor="middle" fill="#000" stroke="#000" stroke-width="0.22">Positive regulation of neurogenesis</text>
<text x="550.6" y="510.2" font-size="7.6" text-anchor="middle" fill="#000" stroke="#000" stroke-width="0.22">2.46E-05</text>
<text x="297.0" y="531.4" font-size="7.6" text-anchor="start" fill="#000" stroke="#000" stroke-width="0.22">GO: 0042127</text>
<text x="439.0" y="531.4" font-size="7.6" text-anchor="middle" fill="#000" stroke="#000" stroke-width="0.22">Regulation of cell proliferation</text>
<text x="550.6" y="531.4" font-size="7.6" text-anchor="middle" fill="#000" stroke="#000" stroke-width="0.22">3.94E-06</text>
<text x="297.0" y="540.7" font-size="7.6" text-anchor="start" fill="#000" stroke="#000" stroke-width="0.22">GO: 0045665</text>
<text x="439.0" y="540.7" font-size="7.6" text-anchor="middle" fill="#000" stroke="#000" stroke-width="0.22">Negative regulation of neuron differentiation</text>
<text x="550.6" y="540.7" font-size="7.6" text-anchor="middle" fill="#000" stroke="#000" stroke-width="0.22">1.70E-05</text>
<text x="297.0" y="561.8" font-size="7.6" text-anchor="start" fill="#000" stroke="#000" stroke-width="0.22">GO: 0044267</text>
<text x="439.0" y="561.8" font-size="7.6" text-anchor="middle" fill="#000" stroke="#000" stroke-width="0.22">Cellular protein metabolic process</text>
<text x="550.6" y="561.8" font-size="7.6" text-anchor="middle" fill="#000" stroke="#000" stroke-width="0.22">1.29E-07</text>
<text x="297.0" y="571.0" font-size="7.6" text-anchor="start" fill="#000" stroke="#000" stroke-width="0.22">GO: 0071456</text>
<text x="439.0" y="571.0" font-size="7.6" text-anchor="middle" fill="#000" stroke="#000" stroke-width="0.22">Cellular response to hypoxia</text>
<text x="550.6" y="571.0" font-size="7.6" text-anchor="middle" fill="#000" stroke="#000" stroke-width="0.22">3.25E-07</text>
<text x="297.0" y="591.6" font-size="7.6" text-anchor="start" fill="#000" stroke="#000" stroke-width="0.22">GO: 0045664</text>
<text x="439.0" y="591.6" font-size="7.6" text-anchor="middle" fill="#000" stroke="#000" stroke-width="0.22">Regulation of neuron differentiation</text>
<text x="550.6" y="591.6" font-size="7.6" text-anchor="middle" fill="#000" stroke="#000" stroke-width="0.22">1.58E-05</text>
<text x="297.0" y="600.8" font-size="7.6" text-anchor="start" fill="#000" stroke="#000" stroke-width="0.22">GO: 0051094</text>
<text x="439.0" y="600.8" font-size="7.6" text-anchor="middle" fill="#000" stroke="#000" stroke-width="0.22">Positive regulation of developmental process</text>
<text x="550.6" y="600.8" font-size="7.6" text-anchor="middle" fill="#000" stroke="#000" stroke-width="0.22">1.07E-04</text>
<text x="297.0" y="622.7" font-size="7.6" text-anchor="start" fill="#000" stroke="#000" stroke-width="0.22">GO: 0007346</text>
<text x="439.0" y="622.7" font-size="7.6" text-anchor="middle" fill="#000" stroke="#000" stroke-width="0.22">Regulation of mitotic cell cycle</text>
<text x="550.6" y="622.7" font-size="7.6" text-anchor="middle" fill="#000" stroke="#000" stroke-width="0.22">6.48E-10</text>
<text x="297.0" y="631.9" font-size="7.6" text-anchor="start" fill="#000" stroke="#000" stroke-width="0.22">GO: 0050768</text>
<text x="439.0" y="631.9" font-size="7.6" text-anchor="middle" fill="#000" stroke="#000" stroke-width="0.22">Negative regulation of neurogenesis</text>
<text x="550.6" y="631.9" font-size="7.6" text-anchor="middle" fill="#000" stroke="#000" stroke-width="0.22">5.93E-04</text>
<text x="297.0" y="653.5" font-size="7.6" text-anchor="start" fill="#000" stroke="#000" stroke-width="0.22">GO: 0030111</text>
<text x="439.0" y="653.5" font-size="7.6" text-anchor="middle" fill="#000" stroke="#000" stroke-width="0.22">Regulation of Wnt signaling pathway</text>
<text x="550.6" y="653.5" font-size="7.6" text-anchor="middle" fill="#000" stroke="#000" stroke-width="0.22">1.72E-04</text>
<text x="297.0" y="662.6" font-size="7.6" text-anchor="start" fill="#000" stroke="#000" stroke-width="0.22">GO: 0045665</text>
<text x="439.0" y="662.6" font-size="7.6" text-anchor="middle" fill="#000" stroke="#000" stroke-width="0.22">Negative regulation of neuron differentiation</text>
<text x="550.6" y="662.6" font-size="7.6" text-anchor="middle" fill="#000" stroke="#000" stroke-width="0.22">2.44E-04</text>
<text x="297.0" y="683.9" font-size="7.6" text-anchor="start" fill="#000" stroke="#000" stroke-width="0.22">GO: 0030198</text>
<text x="439.0" y="683.9" font-size="7.6" text-anchor="middle" fill="#000" stroke="#000" stroke-width="0.22">Extracellular matrix organization</text>
<text x="550.6" y="683.9" font-size="7.6" text-anchor="middle" fill="#000" stroke="#000" stroke-width="0.22">3.59E-18</text>
<text x="297.0" y="693.1" font-size="7.6" text-anchor="start" fill="#000" stroke="#000" stroke-width="0.22">GO: 1904705</text>
<text x="439.0" y="693.1" font-size="7.6" text-anchor="middle" fill="#000" stroke="#000" stroke-width="0.22">Regulation of VSMC proliferation</text>
<text x="550.6" y="693.1" font-size="7.6" text-anchor="middle" fill="#000" stroke="#000" stroke-width="0.22">6.87E-06</text>
<path d="M263.7 481H260.1V576.5H263.7M263.7 581.5H260.1V698.6H263.7" fill="none" stroke="#111" stroke-width="0.75"/>
<text x="257.8" y="532.5" font-size="7.6" text-anchor="middle" fill="#000" stroke="#000" stroke-width="0.22" transform="rotate(-90 257.8 532.5)">CEPT</text>
<text x="257.8" y="640.6" font-size="7.6" text-anchor="middle" fill="#000" stroke="#000" stroke-width="0.22" transform="rotate(-90 257.8 640.6)">Y-27632</text>
<text x="279.8" y="496.4" font-size="6.6" text-anchor="middle" fill="#C49A00" stroke="#C49A00" stroke-width="0.22" transform="rotate(-90 279.8 496.4)">Cluster 1</text>
<text x="279.8" y="528.5" font-size="6.6" text-anchor="middle" fill="#F8766D" stroke="#F8766D" stroke-width="0.22" transform="rotate(-90 279.8 528.5)">Cluster 2</text>
<text x="279.8" y="563.7" font-size="6.6" text-anchor="middle" fill="#D2381C" stroke="#D2381C" stroke-width="0.22" transform="rotate(-90 279.8 563.7)">Cluster 3</text>
<text x="279.8" y="594.5" font-size="6.6" text-anchor="middle" fill="#00B4EE" stroke="#00B4EE" stroke-width="0.22" transform="rotate(-90 279.8 594.5)">Cluster 4</text>
<text x="279.8" y="629.4" font-size="6.6" text-anchor="middle" fill="#FB61D7" stroke="#FB61D7" stroke-width="0.22" transform="rotate(-90 279.8 629.4)">Cluster 5</text>
<text x="279.8" y="659.3" font-size="6.6" text-anchor="middle" fill="#00C08B" stroke="#00C08B" stroke-width="0.22" transform="rotate(-90 279.8 659.3)">Cluster 6</text>
<text x="279.8" y="686.6" font-size="6.6" text-anchor="middle" fill="#A58AFF" stroke="#A58AFF" stroke-width="0.22" transform="rotate(-90 279.8 686.6)">Cluster 7</text>
</svg></body></html>
